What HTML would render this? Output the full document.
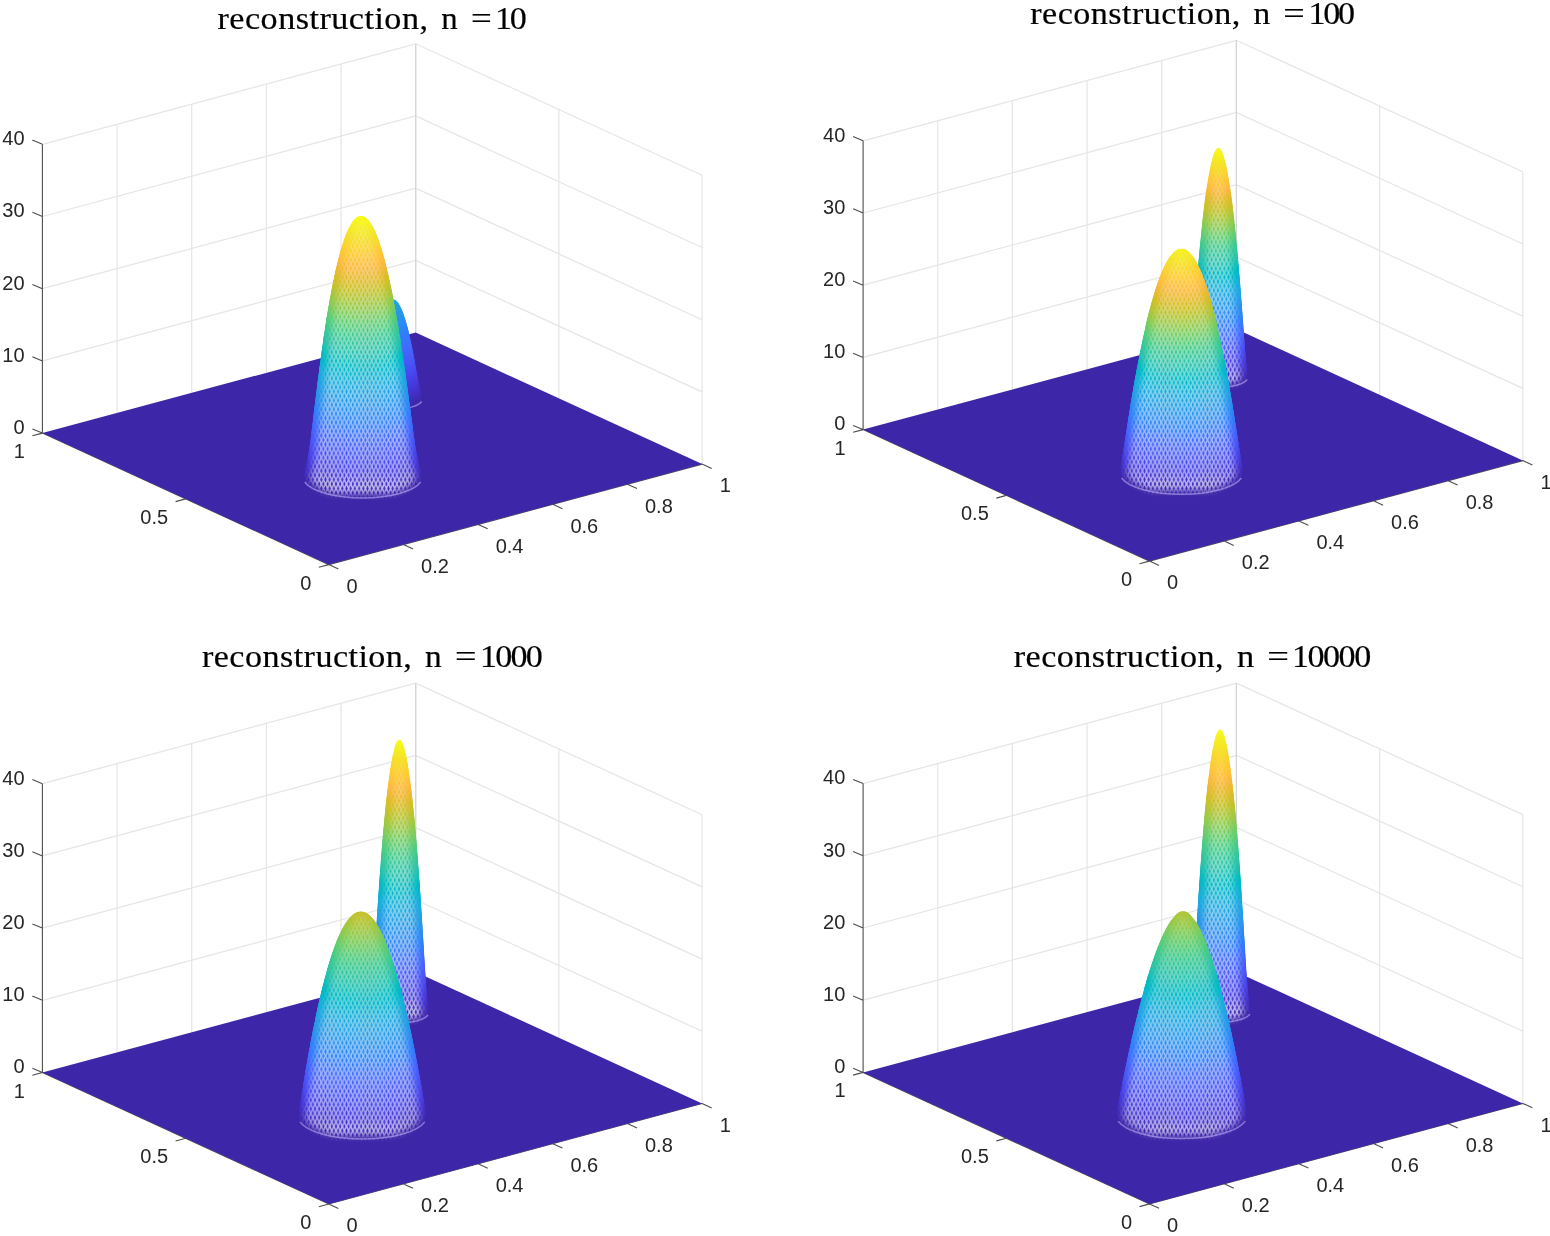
<!DOCTYPE html>
<html lang="en"><head><meta charset="utf-8"><title>reconstruction</title>
<style>html,body{margin:0;padding:0;background:#fff}svg{display:block}.t{font-family:"Liberation Serif","DejaVu Serif",serif;font-size:31px;fill:#000;stroke:#000;stroke-width:0.2px}.k{font-family:"Liberation Sans","DejaVu Sans",sans-serif;font-size:20px;fill:#262626}.g{stroke:#e5e5e5;stroke-width:1.2;fill:none}.a{stroke:#4d4d4d;stroke-width:1.1;fill:none}</style></head><body>
<svg width="1550" height="1236" viewBox="0 0 1550 1236">
<defs>
<pattern id="mesh" patternUnits="userSpaceOnUse" width="4.2" height="8.8"><path d="M0 0H4.2V8.8H0ZM0.95 4.4L2.1 1.5L3.25 4.4L2.1 7.3ZM-1.15 0L0 -2.9L1.15 0L0 2.9ZM3.05 0L4.2 -2.9L5.35 0L4.2 2.9ZM-1.15 8.8L0 5.9L1.15 8.8L0 11.7ZM3.05 8.8L4.2 5.9L5.35 8.8L4.2 11.7Z" fill="#fff" fill-rule="evenodd" fill-opacity="0.74"/><rect width="4.2" height="8.8" fill="#fff" fill-opacity="0.0"/></pattern>
<filter id="bl" x="-30%" y="-10%" width="160%" height="120%"><feGaussianBlur stdDeviation="3.0"/></filter>
<linearGradient id="g2" gradientUnits="userSpaceOnUse" x1="0" y1="496.6" x2="0" y2="216.2"><stop offset="0" stop-color="#fff" stop-opacity="1"/><stop offset="0.035" stop-color="#fff" stop-opacity="0.95"/><stop offset="0.09" stop-color="#fff" stop-opacity="0.72"/><stop offset="0.5" stop-color="#fff" stop-opacity="0.63"/><stop offset="0.8" stop-color="#fff" stop-opacity="0.42"/><stop offset="1" stop-color="#fff" stop-opacity="0.25"/></linearGradient>
<mask id="m2" maskUnits="userSpaceOnUse" x="294.9" y="207.8" width="135.5" height="298.2"><path d="M359.4 221.8L358.1 223.8L356.9 225.8L355.9 227.8L354.9 229.8L354 231.8L353.2 233.8L352.4 235.8L351.7 237.8L351 239.8L350.3 241.8L349.6 243.8L349 245.8L348.4 247.8L347.8 249.8L347.3 251.8L346.7 253.8L346.2 255.8L345.6 257.8L345.1 259.8L344.6 261.8L344.1 263.8L343.7 265.8L343.2 267.8L342.7 269.8L342.3 271.8L341.8 273.8L341.4 275.8L341 277.8L340.6 279.8L340.2 281.8L339.7 283.8L339.3 285.8L339 287.8L338.6 289.8L338.2 291.8L337.8 293.8L337.4 295.8L337.1 297.8L336.7 299.8L336.3 301.8L336 303.8L335.6 305.8L335.3 307.8L335 309.8L334.6 311.8L334.3 313.8L334 315.8L333.6 317.8L333.3 319.8L333 321.8L332.7 323.8L332.4 325.8L332 327.8L331.7 329.8L331.4 331.8L331.1 333.8L330.8 335.8L330.5 337.8L330.2 339.8L329.9 341.8L329.7 343.8L329.4 345.8L329.1 347.8L328.8 349.8L328.5 351.8L328.2 353.8L328 355.8L327.7 357.8L327.4 359.8L327.2 361.8L326.9 363.8L326.6 365.8L326.4 367.8L326.1 369.8L325.8 371.8L325.6 373.8L325.3 375.8L325.1 377.8L324.8 379.8L324.6 381.8L324.3 383.8L324.1 385.8L323.8 387.8L323.6 389.8L323.3 391.8L323.1 393.8L322.8 395.8L322.6 397.8L322.3 399.8L322.1 401.8L321.9 403.8L321.6 405.8L321.4 407.8L321.1 409.8L320.9 411.8L320.7 413.8L320.4 415.8L320.2 417.8L320 419.8L319.7 421.8L319.5 423.8L319.2 425.8L319 427.8L318.8 429.8L318.5 431.8L318.3 433.8L318 435.8L317.8 437.8L317.5 439.8L317.2 441.8L317 443.8L316.7 445.8L316.4 447.8L316.1 449.8L315.8 451.8L315.4 453.8L315.1 455.8L314.7 457.8L314.4 459.8L313.9 461.8L313.5 463.8L313 465.8L312.5 467.8L311.9 469.8L311.3 471.8L310.6 473.8L310 475.8L309.9 477.8L310.4 479.8L311.5 481.8L313.1 483.8L315.4 485.8L318.4 487.8L322.3 489.8L327.3 491.8L333.9 493.8L391.5 493.8L398.1 491.8L403.1 489.8L407 487.8L410 485.8L412.3 483.8L413.9 481.8L415 479.8L415.5 477.8L415.4 475.8L414.8 473.8L414.1 471.8L413.4 469.8L412.8 467.8L412.3 465.8L411.8 463.8L411.3 461.8L410.9 459.8L410.4 457.8L410.1 455.8L409.7 453.8L409.3 451.8L409 449.8L408.7 447.8L408.3 445.8L408 443.8L407.7 441.8L407.5 439.8L407.2 437.8L406.9 435.8L406.6 433.8L406.3 431.8L406.1 429.8L405.8 427.8L405.5 425.8L405.3 423.8L405 421.8L404.7 419.8L404.5 417.8L404.2 415.8L404 413.8L403.7 411.8L403.4 409.8L403.2 407.8L402.9 405.8L402.6 403.8L402.4 401.8L402.1 399.8L401.9 397.8L401.6 395.8L401.3 393.8L401.1 391.8L400.8 389.8L400.5 387.8L400.2 385.8L400 383.8L399.7 381.8L399.4 379.8L399.1 377.8L398.9 375.8L398.6 373.8L398.3 371.8L398 369.8L397.7 367.8L397.4 365.8L397.1 363.8L396.8 361.8L396.5 359.8L396.3 357.8L396 355.8L395.7 353.8L395.4 351.8L395 349.8L394.7 347.8L394.4 345.8L394.1 343.8L393.8 341.8L393.5 339.8L393.2 337.8L392.8 335.8L392.5 333.8L392.2 331.8L391.9 329.8L391.5 327.8L391.2 325.8L390.9 323.8L390.5 321.8L390.2 319.8L389.8 317.8L389.5 315.8L389.1 313.8L388.8 311.8L388.4 309.8L388 307.8L387.7 305.8L387.3 303.8L386.9 301.8L386.5 299.8L386.1 297.8L385.8 295.8L385.4 293.8L385 291.8L384.5 289.8L384.1 287.8L383.7 285.8L383.3 283.8L382.9 281.8L382.4 279.8L382 277.8L381.5 275.8L381.1 273.8L380.6 271.8L380.1 269.8L379.6 267.8L379.2 265.8L378.7 263.8L378.1 261.8L377.6 259.8L377.1 257.8L376.5 255.8L376 253.8L375.4 251.8L374.8 249.8L374.2 247.8L373.6 245.8L372.9 243.8L372.2 241.8L371.5 239.8L370.8 237.8L370 235.8L369.2 233.8L368.4 231.8L367.5 229.8L366.5 227.8L365.4 225.8L364.2 223.8L362.9 221.8Z" fill="url(#g2)" filter="url(#bl)"/></mask>
<linearGradient id="g3" gradientUnits="userSpaceOnUse" x1="0" y1="386.9" x2="0" y2="147.8"><stop offset="0" stop-color="#fff" stop-opacity="1"/><stop offset="0.035" stop-color="#fff" stop-opacity="0.95"/><stop offset="0.09" stop-color="#fff" stop-opacity="0.72"/><stop offset="0.5" stop-color="#fff" stop-opacity="0.63"/><stop offset="0.8" stop-color="#fff" stop-opacity="0.42"/><stop offset="1" stop-color="#fff" stop-opacity="0.25"/></linearGradient>
<mask id="m3" maskUnits="userSpaceOnUse" x="1180.8" y="139.7" width="75.2" height="255.7"><path d="M1217.5 165.8L1217.1 167.8L1216.7 169.8L1216.3 171.8L1215.9 173.8L1215.5 175.8L1215.2 177.8L1214.8 179.8L1214.5 181.8L1214.2 183.8L1213.9 185.8L1213.6 187.8L1213.3 189.8L1213 191.8L1212.8 193.8L1212.5 195.8L1212.2 197.8L1212 199.8L1211.7 201.8L1211.4 203.8L1211.2 205.8L1211 207.8L1210.7 209.8L1210.5 211.8L1210.3 213.8L1210 215.8L1209.8 217.8L1209.6 219.8L1209.4 221.8L1209.2 223.8L1208.9 225.8L1208.7 227.8L1208.5 229.8L1208.3 231.8L1208.1 233.8L1207.9 235.8L1207.7 237.8L1207.5 239.8L1207.3 241.8L1207.1 243.8L1207 245.8L1206.8 247.8L1206.6 249.8L1206.4 251.8L1206.2 253.8L1206 255.8L1205.9 257.8L1205.7 259.8L1205.5 261.8L1205.3 263.8L1205.2 265.8L1205 267.8L1204.8 269.8L1204.6 271.8L1204.5 273.8L1204.3 275.8L1204.2 277.8L1204 279.8L1203.8 281.8L1203.7 283.8L1203.5 285.8L1203.3 287.8L1203.2 289.8L1203 291.8L1202.9 293.8L1202.7 295.8L1202.6 297.8L1202.4 299.8L1202.3 301.8L1202.1 303.8L1202 305.8L1201.8 307.8L1201.7 309.8L1201.5 311.8L1201.4 313.8L1201.2 315.8L1201.1 317.8L1200.9 319.8L1200.8 321.8L1200.6 323.8L1200.5 325.8L1200.3 327.8L1200.2 329.8L1200.1 331.8L1199.9 333.8L1199.8 335.8L1199.6 337.8L1199.5 339.8L1199.3 341.8L1199.1 343.8L1199 345.8L1198.8 347.8L1198.7 349.8L1198.5 351.8L1198.3 353.8L1198.2 355.8L1198 357.8L1197.8 359.8L1197.6 361.8L1197.4 363.8L1197.2 365.8L1196.9 367.8L1196.7 369.8L1196.4 371.8L1196.2 373.8L1195.8 375.8L1195.8 377.8L1196.8 379.8L1199 381.8L1202.8 383.8L1234 383.8L1237.8 381.8L1240 379.8L1241 377.8L1241 375.8L1240.6 373.8L1240.4 371.8L1240.1 369.8L1239.9 367.8L1239.6 365.8L1239.4 363.8L1239.2 361.8L1239 359.8L1238.8 357.8L1238.6 355.8L1238.5 353.8L1238.3 351.8L1238.1 349.8L1238 347.8L1237.8 345.8L1237.7 343.8L1237.5 341.8L1237.3 339.8L1237.2 337.8L1237 335.8L1236.9 333.8L1236.7 331.8L1236.6 329.8L1236.5 327.8L1236.3 325.8L1236.2 323.8L1236 321.8L1235.9 319.8L1235.7 317.8L1235.6 315.8L1235.4 313.8L1235.3 311.8L1235.1 309.8L1235 307.8L1234.8 305.8L1234.7 303.8L1234.5 301.8L1234.4 299.8L1234.2 297.8L1234.1 295.8L1233.9 293.8L1233.8 291.8L1233.6 289.8L1233.5 287.8L1233.3 285.8L1233.1 283.8L1233 281.8L1232.8 279.8L1232.6 277.8L1232.5 275.8L1232.3 273.8L1232.2 271.8L1232 269.8L1231.8 267.8L1231.6 265.8L1231.5 263.8L1231.3 261.8L1231.1 259.8L1230.9 257.8L1230.8 255.8L1230.6 253.8L1230.4 251.8L1230.2 249.8L1230 247.8L1229.8 245.8L1229.7 243.8L1229.5 241.8L1229.3 239.8L1229.1 237.8L1228.9 235.8L1228.7 233.8L1228.5 231.8L1228.3 229.8L1228.1 227.8L1227.9 225.8L1227.6 223.8L1227.4 221.8L1227.2 219.8L1227 217.8L1226.8 215.8L1226.5 213.8L1226.3 211.8L1226.1 209.8L1225.8 207.8L1225.6 205.8L1225.4 203.8L1225.1 201.8L1224.8 199.8L1224.6 197.8L1224.3 195.8L1224 193.8L1223.8 191.8L1223.5 189.8L1223.2 187.8L1222.9 185.8L1222.6 183.8L1222.3 181.8L1222 179.8L1221.6 177.8L1221.3 175.8L1220.9 173.8L1220.5 171.8L1220.1 169.8L1219.7 167.8L1219.3 165.8Z" fill="url(#g3)" filter="url(#bl)"/></mask>
<linearGradient id="g4" gradientUnits="userSpaceOnUse" x1="0" y1="494.3" x2="0" y2="249.1"><stop offset="0" stop-color="#fff" stop-opacity="1"/><stop offset="0.035" stop-color="#fff" stop-opacity="0.95"/><stop offset="0.09" stop-color="#fff" stop-opacity="0.72"/><stop offset="0.5" stop-color="#fff" stop-opacity="0.63"/><stop offset="0.8" stop-color="#fff" stop-opacity="0.42"/><stop offset="1" stop-color="#fff" stop-opacity="0.25"/></linearGradient>
<mask id="m4" maskUnits="userSpaceOnUse" x="1111.7" y="240.6" width="139.6" height="262"><path d="M1180.3 252.6L1178.5 254.6L1176.9 256.6L1175.6 258.6L1174.3 260.6L1173.2 262.6L1172.2 264.6L1171.2 266.6L1170.2 268.6L1169.4 270.6L1168.5 272.6L1167.7 274.6L1166.9 276.6L1166.1 278.6L1165.4 280.6L1164.7 282.6L1164 284.6L1163.3 286.6L1162.7 288.6L1162.1 290.6L1161.4 292.6L1160.8 294.6L1160.2 296.6L1159.6 298.6L1159.1 300.6L1158.5 302.6L1158 304.6L1157.4 306.6L1156.9 308.6L1156.4 310.6L1155.9 312.6L1155.4 314.6L1154.9 316.6L1154.4 318.6L1153.9 320.6L1153.4 322.6L1152.9 324.6L1152.5 326.6L1152 328.6L1151.6 330.6L1151.1 332.6L1150.7 334.6L1150.2 336.6L1149.8 338.6L1149.4 340.6L1148.9 342.6L1148.5 344.6L1148.1 346.6L1147.7 348.6L1147.3 350.6L1146.9 352.6L1146.5 354.6L1146.1 356.6L1145.7 358.6L1145.3 360.6L1144.9 362.6L1144.6 364.6L1144.2 366.6L1143.8 368.6L1143.4 370.6L1143.1 372.6L1142.7 374.6L1142.3 376.6L1142 378.6L1141.6 380.6L1141.3 382.6L1140.9 384.6L1140.6 386.6L1140.2 388.6L1139.9 390.6L1139.5 392.6L1139.2 394.6L1138.9 396.6L1138.5 398.6L1138.2 400.6L1137.9 402.6L1137.5 404.6L1137.2 406.6L1136.9 408.6L1136.6 410.6L1136.2 412.6L1135.9 414.6L1135.6 416.6L1135.3 418.6L1135 420.6L1134.7 422.6L1134.4 424.6L1134 426.6L1133.7 428.6L1133.4 430.6L1133.1 432.6L1132.8 434.6L1132.5 436.6L1132.2 438.6L1131.9 440.6L1131.6 442.6L1131.3 444.6L1131 446.6L1130.6 448.6L1130.3 450.6L1130 452.6L1129.7 454.6L1129.4 456.6L1129.1 458.6L1128.7 460.6L1128.4 462.6L1128.1 464.6L1127.7 466.6L1127.3 468.6L1127 470.6L1126.7 472.6L1126.9 474.6L1127.7 476.6L1129 478.6L1130.9 480.6L1133.4 482.6L1136.7 484.6L1140.8 486.6L1146.2 488.6L1153.2 490.6L1209.8 490.6L1216.8 488.6L1222.2 486.6L1226.3 484.6L1229.6 482.6L1232.1 480.6L1234 478.6L1235.3 476.6L1236.1 474.6L1236.3 472.6L1236 470.6L1235.7 468.6L1235.3 466.6L1234.9 464.6L1234.6 462.6L1234.3 460.6L1233.9 458.6L1233.6 456.6L1233.3 454.6L1233 452.6L1232.7 450.6L1232.4 448.6L1232 446.6L1231.7 444.6L1231.4 442.6L1231.1 440.6L1230.8 438.6L1230.5 436.6L1230.2 434.6L1229.9 432.6L1229.6 430.6L1229.3 428.6L1229 426.6L1228.6 424.6L1228.3 422.6L1228 420.6L1227.7 418.6L1227.4 416.6L1227.1 414.6L1226.8 412.6L1226.4 410.6L1226.1 408.6L1225.8 406.6L1225.5 404.6L1225.1 402.6L1224.8 400.6L1224.5 398.6L1224.1 396.6L1223.8 394.6L1223.5 392.6L1223.1 390.6L1222.8 388.6L1222.4 386.6L1222.1 384.6L1221.7 382.6L1221.4 380.6L1221 378.6L1220.7 376.6L1220.3 374.6L1219.9 372.6L1219.6 370.6L1219.2 368.6L1218.8 366.6L1218.4 364.6L1218.1 362.6L1217.7 360.6L1217.3 358.6L1216.9 356.6L1216.5 354.6L1216.1 352.6L1215.7 350.6L1215.3 348.6L1214.9 346.6L1214.5 344.6L1214.1 342.6L1213.6 340.6L1213.2 338.6L1212.8 336.6L1212.3 334.6L1211.9 332.6L1211.4 330.6L1211 328.6L1210.5 326.6L1210.1 324.6L1209.6 322.6L1209.1 320.6L1208.6 318.6L1208.1 316.6L1207.6 314.6L1207.1 312.6L1206.6 310.6L1206.1 308.6L1205.6 306.6L1205 304.6L1204.5 302.6L1203.9 300.6L1203.4 298.6L1202.8 296.6L1202.2 294.6L1201.6 292.6L1200.9 290.6L1200.3 288.6L1199.7 286.6L1199 284.6L1198.3 282.6L1197.6 280.6L1196.9 278.6L1196.1 276.6L1195.3 274.6L1194.5 272.6L1193.6 270.6L1192.8 268.6L1191.8 266.6L1190.8 264.6L1189.8 262.6L1188.7 260.6L1187.4 258.6L1186.1 256.6L1184.5 254.6L1182.7 252.6Z" fill="url(#g4)" filter="url(#bl)"/></mask>
<linearGradient id="g5" gradientUnits="userSpaceOnUse" x1="0" y1="1022.3" x2="0" y2="739.3"><stop offset="0" stop-color="#fff" stop-opacity="1"/><stop offset="0.035" stop-color="#fff" stop-opacity="0.95"/><stop offset="0.09" stop-color="#fff" stop-opacity="0.72"/><stop offset="0.5" stop-color="#fff" stop-opacity="0.63"/><stop offset="0.8" stop-color="#fff" stop-opacity="0.42"/><stop offset="1" stop-color="#fff" stop-opacity="0.25"/></linearGradient>
<mask id="m5" maskUnits="userSpaceOnUse" x="362" y="731.3" width="74.8" height="299.6"><path d="M398.8 759.3L398.5 761.3L398.1 763.3L397.8 765.3L397.5 767.3L397.1 769.3L396.8 771.3L396.5 773.3L396.3 775.3L396 777.3L395.7 779.3L395.5 781.3L395.2 783.3L394.9 785.3L394.7 787.3L394.4 789.3L394.2 791.3L394 793.3L393.8 795.3L393.5 797.3L393.3 799.3L393.1 801.3L392.9 803.3L392.7 805.3L392.5 807.3L392.3 809.3L392.1 811.3L391.9 813.3L391.7 815.3L391.5 817.3L391.3 819.3L391.1 821.3L390.9 823.3L390.7 825.3L390.6 827.3L390.4 829.3L390.2 831.3L390 833.3L389.9 835.3L389.7 837.3L389.5 839.3L389.3 841.3L389.2 843.3L389 845.3L388.9 847.3L388.7 849.3L388.5 851.3L388.4 853.3L388.2 855.3L388.1 857.3L387.9 859.3L387.8 861.3L387.6 863.3L387.4 865.3L387.3 867.3L387.1 869.3L387 871.3L386.9 873.3L386.7 875.3L386.6 877.3L386.4 879.3L386.3 881.3L386.1 883.3L386 885.3L385.9 887.3L385.7 889.3L385.6 891.3L385.4 893.3L385.3 895.3L385.2 897.3L385 899.3L384.9 901.3L384.8 903.3L384.6 905.3L384.5 907.3L384.4 909.3L384.3 911.3L384.1 913.3L384 915.3L383.9 917.3L383.7 919.3L383.6 921.3L383.5 923.3L383.4 925.3L383.2 927.3L383.1 929.3L383 931.3L382.9 933.3L382.8 935.3L382.6 937.3L382.5 939.3L382.4 941.3L382.3 943.3L382.1 945.3L382 947.3L381.9 949.3L381.8 951.3L381.7 953.3L381.6 955.3L381.4 957.3L381.3 959.3L381.2 961.3L381.1 963.3L380.9 965.3L380.8 967.3L380.7 969.3L380.6 971.3L380.5 973.3L380.3 975.3L380.2 977.3L380.1 979.3L379.9 981.3L379.8 983.3L379.7 985.3L379.5 987.3L379.4 989.3L379.2 991.3L379 993.3L378.9 995.3L378.7 997.3L378.5 999.3L378.3 1001.3L378.1 1003.3L377.9 1005.3L377.6 1007.3L377.3 1009.3L377 1011.3L377 1013.3L378 1015.3L380.3 1017.3L384.2 1019.3L414.6 1019.3L418.5 1017.3L420.8 1015.3L421.8 1013.3L421.8 1011.3L421.5 1009.3L421.2 1007.3L420.9 1005.3L420.7 1003.3L420.5 1001.3L420.3 999.3L420.1 997.3L419.9 995.3L419.8 993.3L419.6 991.3L419.4 989.3L419.3 987.3L419.1 985.3L419 983.3L418.9 981.3L418.7 979.3L418.6 977.3L418.5 975.3L418.3 973.3L418.2 971.3L418.1 969.3L418 967.3L417.9 965.3L417.7 963.3L417.6 961.3L417.5 959.3L417.4 957.3L417.2 955.3L417.1 953.3L417 951.3L416.9 949.3L416.8 947.3L416.7 945.3L416.5 943.3L416.4 941.3L416.3 939.3L416.2 937.3L416 935.3L415.9 933.3L415.8 931.3L415.7 929.3L415.6 927.3L415.4 925.3L415.3 923.3L415.2 921.3L415.1 919.3L414.9 917.3L414.8 915.3L414.7 913.3L414.5 911.3L414.4 909.3L414.3 907.3L414.2 905.3L414 903.3L413.9 901.3L413.8 899.3L413.6 897.3L413.5 895.3L413.4 893.3L413.2 891.3L413.1 889.3L412.9 887.3L412.8 885.3L412.7 883.3L412.5 881.3L412.4 879.3L412.2 877.3L412.1 875.3L411.9 873.3L411.8 871.3L411.7 869.3L411.5 867.3L411.4 865.3L411.2 863.3L411 861.3L410.9 859.3L410.7 857.3L410.6 855.3L410.4 853.3L410.3 851.3L410.1 849.3L409.9 847.3L409.8 845.3L409.6 843.3L409.5 841.3L409.3 839.3L409.1 837.3L408.9 835.3L408.8 833.3L408.6 831.3L408.4 829.3L408.2 827.3L408.1 825.3L407.9 823.3L407.7 821.3L407.5 819.3L407.3 817.3L407.1 815.3L406.9 813.3L406.7 811.3L406.5 809.3L406.3 807.3L406.1 805.3L405.9 803.3L405.7 801.3L405.5 799.3L405.3 797.3L405 795.3L404.8 793.3L404.6 791.3L404.4 789.3L404.1 787.3L403.9 785.3L403.6 783.3L403.3 781.3L403.1 779.3L402.8 777.3L402.5 775.3L402.3 773.3L402 771.3L401.7 769.3L401.3 767.3L401 765.3L400.7 763.3L400.3 761.3L400 759.3Z" fill="url(#g5)" filter="url(#bl)"/></mask>
<linearGradient id="g6" gradientUnits="userSpaceOnUse" x1="0" y1="1139" x2="0" y2="912"><stop offset="0" stop-color="#fff" stop-opacity="1"/><stop offset="0.035" stop-color="#fff" stop-opacity="0.95"/><stop offset="0.09" stop-color="#fff" stop-opacity="0.72"/><stop offset="0.5" stop-color="#fff" stop-opacity="0.63"/><stop offset="0.8" stop-color="#fff" stop-opacity="0.42"/><stop offset="1" stop-color="#fff" stop-opacity="0.25"/></linearGradient>
<mask id="m6" maskUnits="userSpaceOnUse" x="290.2" y="903.4" width="144.5" height="243.7"><path d="M358.8 915.4L356.8 917.4L355.2 919.4L353.7 921.4L352.4 923.4L351.1 925.4L350 927.4L348.9 929.4L347.9 931.4L347 933.4L346 935.4L345.2 937.4L344.3 939.4L343.5 941.4L342.7 943.4L342 945.4L341.2 947.4L340.5 949.4L339.8 951.4L339.1 953.4L338.4 955.4L337.8 957.4L337.2 959.4L336.5 961.4L335.9 963.4L335.3 965.4L334.7 967.4L334.2 969.4L333.6 971.4L333 973.4L332.5 975.4L331.9 977.4L331.4 979.4L330.9 981.4L330.4 983.4L329.9 985.4L329.4 987.4L328.9 989.4L328.4 991.4L327.9 993.4L327.4 995.4L327 997.4L326.5 999.4L326 1001.4L325.6 1003.4L325.1 1005.4L324.7 1007.4L324.3 1009.4L323.8 1011.4L323.4 1013.4L323 1015.4L322.5 1017.4L322.1 1019.4L321.7 1021.4L321.3 1023.4L320.9 1025.4L320.5 1027.4L320.1 1029.4L319.7 1031.4L319.3 1033.4L318.9 1035.4L318.5 1037.4L318.2 1039.4L317.8 1041.4L317.4 1043.4L317 1045.4L316.7 1047.4L316.3 1049.4L315.9 1051.4L315.6 1053.4L315.2 1055.4L314.9 1057.4L314.5 1059.4L314.1 1061.4L313.8 1063.4L313.5 1065.4L313.1 1067.4L312.8 1069.4L312.4 1071.4L312.1 1073.4L311.7 1075.4L311.4 1077.4L311.1 1079.4L310.7 1081.4L310.4 1083.4L310.1 1085.4L309.8 1087.4L309.4 1089.4L309.1 1091.4L308.8 1093.4L308.4 1095.4L308.1 1097.4L307.8 1099.4L307.5 1101.4L307.1 1103.4L306.8 1105.4L306.5 1107.4L306.2 1109.4L305.8 1111.4L305.5 1113.4L305.2 1115.4L305.2 1117.4L305.6 1119.4L306.6 1121.4L308.2 1123.4L310.3 1125.4L313.1 1127.4L316.7 1129.4L321.1 1131.4L326.8 1133.4L334.2 1135.4L390.6 1135.4L398 1133.4L403.7 1131.4L408.1 1129.4L411.7 1127.4L414.5 1125.4L416.6 1123.4L418.2 1121.4L419.2 1119.4L419.6 1117.4L419.6 1115.4L419.3 1113.4L418.9 1111.4L418.5 1109.4L418.2 1107.4L417.8 1105.4L417.5 1103.4L417.1 1101.4L416.8 1099.4L416.4 1097.4L416 1095.4L415.7 1093.4L415.3 1091.4L415 1089.4L414.6 1087.4L414.3 1085.4L413.9 1083.4L413.5 1081.4L413.2 1079.4L412.8 1077.4L412.4 1075.4L412.1 1073.4L411.7 1071.4L411.3 1069.4L410.9 1067.4L410.6 1065.4L410.2 1063.4L409.8 1061.4L409.4 1059.4L409 1057.4L408.7 1055.4L408.3 1053.4L407.9 1051.4L407.5 1049.4L407.1 1047.4L406.7 1045.4L406.3 1043.4L405.9 1041.4L405.5 1039.4L405 1037.4L404.6 1035.4L404.2 1033.4L403.8 1031.4L403.4 1029.4L402.9 1027.4L402.5 1025.4L402.1 1023.4L401.6 1021.4L401.2 1019.4L400.7 1017.4L400.3 1015.4L399.8 1013.4L399.4 1011.4L398.9 1009.4L398.4 1007.4L397.9 1005.4L397.5 1003.4L397 1001.4L396.5 999.4L396 997.4L395.5 995.4L395 993.4L394.5 991.4L394 989.4L393.4 987.4L392.9 985.4L392.4 983.4L391.8 981.4L391.3 979.4L390.7 977.4L390.1 975.4L389.5 973.4L389 971.4L388.4 969.4L387.7 967.4L387.1 965.4L386.5 963.4L385.9 961.4L385.2 959.4L384.5 957.4L383.9 955.4L383.2 953.4L382.4 951.4L381.7 949.4L381 947.4L380.2 945.4L379.4 943.4L378.6 941.4L377.7 939.4L376.9 937.4L375.9 935.4L375 933.4L374 931.4L373 929.4L371.9 927.4L370.7 925.4L369.4 923.4L368.1 921.4L366.6 919.4L364.9 917.4L362.8 915.4Z" fill="url(#g6)" filter="url(#bl)"/></mask>
<linearGradient id="g7" gradientUnits="userSpaceOnUse" x1="0" y1="1021.4" x2="0" y2="729.1"><stop offset="0" stop-color="#fff" stop-opacity="1"/><stop offset="0.035" stop-color="#fff" stop-opacity="0.95"/><stop offset="0.09" stop-color="#fff" stop-opacity="0.72"/><stop offset="0.5" stop-color="#fff" stop-opacity="0.63"/><stop offset="0.8" stop-color="#fff" stop-opacity="0.42"/><stop offset="1" stop-color="#fff" stop-opacity="0.25"/></linearGradient>
<mask id="m7" maskUnits="userSpaceOnUse" x="1181.3" y="721.1" width="77.6" height="309.2"><path d="M1219.6 749.2L1219.2 751.2L1218.9 753.2L1218.5 755.2L1218.2 757.2L1217.9 759.2L1217.6 761.2L1217.3 763.2L1217 765.2L1216.7 767.2L1216.5 769.2L1216.2 771.2L1216 773.2L1215.7 775.2L1215.5 777.2L1215.2 779.2L1215 781.2L1214.8 783.2L1214.5 785.2L1214.3 787.2L1214.1 789.2L1213.9 791.2L1213.7 793.2L1213.5 795.2L1213.2 797.2L1213 799.2L1212.9 801.2L1212.7 803.2L1212.5 805.2L1212.3 807.2L1212.1 809.2L1211.9 811.2L1211.7 813.2L1211.5 815.2L1211.4 817.2L1211.2 819.2L1211 821.2L1210.8 823.2L1210.6 825.2L1210.5 827.2L1210.3 829.2L1210.1 831.2L1210 833.2L1209.8 835.2L1209.7 837.2L1209.5 839.2L1209.3 841.2L1209.2 843.2L1209 845.2L1208.9 847.2L1208.7 849.2L1208.6 851.2L1208.4 853.2L1208.3 855.2L1208.1 857.2L1208 859.2L1207.8 861.2L1207.7 863.2L1207.5 865.2L1207.4 867.2L1207.2 869.2L1207.1 871.2L1207 873.2L1206.8 875.2L1206.7 877.2L1206.5 879.2L1206.4 881.2L1206.3 883.2L1206.1 885.2L1206 887.2L1205.9 889.2L1205.7 891.2L1205.6 893.2L1205.5 895.2L1205.3 897.2L1205.2 899.2L1205.1 901.2L1205 903.2L1204.8 905.2L1204.7 907.2L1204.6 909.2L1204.5 911.2L1204.3 913.2L1204.2 915.2L1204.1 917.2L1204 919.2L1203.8 921.2L1203.7 923.2L1203.6 925.2L1203.5 927.2L1203.4 929.2L1203.2 931.2L1203.1 933.2L1203 935.2L1202.9 937.2L1202.8 939.2L1202.6 941.2L1202.5 943.2L1202.4 945.2L1202.3 947.2L1202.2 949.2L1202 951.2L1201.9 953.2L1201.8 955.2L1201.7 957.2L1201.6 959.2L1201.4 961.2L1201.3 963.2L1201.2 965.2L1201.1 967.2L1200.9 969.2L1200.8 971.2L1200.7 973.2L1200.5 975.2L1200.4 977.2L1200.3 979.2L1200.1 981.2L1200 983.2L1199.8 985.2L1199.6 987.2L1199.4 989.2L1199.3 991.2L1199 993.2L1198.8 995.2L1198.6 997.2L1198.4 999.2L1198.1 1001.2L1197.8 1003.2L1197.5 1005.2L1197.1 1007.2L1196.7 1009.2L1196.3 1011.2L1196.7 1013.2L1198.1 1015.2L1200.8 1017.2L1205.3 1019.2L1234.9 1019.2L1239.4 1017.2L1242.1 1015.2L1243.5 1013.2L1243.9 1011.2L1243.5 1009.2L1243.1 1007.2L1242.7 1005.2L1242.4 1003.2L1242.1 1001.2L1241.8 999.2L1241.6 997.2L1241.4 995.2L1241.2 993.2L1240.9 991.2L1240.8 989.2L1240.6 987.2L1240.4 985.2L1240.2 983.2L1240.1 981.2L1239.9 979.2L1239.8 977.2L1239.7 975.2L1239.5 973.2L1239.4 971.2L1239.3 969.2L1239.1 967.2L1239 965.2L1238.9 963.2L1238.8 961.2L1238.6 959.2L1238.5 957.2L1238.4 955.2L1238.3 953.2L1238.2 951.2L1238 949.2L1237.9 947.2L1237.8 945.2L1237.7 943.2L1237.6 941.2L1237.4 939.2L1237.3 937.2L1237.2 935.2L1237.1 933.2L1237 931.2L1236.8 929.2L1236.7 927.2L1236.6 925.2L1236.5 923.2L1236.4 921.2L1236.2 919.2L1236.1 917.2L1236 915.2L1235.9 913.2L1235.7 911.2L1235.6 909.2L1235.5 907.2L1235.4 905.2L1235.2 903.2L1235.1 901.2L1235 899.2L1234.9 897.2L1234.7 895.2L1234.6 893.2L1234.5 891.2L1234.3 889.2L1234.2 887.2L1234.1 885.2L1233.9 883.2L1233.8 881.2L1233.7 879.2L1233.5 877.2L1233.4 875.2L1233.2 873.2L1233.1 871.2L1233 869.2L1232.8 867.2L1232.7 865.2L1232.5 863.2L1232.4 861.2L1232.2 859.2L1232.1 857.2L1231.9 855.2L1231.8 853.2L1231.6 851.2L1231.5 849.2L1231.3 847.2L1231.2 845.2L1231 843.2L1230.9 841.2L1230.7 839.2L1230.5 837.2L1230.4 835.2L1230.2 833.2L1230.1 831.2L1229.9 829.2L1229.7 827.2L1229.6 825.2L1229.4 823.2L1229.2 821.2L1229 819.2L1228.8 817.2L1228.7 815.2L1228.5 813.2L1228.3 811.2L1228.1 809.2L1227.9 807.2L1227.7 805.2L1227.5 803.2L1227.3 801.2L1227.2 799.2L1227 797.2L1226.7 795.2L1226.5 793.2L1226.3 791.2L1226.1 789.2L1225.9 787.2L1225.7 785.2L1225.4 783.2L1225.2 781.2L1225 779.2L1224.7 777.2L1224.5 775.2L1224.2 773.2L1224 771.2L1223.7 769.2L1223.5 767.2L1223.2 765.2L1222.9 763.2L1222.6 761.2L1222.3 759.2L1222 757.2L1221.7 755.2L1221.3 753.2L1221 751.2L1220.6 749.2Z" fill="url(#g7)" filter="url(#bl)"/></mask>
<linearGradient id="g8" gradientUnits="userSpaceOnUse" x1="0" y1="1138.6" x2="0" y2="911.4"><stop offset="0" stop-color="#fff" stop-opacity="1"/><stop offset="0.035" stop-color="#fff" stop-opacity="0.95"/><stop offset="0.09" stop-color="#fff" stop-opacity="0.72"/><stop offset="0.5" stop-color="#fff" stop-opacity="0.63"/><stop offset="0.8" stop-color="#fff" stop-opacity="0.42"/><stop offset="1" stop-color="#fff" stop-opacity="0.25"/></linearGradient>
<mask id="m8" maskUnits="userSpaceOnUse" x="1108.1" y="903.1" width="147.2" height="243.6"><path d="M1182.5 915.1L1180.6 917.1L1179 919.1L1177.6 921.1L1176.3 923.1L1175.1 925.1L1173.9 927.1L1172.8 929.1L1171.8 931.1L1170.8 933.1L1169.9 935.1L1168.9 937.1L1168.1 939.1L1167.2 941.1L1166.4 943.1L1165.6 945.1L1164.8 947.1L1164 949.1L1163.2 951.1L1162.5 953.1L1161.8 955.1L1161.1 957.1L1160.4 959.1L1159.7 961.1L1159 963.1L1158.4 965.1L1157.7 967.1L1157.1 969.1L1156.4 971.1L1155.8 973.1L1155.2 975.1L1154.6 977.1L1154 979.1L1153.4 981.1L1152.8 983.1L1152.2 985.1L1151.7 987.1L1151.1 989.1L1150.6 991.1L1150 993.1L1149.5 995.1L1148.9 997.1L1148.4 999.1L1147.9 1001.1L1147.3 1003.1L1146.8 1005.1L1146.3 1007.1L1145.8 1009.1L1145.3 1011.1L1144.8 1013.1L1144.3 1015.1L1143.8 1017.1L1143.3 1019.1L1142.8 1021.1L1142.4 1023.1L1141.9 1025.1L1141.4 1027.1L1141 1029.1L1140.5 1031.1L1140 1033.1L1139.6 1035.1L1139.1 1037.1L1138.7 1039.1L1138.2 1041.1L1137.8 1043.1L1137.3 1045.1L1136.9 1047.1L1136.4 1049.1L1136 1051.1L1135.6 1053.1L1135.1 1055.1L1134.7 1057.1L1134.3 1059.1L1133.9 1061.1L1133.4 1063.1L1133 1065.1L1132.6 1067.1L1132.2 1069.1L1131.8 1071.1L1131.4 1073.1L1131 1075.1L1130.6 1077.1L1130.1 1079.1L1129.7 1081.1L1129.3 1083.1L1128.9 1085.1L1128.5 1087.1L1128.1 1089.1L1127.8 1091.1L1127.4 1093.1L1127 1095.1L1126.6 1097.1L1126.2 1099.1L1125.8 1101.1L1125.4 1103.1L1125 1105.1L1124.6 1107.1L1124.2 1109.1L1123.8 1111.1L1123.4 1113.1L1123.1 1115.1L1123.2 1117.1L1123.9 1119.1L1125 1121.1L1126.7 1123.1L1129 1125.1L1131.9 1127.1L1135.6 1129.1L1140.2 1131.1L1146.1 1133.1L1153.8 1135.1L1209.6 1135.1L1217.3 1133.1L1223.2 1131.1L1227.8 1129.1L1231.5 1127.1L1234.4 1125.1L1236.7 1123.1L1238.4 1121.1L1239.5 1119.1L1240.2 1117.1L1240.3 1115.1L1240 1113.1L1239.6 1111.1L1239.2 1109.1L1238.9 1107.1L1238.5 1105.1L1238.2 1103.1L1237.8 1101.1L1237.4 1099.1L1237.1 1097.1L1236.7 1095.1L1236.3 1093.1L1236 1091.1L1235.6 1089.1L1235.2 1087.1L1234.9 1085.1L1234.5 1083.1L1234.1 1081.1L1233.7 1079.1L1233.4 1077.1L1233 1075.1L1232.6 1073.1L1232.2 1071.1L1231.8 1069.1L1231.4 1067.1L1231.1 1065.1L1230.7 1063.1L1230.3 1061.1L1229.9 1059.1L1229.5 1057.1L1229.1 1055.1L1228.7 1053.1L1228.3 1051.1L1227.9 1049.1L1227.4 1047.1L1227 1045.1L1226.6 1043.1L1226.2 1041.1L1225.8 1039.1L1225.3 1037.1L1224.9 1035.1L1224.5 1033.1L1224.1 1031.1L1223.6 1029.1L1223.2 1027.1L1222.7 1025.1L1222.3 1023.1L1221.8 1021.1L1221.4 1019.1L1220.9 1017.1L1220.4 1015.1L1220 1013.1L1219.5 1011.1L1219 1009.1L1218.6 1007.1L1218.1 1005.1L1217.6 1003.1L1217.1 1001.1L1216.6 999.1L1216.1 997.1L1215.6 995.1L1215 993.1L1214.5 991.1L1214 989.1L1213.5 987.1L1212.9 985.1L1212.4 983.1L1211.8 981.1L1211.3 979.1L1210.7 977.1L1210.1 975.1L1209.5 973.1L1208.9 971.1L1208.3 969.1L1207.7 967.1L1207.1 965.1L1206.5 963.1L1205.8 961.1L1205.2 959.1L1204.5 957.1L1203.8 955.1L1203.1 953.1L1202.4 951.1L1201.7 949.1L1200.9 947.1L1200.2 945.1L1199.4 943.1L1198.6 941.1L1197.7 939.1L1196.9 937.1L1196 935.1L1195.1 933.1L1194.1 931.1L1193.1 929.1L1192.1 927.1L1190.9 925.1L1189.7 923.1L1188.5 921.1L1187.1 919.1L1185.5 917.1L1183.6 915.1Z" fill="url(#g8)" filter="url(#bl)"/></mask>
</defs>
<rect width="1550" height="1236" fill="#fff"/>
<g>
<path class="g" d="M117.1 413L117.1 124.2M191.7 392.9L191.7 104.1M266.4 372.8L266.4 84M341 352.7L341 63.9M415.7 332.6L415.7 43.8M702.1 464.1L702.1 175.3M558.9 398.4L558.9 109.6M42.4 360.9L415.7 260.4L702.1 391.9M42.4 288.7L415.7 188.2L702.1 319.7M42.4 216.5L415.7 116L702.1 247.5M42.4 144.3L415.7 43.8L702.1 175.3"/>
<path class="g" style="stroke:#d4d4d4" d="M415.7 332.6L415.7 43.8"/>
<path class="a" d="M42.4 144.3L42.4 433.1M42.4 433.1L328.8 564.6L702.1 464.1M42.4 433.1L32.4 428.9M42.4 360.9L32.4 356.7M42.4 288.7L32.4 284.5M42.4 216.5L32.4 212.3M42.4 144.3L32.4 140.1M328.8 564.6L318.8 567.3M185.6 498.9L175.6 501.6M42.4 433.1L32.4 435.8M328.8 564.6L338.4 569M403.5 544.5L413.1 548.9M478.1 524.4L487.7 528.8M552.8 504.3L562.4 508.7M627.4 484.2L637 488.6M702.1 464.1L711.7 468.5"/>
<path d="M42.4 433.1L328.8 564.6L702.1 464.1L415.7 332.6Z" fill="#3e26a8"/>
<g><ellipse cx="393.2" cy="399" rx="29.4" ry="10.3" fill="#3e26a8"/><ellipse cx="393.2" cy="398" rx="29.1" ry="10.2" fill="#3e27ab"/><ellipse cx="393.2" cy="397" rx="28.8" ry="10.1" fill="#3f28ae"/><ellipse cx="393.2" cy="396" rx="28.6" ry="10" fill="#3f29b1"/><ellipse cx="393.2" cy="395" rx="28.3" ry="10" fill="#402ab4"/><ellipse cx="393.2" cy="394" rx="28" ry="9.9" fill="#402bb7"/><ellipse cx="393.2" cy="393" rx="27.8" ry="9.8" fill="#412cb9"/><ellipse cx="393.2" cy="392" rx="27.5" ry="9.7" fill="#412dbc"/><ellipse cx="393.2" cy="391" rx="27.3" ry="9.6" fill="#422ebf"/><ellipse cx="393.2" cy="390" rx="27.1" ry="9.5" fill="#422fc1"/><ellipse cx="393.2" cy="389.1" rx="26.9" ry="9.4" fill="#4230c4"/><ellipse cx="393.2" cy="388.1" rx="26.6" ry="9.4" fill="#4331c7"/><ellipse cx="393.2" cy="387.1" rx="26.4" ry="9.3" fill="#4332c9"/><ellipse cx="393.2" cy="386.1" rx="26.2" ry="9.2" fill="#4433cc"/><ellipse cx="393.2" cy="385.1" rx="26" ry="9.1" fill="#4434cf"/><ellipse cx="393.2" cy="384.1" rx="25.8" ry="9.1" fill="#4435d1"/><ellipse cx="393.2" cy="383.1" rx="25.6" ry="9" fill="#4536d4"/><ellipse cx="393.2" cy="382.1" rx="25.4" ry="8.9" fill="#4537d6"/><ellipse cx="393.2" cy="381.1" rx="25.2" ry="8.9" fill="#4538d8"/><ellipse cx="393.2" cy="380.1" rx="25" ry="8.8" fill="#463ada"/><ellipse cx="393.2" cy="379.1" rx="24.8" ry="8.7" fill="#463bdc"/><ellipse cx="393.2" cy="378.1" rx="24.6" ry="8.7" fill="#463cde"/><ellipse cx="393.2" cy="377.1" rx="24.4" ry="8.6" fill="#463de0"/><ellipse cx="393.2" cy="376.1" rx="24.2" ry="8.5" fill="#473fe2"/><ellipse cx="393.2" cy="375.1" rx="24" ry="8.5" fill="#4740e4"/><ellipse cx="393.2" cy="374.1" rx="23.8" ry="8.4" fill="#4741e5"/><ellipse cx="393.2" cy="373.1" rx="23.7" ry="8.3" fill="#4743e7"/><ellipse cx="393.2" cy="372.1" rx="23.5" ry="8.3" fill="#4744e8"/><ellipse cx="393.2" cy="371.1" rx="23.3" ry="8.2" fill="#4745ea"/><ellipse cx="393.2" cy="370.1" rx="23.1" ry="8.1" fill="#4747eb"/><ellipse cx="393.2" cy="369.1" rx="22.9" ry="8.1" fill="#4848ec"/><ellipse cx="393.2" cy="368.2" rx="22.7" ry="8" fill="#484aed"/><ellipse cx="393.2" cy="367.2" rx="22.6" ry="7.9" fill="#484bef"/><ellipse cx="393.2" cy="366.2" rx="22.4" ry="7.9" fill="#484cf0"/><ellipse cx="393.2" cy="365.2" rx="22.2" ry="7.8" fill="#484ef1"/><ellipse cx="393.2" cy="364.2" rx="22" ry="7.7" fill="#484ff2"/><ellipse cx="393.2" cy="363.2" rx="21.8" ry="7.7" fill="#4850f3"/><ellipse cx="393.2" cy="362.2" rx="21.6" ry="7.6" fill="#4852f4"/><ellipse cx="393.2" cy="361.2" rx="21.5" ry="7.5" fill="#4853f5"/><ellipse cx="393.2" cy="360.2" rx="21.3" ry="7.5" fill="#4854f6"/><ellipse cx="393.2" cy="359.2" rx="21.1" ry="7.4" fill="#4756f6"/><ellipse cx="393.2" cy="358.2" rx="20.9" ry="7.4" fill="#4757f7"/><ellipse cx="393.2" cy="357.2" rx="20.7" ry="7.3" fill="#4758f8"/><ellipse cx="393.2" cy="356.2" rx="20.5" ry="7.2" fill="#475af9"/><ellipse cx="393.2" cy="355.2" rx="20.3" ry="7.2" fill="#475bf9"/><ellipse cx="393.2" cy="354.2" rx="20.1" ry="7.1" fill="#475cfa"/><ellipse cx="393.2" cy="353.2" rx="20" ry="7" fill="#465efb"/><ellipse cx="393.2" cy="352.2" rx="19.8" ry="7" fill="#465ffb"/><ellipse cx="393.2" cy="351.2" rx="19.6" ry="6.9" fill="#4661fc"/><ellipse cx="393.2" cy="350.2" rx="19.4" ry="6.8" fill="#4562fc"/><ellipse cx="393.2" cy="349.2" rx="19.2" ry="6.7" fill="#4563fd"/><ellipse cx="393.2" cy="348.3" rx="19" ry="6.7" fill="#4465fd"/><ellipse cx="393.2" cy="347.3" rx="18.8" ry="6.6" fill="#4466fd"/><ellipse cx="393.2" cy="346.3" rx="18.6" ry="6.5" fill="#4368fd"/><ellipse cx="393.2" cy="345.3" rx="18.4" ry="6.5" fill="#4269fe"/><ellipse cx="393.2" cy="344.3" rx="18.2" ry="6.4" fill="#416afe"/><ellipse cx="393.2" cy="343.3" rx="18" ry="6.3" fill="#406cfe"/><ellipse cx="393.2" cy="342.3" rx="17.8" ry="6.2" fill="#3f6dfe"/><ellipse cx="393.2" cy="341.3" rx="17.5" ry="6.2" fill="#3e6fff"/><ellipse cx="393.2" cy="340.3" rx="17.3" ry="6.1" fill="#3d70ff"/><ellipse cx="393.2" cy="339.3" rx="17.1" ry="6" fill="#3c72ff"/><ellipse cx="393.2" cy="338.3" rx="16.9" ry="5.9" fill="#3a73fe"/><ellipse cx="393.2" cy="337.3" rx="16.7" ry="5.9" fill="#3975fe"/><ellipse cx="393.2" cy="336.3" rx="16.5" ry="5.8" fill="#3776fe"/><ellipse cx="393.2" cy="335.3" rx="16.2" ry="5.7" fill="#3678fe"/><ellipse cx="393.2" cy="334.3" rx="16" ry="5.6" fill="#3479fd"/><ellipse cx="393.2" cy="333.3" rx="15.8" ry="5.5" fill="#337bfd"/><ellipse cx="393.2" cy="332.3" rx="15.5" ry="5.5" fill="#327cfc"/><ellipse cx="393.2" cy="331.3" rx="15.3" ry="5.4" fill="#317efb"/><ellipse cx="393.2" cy="330.3" rx="15.1" ry="5.3" fill="#307ffb"/><ellipse cx="393.2" cy="329.4" rx="14.8" ry="5.2" fill="#2f80fa"/><ellipse cx="393.2" cy="328.4" rx="14.6" ry="5.1" fill="#2f82fa"/><ellipse cx="393.2" cy="327.4" rx="14.3" ry="5" fill="#2e83f9"/><ellipse cx="393.2" cy="326.4" rx="14" ry="4.9" fill="#2e84f8"/><ellipse cx="393.2" cy="325.4" rx="13.8" ry="4.8" fill="#2e86f8"/><ellipse cx="393.2" cy="324.4" rx="13.5" ry="4.8" fill="#2e87f7"/><ellipse cx="393.2" cy="323.4" rx="13.2" ry="4.7" fill="#2d88f6"/><ellipse cx="393.2" cy="322.4" rx="13" ry="4.6" fill="#2d8af5"/><ellipse cx="393.2" cy="321.4" rx="12.7" ry="4.5" fill="#2d8bf4"/><ellipse cx="393.2" cy="320.4" rx="12.4" ry="4.4" fill="#2d8cf3"/><ellipse cx="393.2" cy="319.4" rx="12.1" ry="4.3" fill="#2d8df2"/><ellipse cx="393.2" cy="318.4" rx="11.8" ry="4.1" fill="#2c8ff1"/><ellipse cx="393.2" cy="317.4" rx="11.5" ry="4" fill="#2c90f0"/><ellipse cx="393.2" cy="316.4" rx="11.1" ry="3.9" fill="#2b91ef"/><ellipse cx="393.2" cy="315.4" rx="10.8" ry="3.8" fill="#2a92ee"/><ellipse cx="393.2" cy="314.4" rx="10.5" ry="3.7" fill="#2994ed"/><ellipse cx="393.2" cy="313.4" rx="10.1" ry="3.6" fill="#2995ec"/><ellipse cx="393.2" cy="312.4" rx="9.7" ry="3.4" fill="#2896eb"/><ellipse cx="393.2" cy="311.4" rx="9.4" ry="3.3" fill="#2797eb"/><ellipse cx="393.2" cy="310.4" rx="9" ry="3.2" fill="#2698ea"/><ellipse cx="393.2" cy="309.4" rx="8.5" ry="3" fill="#269ae9"/><ellipse cx="393.2" cy="308.5" rx="8.1" ry="2.9" fill="#259be8"/><ellipse cx="393.2" cy="307.5" rx="7.6" ry="2.7" fill="#259ce7"/><ellipse cx="393.2" cy="306.5" rx="7.1" ry="2.5" fill="#259de7"/><ellipse cx="393.2" cy="305.5" rx="6.6" ry="2.3" fill="#249ee6"/><ellipse cx="393.2" cy="304.5" rx="6" ry="2.1" fill="#249fe5"/><ellipse cx="393.2" cy="303.5" rx="5.4" ry="1.9" fill="#23a0e5"/><ellipse cx="393.2" cy="302.5" rx="4.7" ry="1.6" fill="#22a2e4"/><ellipse cx="393.2" cy="301.5" rx="3.8" ry="1.3" fill="#21a3e4"/><ellipse cx="393.2" cy="300.5" rx="2.7" ry="1" fill="#21a4e3"/></g>
<path d="M364.7 401.5A29.4 10.3 0 0 0 421.7 401.5" fill="none" stroke="#c4b8ff" stroke-opacity="0.55" stroke-width="1.5"/>
<g><ellipse cx="362.7" cy="477" rx="59.8" ry="21" fill="#3e26a8"/><ellipse cx="362.7" cy="476" rx="59.4" ry="20.9" fill="#3e27ab"/><ellipse cx="362.7" cy="475" rx="59.1" ry="20.8" fill="#3f28ae"/><ellipse cx="362.7" cy="474" rx="58.7" ry="20.7" fill="#3f29b1"/><ellipse cx="362.7" cy="473" rx="58.4" ry="20.5" fill="#402ab4"/><ellipse cx="362.7" cy="472" rx="58.1" ry="20.4" fill="#402bb7"/><ellipse cx="362.7" cy="471" rx="57.8" ry="20.3" fill="#412cb9"/><ellipse cx="362.7" cy="470" rx="57.5" ry="20.2" fill="#412dbc"/><ellipse cx="362.7" cy="469" rx="57.2" ry="20.1" fill="#422ebf"/><ellipse cx="362.6" cy="468" rx="57" ry="20" fill="#422fc1"/><ellipse cx="362.6" cy="467" rx="56.7" ry="19.9" fill="#4230c4"/><ellipse cx="362.6" cy="466" rx="56.5" ry="19.9" fill="#4331c7"/><ellipse cx="362.6" cy="465" rx="56.2" ry="19.8" fill="#4332ca"/><ellipse cx="362.6" cy="464" rx="56" ry="19.7" fill="#4433cc"/><ellipse cx="362.6" cy="463" rx="55.8" ry="19.6" fill="#4434cf"/><ellipse cx="362.6" cy="462" rx="55.6" ry="19.5" fill="#4435d1"/><ellipse cx="362.6" cy="461" rx="55.3" ry="19.5" fill="#4536d4"/><ellipse cx="362.6" cy="460" rx="55.1" ry="19.4" fill="#4537d6"/><ellipse cx="362.6" cy="459" rx="55" ry="19.3" fill="#4538d8"/><ellipse cx="362.6" cy="458" rx="54.8" ry="19.3" fill="#463ada"/><ellipse cx="362.6" cy="457" rx="54.6" ry="19.2" fill="#463bdd"/><ellipse cx="362.6" cy="456" rx="54.4" ry="19.1" fill="#463cdf"/><ellipse cx="362.6" cy="455" rx="54.2" ry="19.1" fill="#463de0"/><ellipse cx="362.6" cy="454" rx="54.1" ry="19" fill="#473fe2"/><ellipse cx="362.6" cy="453" rx="53.9" ry="19" fill="#4740e4"/><ellipse cx="362.5" cy="452" rx="53.7" ry="18.9" fill="#4741e5"/><ellipse cx="362.5" cy="451" rx="53.6" ry="18.8" fill="#4743e7"/><ellipse cx="362.5" cy="450" rx="53.4" ry="18.8" fill="#4744e8"/><ellipse cx="362.5" cy="449" rx="53.2" ry="18.7" fill="#4746ea"/><ellipse cx="362.5" cy="448" rx="53.1" ry="18.7" fill="#4747eb"/><ellipse cx="362.5" cy="447" rx="52.9" ry="18.6" fill="#4848ec"/><ellipse cx="362.5" cy="446" rx="52.8" ry="18.6" fill="#484aee"/><ellipse cx="362.5" cy="445" rx="52.6" ry="18.5" fill="#484bef"/><ellipse cx="362.5" cy="444" rx="52.5" ry="18.5" fill="#484cf0"/><ellipse cx="362.5" cy="443" rx="52.4" ry="18.4" fill="#484ef1"/><ellipse cx="362.5" cy="442" rx="52.2" ry="18.4" fill="#484ff2"/><ellipse cx="362.5" cy="441" rx="52.1" ry="18.3" fill="#4851f3"/><ellipse cx="362.5" cy="440" rx="51.9" ry="18.3" fill="#4852f4"/><ellipse cx="362.5" cy="439" rx="51.8" ry="18.2" fill="#4853f5"/><ellipse cx="362.5" cy="438" rx="51.7" ry="18.2" fill="#4755f6"/><ellipse cx="362.5" cy="437" rx="51.5" ry="18.1" fill="#4756f7"/><ellipse cx="362.4" cy="436" rx="51.4" ry="18.1" fill="#4757f7"/><ellipse cx="362.4" cy="435" rx="51.3" ry="18" fill="#4759f8"/><ellipse cx="362.4" cy="434" rx="51.1" ry="18" fill="#475af9"/><ellipse cx="362.4" cy="433" rx="51" ry="17.9" fill="#475bfa"/><ellipse cx="362.4" cy="432" rx="50.9" ry="17.9" fill="#475dfa"/><ellipse cx="362.4" cy="431" rx="50.8" ry="17.9" fill="#465efb"/><ellipse cx="362.4" cy="430" rx="50.6" ry="17.8" fill="#465ffb"/><ellipse cx="362.4" cy="429" rx="50.5" ry="17.8" fill="#4561fc"/><ellipse cx="362.4" cy="428" rx="50.4" ry="17.7" fill="#4562fc"/><ellipse cx="362.4" cy="427" rx="50.2" ry="17.7" fill="#4564fd"/><ellipse cx="362.4" cy="426" rx="50.1" ry="17.6" fill="#4465fd"/><ellipse cx="362.4" cy="425" rx="50" ry="17.6" fill="#4366fd"/><ellipse cx="362.4" cy="424" rx="49.9" ry="17.5" fill="#4368fe"/><ellipse cx="362.4" cy="423" rx="49.7" ry="17.5" fill="#4269fe"/><ellipse cx="362.4" cy="422" rx="49.6" ry="17.5" fill="#416bfe"/><ellipse cx="362.4" cy="421" rx="49.5" ry="17.4" fill="#406cfe"/><ellipse cx="362.4" cy="420" rx="49.4" ry="17.4" fill="#3f6efe"/><ellipse cx="362.3" cy="419" rx="49.2" ry="17.3" fill="#3e6fff"/><ellipse cx="362.3" cy="418" rx="49.1" ry="17.3" fill="#3d71ff"/><ellipse cx="362.3" cy="417" rx="49" ry="17.2" fill="#3b72ff"/><ellipse cx="362.3" cy="416" rx="48.9" ry="17.2" fill="#3a74fe"/><ellipse cx="362.3" cy="415" rx="48.7" ry="17.1" fill="#3875fe"/><ellipse cx="362.3" cy="414" rx="48.6" ry="17.1" fill="#3777fe"/><ellipse cx="362.3" cy="413" rx="48.5" ry="17.1" fill="#3578fd"/><ellipse cx="362.3" cy="412" rx="48.4" ry="17" fill="#347afd"/><ellipse cx="362.3" cy="411.1" rx="48.3" ry="17" fill="#327bfc"/><ellipse cx="362.3" cy="410.1" rx="48.1" ry="16.9" fill="#317dfc"/><ellipse cx="362.3" cy="409.1" rx="48" ry="16.9" fill="#317efb"/><ellipse cx="362.3" cy="408.1" rx="47.9" ry="16.8" fill="#307ffb"/><ellipse cx="362.3" cy="407.1" rx="47.8" ry="16.8" fill="#2f81fa"/><ellipse cx="362.3" cy="406.1" rx="47.6" ry="16.8" fill="#2f82f9"/><ellipse cx="362.3" cy="405.1" rx="47.5" ry="16.7" fill="#2e83f9"/><ellipse cx="362.3" cy="404.1" rx="47.4" ry="16.7" fill="#2e85f8"/><ellipse cx="362.2" cy="403.1" rx="47.3" ry="16.6" fill="#2e86f7"/><ellipse cx="362.2" cy="402.1" rx="47.1" ry="16.6" fill="#2d87f6"/><ellipse cx="362.2" cy="401.1" rx="47" ry="16.5" fill="#2d89f5"/><ellipse cx="362.2" cy="400.1" rx="46.9" ry="16.5" fill="#2d8af4"/><ellipse cx="362.2" cy="399.1" rx="46.7" ry="16.4" fill="#2d8bf3"/><ellipse cx="362.2" cy="398.1" rx="46.6" ry="16.4" fill="#2d8df2"/><ellipse cx="362.2" cy="397.1" rx="46.5" ry="16.4" fill="#2c8ef1"/><ellipse cx="362.2" cy="396.1" rx="46.4" ry="16.3" fill="#2c8ff0"/><ellipse cx="362.2" cy="395.1" rx="46.2" ry="16.3" fill="#2b90f0"/><ellipse cx="362.2" cy="394.1" rx="46.1" ry="16.2" fill="#2b92ef"/><ellipse cx="362.2" cy="393.1" rx="46" ry="16.2" fill="#2a93ee"/><ellipse cx="362.2" cy="392.1" rx="45.9" ry="16.1" fill="#2994ed"/><ellipse cx="362.2" cy="391.1" rx="45.7" ry="16.1" fill="#2895ec"/><ellipse cx="362.2" cy="390.1" rx="45.6" ry="16" fill="#2797eb"/><ellipse cx="362.2" cy="389.1" rx="45.5" ry="16" fill="#2798ea"/><ellipse cx="362.2" cy="388.1" rx="45.3" ry="15.9" fill="#2699e9"/><ellipse cx="362.1" cy="387.1" rx="45.2" ry="15.9" fill="#269ae8"/><ellipse cx="362.1" cy="386.1" rx="45.1" ry="15.9" fill="#259be8"/><ellipse cx="362.1" cy="385.1" rx="44.9" ry="15.8" fill="#259ce7"/><ellipse cx="362.1" cy="384.1" rx="44.8" ry="15.8" fill="#249de6"/><ellipse cx="362.1" cy="383.1" rx="44.7" ry="15.7" fill="#249fe6"/><ellipse cx="362.1" cy="382.1" rx="44.5" ry="15.7" fill="#23a0e5"/><ellipse cx="362.1" cy="381.1" rx="44.4" ry="15.6" fill="#23a1e4"/><ellipse cx="362.1" cy="380.1" rx="44.3" ry="15.6" fill="#22a2e4"/><ellipse cx="362.1" cy="379.1" rx="44.2" ry="15.5" fill="#21a3e3"/><ellipse cx="362.1" cy="378.1" rx="44" ry="15.5" fill="#20a4e3"/><ellipse cx="362.1" cy="377.1" rx="43.9" ry="15.4" fill="#1fa5e2"/><ellipse cx="362.1" cy="376.1" rx="43.8" ry="15.4" fill="#1fa6e1"/><ellipse cx="362.1" cy="375.1" rx="43.6" ry="15.3" fill="#1ea7e1"/><ellipse cx="362.1" cy="374.1" rx="43.5" ry="15.3" fill="#1da9e0"/><ellipse cx="362.1" cy="373.1" rx="43.3" ry="15.2" fill="#1caadf"/><ellipse cx="362.1" cy="372.1" rx="43.2" ry="15.2" fill="#1babde"/><ellipse cx="362.1" cy="371.1" rx="43.1" ry="15.2" fill="#1aacdd"/><ellipse cx="362" cy="370.1" rx="42.9" ry="15.1" fill="#19addc"/><ellipse cx="362" cy="369.1" rx="42.8" ry="15.1" fill="#18aedb"/><ellipse cx="362" cy="368.1" rx="42.7" ry="15" fill="#16afda"/><ellipse cx="362" cy="367.1" rx="42.5" ry="15" fill="#15afd8"/><ellipse cx="362" cy="366.1" rx="42.4" ry="14.9" fill="#13b0d7"/><ellipse cx="362" cy="365.1" rx="42.2" ry="14.9" fill="#11b1d6"/><ellipse cx="362" cy="364.1" rx="42.1" ry="14.8" fill="#0fb2d4"/><ellipse cx="362" cy="363.1" rx="42" ry="14.8" fill="#0cb3d3"/><ellipse cx="362" cy="362.1" rx="41.8" ry="14.7" fill="#0ab4d2"/><ellipse cx="362" cy="361.1" rx="41.7" ry="14.7" fill="#08b5d0"/><ellipse cx="362" cy="360.1" rx="41.5" ry="14.6" fill="#06b5cf"/><ellipse cx="362" cy="359.1" rx="41.4" ry="14.6" fill="#04b6cd"/><ellipse cx="362" cy="358.1" rx="41.3" ry="14.5" fill="#03b7cc"/><ellipse cx="362" cy="357.1" rx="41.1" ry="14.5" fill="#01b8ca"/><ellipse cx="362" cy="356.1" rx="41" ry="14.4" fill="#01b8c9"/><ellipse cx="362" cy="355.1" rx="40.8" ry="14.4" fill="#01b9c7"/><ellipse cx="361.9" cy="354.1" rx="40.7" ry="14.3" fill="#01bac5"/><ellipse cx="361.9" cy="353.1" rx="40.5" ry="14.3" fill="#02bac4"/><ellipse cx="361.9" cy="352.1" rx="40.4" ry="14.2" fill="#03bbc2"/><ellipse cx="361.9" cy="351.1" rx="40.3" ry="14.2" fill="#06bcc1"/><ellipse cx="361.9" cy="350.1" rx="40.1" ry="14.1" fill="#08bcbf"/><ellipse cx="361.9" cy="349.1" rx="40" ry="14.1" fill="#0abdbd"/><ellipse cx="361.9" cy="348.1" rx="39.8" ry="14" fill="#0dbdbc"/><ellipse cx="361.9" cy="347.1" rx="39.7" ry="14" fill="#10beba"/><ellipse cx="361.9" cy="346.1" rx="39.5" ry="13.9" fill="#13beb8"/><ellipse cx="361.9" cy="345.1" rx="39.4" ry="13.8" fill="#17bfb7"/><ellipse cx="361.9" cy="344.1" rx="39.2" ry="13.8" fill="#1abfb5"/><ellipse cx="361.9" cy="343.1" rx="39.1" ry="13.7" fill="#1cc0b3"/><ellipse cx="361.9" cy="342.1" rx="38.9" ry="13.7" fill="#1fc1b1"/><ellipse cx="361.9" cy="341.1" rx="38.8" ry="13.6" fill="#22c1b0"/><ellipse cx="361.9" cy="340.1" rx="38.6" ry="13.6" fill="#24c2ae"/><ellipse cx="361.9" cy="339.1" rx="38.5" ry="13.5" fill="#26c2ac"/><ellipse cx="361.8" cy="338.1" rx="38.3" ry="13.5" fill="#28c3aa"/><ellipse cx="361.8" cy="337.1" rx="38.1" ry="13.4" fill="#2ac3a9"/><ellipse cx="361.8" cy="336.1" rx="38" ry="13.4" fill="#2cc4a7"/><ellipse cx="361.8" cy="335.1" rx="37.8" ry="13.3" fill="#2dc4a5"/><ellipse cx="361.8" cy="334.1" rx="37.7" ry="13.3" fill="#2fc5a3"/><ellipse cx="361.8" cy="333.1" rx="37.5" ry="13.2" fill="#30c5a1"/><ellipse cx="361.8" cy="332.1" rx="37.4" ry="13.1" fill="#31c69f"/><ellipse cx="361.8" cy="331.1" rx="37.2" ry="13.1" fill="#33c69d"/><ellipse cx="361.8" cy="330.1" rx="37.1" ry="13" fill="#34c79b"/><ellipse cx="361.8" cy="329.1" rx="36.9" ry="13" fill="#36c799"/><ellipse cx="361.8" cy="328.1" rx="36.7" ry="12.9" fill="#37c897"/><ellipse cx="361.8" cy="327.1" rx="36.6" ry="12.9" fill="#39c895"/><ellipse cx="361.8" cy="326.1" rx="36.4" ry="12.8" fill="#3bc993"/><ellipse cx="361.8" cy="325.1" rx="36.2" ry="12.7" fill="#3dc991"/><ellipse cx="361.8" cy="324.1" rx="36.1" ry="12.7" fill="#3eca8f"/><ellipse cx="361.8" cy="323.1" rx="35.9" ry="12.6" fill="#41ca8c"/><ellipse cx="361.7" cy="322.1" rx="35.8" ry="12.6" fill="#44ca8a"/><ellipse cx="361.7" cy="321.1" rx="35.6" ry="12.5" fill="#46cb88"/><ellipse cx="361.7" cy="320.1" rx="35.4" ry="12.5" fill="#49cb85"/><ellipse cx="361.7" cy="319.1" rx="35.3" ry="12.4" fill="#4ccb83"/><ellipse cx="361.7" cy="318.1" rx="35.1" ry="12.3" fill="#4fcc80"/><ellipse cx="361.7" cy="317.1" rx="34.9" ry="12.3" fill="#52cc7e"/><ellipse cx="361.7" cy="316.1" rx="34.7" ry="12.2" fill="#55cc7c"/><ellipse cx="361.7" cy="315.1" rx="34.6" ry="12.2" fill="#58cc79"/><ellipse cx="361.7" cy="314.1" rx="34.4" ry="12.1" fill="#5bcc76"/><ellipse cx="361.7" cy="313.1" rx="34.2" ry="12" fill="#5ecd74"/><ellipse cx="361.7" cy="312.1" rx="34.1" ry="12" fill="#61cd71"/><ellipse cx="361.7" cy="311.1" rx="33.9" ry="11.9" fill="#65cd6e"/><ellipse cx="361.7" cy="310.1" rx="33.7" ry="11.9" fill="#68cd6c"/><ellipse cx="361.7" cy="309.1" rx="33.5" ry="11.8" fill="#6bcd69"/><ellipse cx="361.7" cy="308.1" rx="33.4" ry="11.7" fill="#6fcd66"/><ellipse cx="361.7" cy="307.1" rx="33.2" ry="11.7" fill="#72cd63"/><ellipse cx="361.7" cy="306.1" rx="33" ry="11.6" fill="#76cc61"/><ellipse cx="361.6" cy="305.1" rx="32.8" ry="11.5" fill="#79cc5e"/><ellipse cx="361.6" cy="304.1" rx="32.6" ry="11.5" fill="#7dcc5b"/><ellipse cx="361.6" cy="303.1" rx="32.5" ry="11.4" fill="#81cc59"/><ellipse cx="361.6" cy="302.1" rx="32.3" ry="11.4" fill="#84cc56"/><ellipse cx="361.6" cy="301.1" rx="32.1" ry="11.3" fill="#88cb53"/><ellipse cx="361.6" cy="300.1" rx="31.9" ry="11.2" fill="#8bcb51"/><ellipse cx="361.6" cy="299.1" rx="31.7" ry="11.2" fill="#8fcb4e"/><ellipse cx="361.6" cy="298.1" rx="31.5" ry="11.1" fill="#92ca4b"/><ellipse cx="361.6" cy="297.1" rx="31.3" ry="11" fill="#96ca49"/><ellipse cx="361.6" cy="296.1" rx="31.1" ry="11" fill="#99c946"/><ellipse cx="361.6" cy="295.1" rx="31" ry="10.9" fill="#9cc943"/><ellipse cx="361.6" cy="294.1" rx="30.8" ry="10.8" fill="#a0c841"/><ellipse cx="361.6" cy="293.1" rx="30.6" ry="10.8" fill="#a3c83f"/><ellipse cx="361.6" cy="292.1" rx="30.4" ry="10.7" fill="#a7c73c"/><ellipse cx="361.6" cy="291.1" rx="30.2" ry="10.6" fill="#aac73a"/><ellipse cx="361.6" cy="290.1" rx="30" ry="10.5" fill="#adc638"/><ellipse cx="361.5" cy="289.1" rx="29.8" ry="10.5" fill="#b0c636"/><ellipse cx="361.5" cy="288.1" rx="29.6" ry="10.4" fill="#b4c534"/><ellipse cx="361.5" cy="287.1" rx="29.4" ry="10.3" fill="#b7c532"/><ellipse cx="361.5" cy="286.1" rx="29.2" ry="10.3" fill="#bac430"/><ellipse cx="361.5" cy="285.1" rx="29" ry="10.2" fill="#bdc32e"/><ellipse cx="361.5" cy="284.1" rx="28.8" ry="10.1" fill="#c0c32d"/><ellipse cx="361.5" cy="283.1" rx="28.6" ry="10" fill="#c3c22b"/><ellipse cx="361.5" cy="282.1" rx="28.3" ry="10" fill="#c6c22a"/><ellipse cx="361.5" cy="281.2" rx="28.1" ry="9.9" fill="#c9c129"/><ellipse cx="361.5" cy="280.2" rx="27.9" ry="9.8" fill="#ccc028"/><ellipse cx="361.5" cy="279.2" rx="27.7" ry="9.7" fill="#cfc028"/><ellipse cx="361.5" cy="278.2" rx="27.5" ry="9.7" fill="#d2bf27"/><ellipse cx="361.5" cy="277.2" rx="27.3" ry="9.6" fill="#d4bf28"/><ellipse cx="361.5" cy="276.2" rx="27.1" ry="9.5" fill="#d7be28"/><ellipse cx="361.5" cy="275.2" rx="26.8" ry="9.4" fill="#dabd28"/><ellipse cx="361.5" cy="274.2" rx="26.6" ry="9.4" fill="#dcbd29"/><ellipse cx="361.4" cy="273.2" rx="26.4" ry="9.3" fill="#dfbc2a"/><ellipse cx="361.4" cy="272.2" rx="26.2" ry="9.2" fill="#e1bc2b"/><ellipse cx="361.4" cy="271.2" rx="25.9" ry="9.1" fill="#e4bb2c"/><ellipse cx="361.4" cy="270.2" rx="25.7" ry="9" fill="#e6bb2d"/><ellipse cx="361.4" cy="269.2" rx="25.5" ry="9" fill="#e8bb2f"/><ellipse cx="361.4" cy="268.2" rx="25.2" ry="8.9" fill="#eaba31"/><ellipse cx="361.4" cy="267.2" rx="25" ry="8.8" fill="#edba33"/><ellipse cx="361.4" cy="266.2" rx="24.7" ry="8.7" fill="#efba35"/><ellipse cx="361.4" cy="265.2" rx="24.5" ry="8.6" fill="#f1ba37"/><ellipse cx="361.4" cy="264.2" rx="24.3" ry="8.5" fill="#f3ba39"/><ellipse cx="361.4" cy="263.2" rx="24" ry="8.4" fill="#f5ba3a"/><ellipse cx="361.4" cy="262.2" rx="23.8" ry="8.4" fill="#f7ba3c"/><ellipse cx="361.4" cy="261.2" rx="23.5" ry="8.3" fill="#f9bb3d"/><ellipse cx="361.4" cy="260.2" rx="23.2" ry="8.2" fill="#fabb3d"/><ellipse cx="361.4" cy="259.2" rx="23" ry="8.1" fill="#fcbc3d"/><ellipse cx="361.4" cy="258.2" rx="22.7" ry="8" fill="#fdbd3d"/><ellipse cx="361.4" cy="257.2" rx="22.4" ry="7.9" fill="#febe3c"/><ellipse cx="361.3" cy="256.2" rx="22.2" ry="7.8" fill="#fec03b"/><ellipse cx="361.3" cy="255.2" rx="21.9" ry="7.7" fill="#fec13a"/><ellipse cx="361.3" cy="254.2" rx="21.6" ry="7.6" fill="#fec239"/><ellipse cx="361.3" cy="253.2" rx="21.3" ry="7.5" fill="#fec438"/><ellipse cx="361.3" cy="252.2" rx="21.1" ry="7.4" fill="#fec537"/><ellipse cx="361.3" cy="251.2" rx="20.8" ry="7.3" fill="#fec736"/><ellipse cx="361.3" cy="250.2" rx="20.5" ry="7.2" fill="#fec835"/><ellipse cx="361.3" cy="249.2" rx="20.2" ry="7.1" fill="#fec934"/><ellipse cx="361.3" cy="248.2" rx="19.9" ry="7" fill="#fdcb33"/><ellipse cx="361.3" cy="247.2" rx="19.6" ry="6.9" fill="#fdcc32"/><ellipse cx="361.3" cy="246.2" rx="19.3" ry="6.8" fill="#fdce31"/><ellipse cx="361.3" cy="245.2" rx="18.9" ry="6.7" fill="#fccf30"/><ellipse cx="361.3" cy="244.2" rx="18.6" ry="6.6" fill="#fcd12f"/><ellipse cx="361.3" cy="243.2" rx="18.3" ry="6.4" fill="#fbd32f"/><ellipse cx="361.3" cy="242.2" rx="18" ry="6.3" fill="#fad42e"/><ellipse cx="361.3" cy="241.2" rx="17.6" ry="6.2" fill="#fad62d"/><ellipse cx="361.2" cy="240.2" rx="17.3" ry="6.1" fill="#f9d72c"/><ellipse cx="361.2" cy="239.2" rx="16.9" ry="5.9" fill="#f8d92c"/><ellipse cx="361.2" cy="238.2" rx="16.5" ry="5.8" fill="#f8da2b"/><ellipse cx="361.2" cy="237.2" rx="16.2" ry="5.7" fill="#f7dc2a"/><ellipse cx="361.2" cy="236.2" rx="15.8" ry="5.6" fill="#f6dd29"/><ellipse cx="361.2" cy="235.2" rx="15.4" ry="5.4" fill="#f6df29"/><ellipse cx="361.2" cy="234.2" rx="15" ry="5.3" fill="#f6e028"/><ellipse cx="361.2" cy="233.2" rx="14.6" ry="5.1" fill="#f5e227"/><ellipse cx="361.2" cy="232.2" rx="14.2" ry="5" fill="#f5e427"/><ellipse cx="361.2" cy="231.2" rx="13.7" ry="4.8" fill="#f5e526"/><ellipse cx="361.2" cy="230.2" rx="13.3" ry="4.7" fill="#f5e725"/><ellipse cx="361.2" cy="229.2" rx="12.8" ry="4.5" fill="#f5e825"/><ellipse cx="361.2" cy="228.2" rx="12.3" ry="4.3" fill="#f5ea24"/><ellipse cx="361.2" cy="227.2" rx="11.8" ry="4.1" fill="#f5eb23"/><ellipse cx="361.2" cy="226.2" rx="11.2" ry="4" fill="#f5ed22"/><ellipse cx="361.2" cy="225.2" rx="10.7" ry="3.8" fill="#f5ee21"/><ellipse cx="361.1" cy="224.2" rx="10.1" ry="3.5" fill="#f6ef20"/><ellipse cx="361.1" cy="223.2" rx="9.4" ry="3.3" fill="#f6f11f"/><ellipse cx="361.1" cy="222.2" rx="8.8" ry="3.1" fill="#f6f21d"/><ellipse cx="361.1" cy="221.2" rx="8" ry="2.8" fill="#f7f41c"/><ellipse cx="361.1" cy="220.2" rx="7.2" ry="2.5" fill="#f7f51b"/><ellipse cx="361.1" cy="219.2" rx="6.2" ry="2.2" fill="#f8f719"/><ellipse cx="361.1" cy="218.2" rx="5.1" ry="1.8" fill="#f8f818"/><ellipse cx="361.1" cy="217.2" rx="3.6" ry="1.3" fill="#f9f916"/></g>
<rect x="294.9" y="207.8" width="135.5" height="298.2" fill="url(#mesh)" mask="url(#m2)"/>
<path d="M304.7 482A59.8 21 0 0 0 420.7 482" fill="none" stroke="#c4b8ff" stroke-opacity="0.55" stroke-width="1.5"/>
<text class="k" x="24.6" y="433.9" text-anchor="end">0</text>
<text class="k" x="24.6" y="361.7" text-anchor="end">10</text>
<text class="k" x="24.6" y="289.5" text-anchor="end">20</text>
<text class="k" x="24.6" y="217.3" text-anchor="end">30</text>
<text class="k" x="24.6" y="145.1" text-anchor="end">40</text>
<text class="k" x="311.3" y="589.6" text-anchor="end">0</text>
<text class="k" x="168.1" y="523.9" text-anchor="end">0.5</text>
<text class="k" x="24.9" y="458.1" text-anchor="end">1</text>
<text class="k" x="346.4" y="592.9" text-anchor="start">0</text>
<text class="k" x="421.1" y="572.8" text-anchor="start">0.2</text>
<text class="k" x="495.7" y="552.7" text-anchor="start">0.4</text>
<text class="k" x="570.4" y="532.6" text-anchor="start">0.6</text>
<text class="k" x="645" y="512.5" text-anchor="start">0.8</text>
<text class="k" x="719.7" y="492.4" text-anchor="start">1</text>
<text class="t" transform="translate(0 28.5) scale(1.1 1)"><tspan x="197.73" letter-spacing="0.45">reconstruction, </tspan><tspan x="401.18" textLength="14.91" lengthAdjust="spacingAndGlyphs">n</tspan> <tspan x="428.09" textLength="18.89" lengthAdjust="spacingAndGlyphs">=</tspan><tspan x="450" letter-spacing="-2.09">10</tspan></text>
</g>
<g>
<path class="g" d="M937.8 409.5L937.8 120.7M1012.4 389.4L1012.4 100.6M1087.1 369.3L1087.1 80.5M1161.7 349.2L1161.7 60.4M1236.4 329.1L1236.4 40.3M1522.8 460.6L1522.8 171.8M1379.6 394.9L1379.6 106.1M863.1 357.4L1236.4 256.9L1522.8 388.4M863.1 285.2L1236.4 184.7L1522.8 316.2M863.1 213L1236.4 112.5L1522.8 244M863.1 140.8L1236.4 40.3L1522.8 171.8"/>
<path class="g" style="stroke:#d4d4d4" d="M1236.4 329.1L1236.4 40.3"/>
<path class="a" d="M863.1 140.8L863.1 429.6M863.1 429.6L1149.5 561.1L1522.8 460.6M863.1 429.6L853.1 425.4M863.1 357.4L853.1 353.2M863.1 285.2L853.1 281M863.1 213L853.1 208.8M863.1 140.8L853.1 136.6M1149.5 561.1L1139.5 563.8M1006.3 495.4L996.3 498.1M863.1 429.6L853.1 432.3M1149.5 561.1L1159.1 565.5M1224.2 541L1233.8 545.4M1298.8 520.9L1308.4 525.3M1373.5 500.8L1383.1 505.2M1448.1 480.7L1457.7 485.1M1522.8 460.6L1532.4 465"/>
<path d="M863.1 429.6L1149.5 561.1L1522.8 460.6L1236.4 329.1Z" fill="#3e26a8"/>
<g><ellipse cx="1218.4" cy="377" rx="29.7" ry="10.4" fill="#3e26a8"/><ellipse cx="1218.4" cy="376" rx="29.5" ry="10.4" fill="#3e27ac"/><ellipse cx="1218.4" cy="375" rx="29.4" ry="10.3" fill="#3f28af"/><ellipse cx="1218.4" cy="374" rx="29.2" ry="10.3" fill="#3f29b2"/><ellipse cx="1218.4" cy="373" rx="29.1" ry="10.2" fill="#402ab5"/><ellipse cx="1218.4" cy="372" rx="29" ry="10.2" fill="#412cb9"/><ellipse cx="1218.4" cy="371" rx="28.8" ry="10.1" fill="#412dbc"/><ellipse cx="1218.4" cy="370" rx="28.7" ry="10.1" fill="#422ebf"/><ellipse cx="1218.4" cy="369" rx="28.6" ry="10.1" fill="#422fc2"/><ellipse cx="1218.4" cy="368" rx="28.5" ry="10" fill="#4330c5"/><ellipse cx="1218.4" cy="367" rx="28.4" ry="10" fill="#4331c8"/><ellipse cx="1218.4" cy="366" rx="28.2" ry="9.9" fill="#4432cb"/><ellipse cx="1218.4" cy="365" rx="28.1" ry="9.9" fill="#4434ce"/><ellipse cx="1218.4" cy="364" rx="28" ry="9.9" fill="#4435d1"/><ellipse cx="1218.4" cy="363" rx="27.9" ry="9.8" fill="#4536d4"/><ellipse cx="1218.4" cy="362.1" rx="27.8" ry="9.8" fill="#4537d6"/><ellipse cx="1218.4" cy="361.1" rx="27.7" ry="9.8" fill="#4539d9"/><ellipse cx="1218.4" cy="360.1" rx="27.6" ry="9.7" fill="#463adb"/><ellipse cx="1218.4" cy="359.1" rx="27.5" ry="9.7" fill="#463bdd"/><ellipse cx="1218.4" cy="358.1" rx="27.4" ry="9.7" fill="#463de0"/><ellipse cx="1218.4" cy="357.1" rx="27.3" ry="9.6" fill="#473ee2"/><ellipse cx="1218.4" cy="356.1" rx="27.3" ry="9.6" fill="#4740e3"/><ellipse cx="1218.4" cy="355.1" rx="27.2" ry="9.6" fill="#4741e5"/><ellipse cx="1218.4" cy="354.1" rx="27.1" ry="9.5" fill="#4743e7"/><ellipse cx="1218.4" cy="353.1" rx="27" ry="9.5" fill="#4745e9"/><ellipse cx="1218.4" cy="352.1" rx="26.9" ry="9.5" fill="#4746ea"/><ellipse cx="1218.4" cy="351.1" rx="26.8" ry="9.4" fill="#4848ec"/><ellipse cx="1218.4" cy="350.1" rx="26.7" ry="9.4" fill="#4849ed"/><ellipse cx="1218.4" cy="349.1" rx="26.7" ry="9.4" fill="#484bee"/><ellipse cx="1218.4" cy="348.1" rx="26.6" ry="9.3" fill="#484cf0"/><ellipse cx="1218.4" cy="347.1" rx="26.5" ry="9.3" fill="#484ef1"/><ellipse cx="1218.4" cy="346.1" rx="26.4" ry="9.3" fill="#484ff2"/><ellipse cx="1218.4" cy="345.1" rx="26.3" ry="9.3" fill="#4851f3"/><ellipse cx="1218.4" cy="344.1" rx="26.3" ry="9.2" fill="#4853f4"/><ellipse cx="1218.4" cy="343.1" rx="26.2" ry="9.2" fill="#4854f5"/><ellipse cx="1218.4" cy="342.1" rx="26.1" ry="9.2" fill="#4756f6"/><ellipse cx="1218.4" cy="341.1" rx="26" ry="9.2" fill="#4757f7"/><ellipse cx="1218.4" cy="340.1" rx="26" ry="9.1" fill="#4759f8"/><ellipse cx="1218.4" cy="339.1" rx="25.9" ry="9.1" fill="#475af9"/><ellipse cx="1218.4" cy="338.1" rx="25.8" ry="9.1" fill="#475cfa"/><ellipse cx="1218.4" cy="337.1" rx="25.7" ry="9.1" fill="#465dfb"/><ellipse cx="1218.4" cy="336.1" rx="25.7" ry="9" fill="#465ffb"/><ellipse cx="1218.4" cy="335.1" rx="25.6" ry="9" fill="#4660fc"/><ellipse cx="1218.4" cy="334.1" rx="25.5" ry="9" fill="#4562fc"/><ellipse cx="1218.4" cy="333.2" rx="25.4" ry="8.9" fill="#4564fd"/><ellipse cx="1218.4" cy="332.2" rx="25.4" ry="8.9" fill="#4465fd"/><ellipse cx="1218.4" cy="331.2" rx="25.3" ry="8.9" fill="#4367fd"/><ellipse cx="1218.4" cy="330.2" rx="25.2" ry="8.9" fill="#4368fe"/><ellipse cx="1218.4" cy="329.2" rx="25.1" ry="8.8" fill="#426afe"/><ellipse cx="1218.4" cy="328.2" rx="25.1" ry="8.8" fill="#416cfe"/><ellipse cx="1218.4" cy="327.2" rx="25" ry="8.8" fill="#3f6dfe"/><ellipse cx="1218.4" cy="326.2" rx="24.9" ry="8.8" fill="#3e6fff"/><ellipse cx="1218.4" cy="325.2" rx="24.9" ry="8.7" fill="#3d71ff"/><ellipse cx="1218.4" cy="324.2" rx="24.8" ry="8.7" fill="#3b72fe"/><ellipse cx="1218.4" cy="323.2" rx="24.7" ry="8.7" fill="#3974fe"/><ellipse cx="1218.4" cy="322.2" rx="24.6" ry="8.7" fill="#3876fe"/><ellipse cx="1218.4" cy="321.2" rx="24.6" ry="8.6" fill="#3677fe"/><ellipse cx="1218.4" cy="320.2" rx="24.5" ry="8.6" fill="#3479fd"/><ellipse cx="1218.4" cy="319.2" rx="24.4" ry="8.6" fill="#337bfc"/><ellipse cx="1218.4" cy="318.2" rx="24.3" ry="8.6" fill="#327dfc"/><ellipse cx="1218.4" cy="317.2" rx="24.3" ry="8.5" fill="#317efb"/><ellipse cx="1218.4" cy="316.2" rx="24.2" ry="8.5" fill="#3080fb"/><ellipse cx="1218.4" cy="315.2" rx="24.1" ry="8.5" fill="#2f81fa"/><ellipse cx="1218.4" cy="314.2" rx="24.1" ry="8.5" fill="#2e83f9"/><ellipse cx="1218.4" cy="313.2" rx="24" ry="8.4" fill="#2e84f8"/><ellipse cx="1218.4" cy="312.2" rx="23.9" ry="8.4" fill="#2e86f7"/><ellipse cx="1218.4" cy="311.2" rx="23.8" ry="8.4" fill="#2d87f7"/><ellipse cx="1218.4" cy="310.2" rx="23.8" ry="8.4" fill="#2d89f5"/><ellipse cx="1218.4" cy="309.2" rx="23.7" ry="8.3" fill="#2d8af4"/><ellipse cx="1218.4" cy="308.2" rx="23.6" ry="8.3" fill="#2d8cf3"/><ellipse cx="1218.4" cy="307.2" rx="23.5" ry="8.3" fill="#2d8df2"/><ellipse cx="1218.4" cy="306.2" rx="23.5" ry="8.3" fill="#2c8ff1"/><ellipse cx="1218.4" cy="305.3" rx="23.4" ry="8.2" fill="#2c90f0"/><ellipse cx="1218.4" cy="304.3" rx="23.3" ry="8.2" fill="#2b91ef"/><ellipse cx="1218.4" cy="303.3" rx="23.2" ry="8.2" fill="#2a93ee"/><ellipse cx="1218.4" cy="302.3" rx="23.2" ry="8.1" fill="#2994ed"/><ellipse cx="1218.4" cy="301.3" rx="23.1" ry="8.1" fill="#2896ec"/><ellipse cx="1218.4" cy="300.3" rx="23" ry="8.1" fill="#2797eb"/><ellipse cx="1218.4" cy="299.3" rx="22.9" ry="8.1" fill="#2798ea"/><ellipse cx="1218.4" cy="298.3" rx="22.9" ry="8" fill="#269ae9"/><ellipse cx="1218.4" cy="297.3" rx="22.8" ry="8" fill="#259be8"/><ellipse cx="1218.4" cy="296.3" rx="22.7" ry="8" fill="#259ce7"/><ellipse cx="1218.4" cy="295.3" rx="22.6" ry="8" fill="#249de6"/><ellipse cx="1218.4" cy="294.3" rx="22.6" ry="7.9" fill="#249fe6"/><ellipse cx="1218.4" cy="293.3" rx="22.5" ry="7.9" fill="#23a0e5"/><ellipse cx="1218.4" cy="292.3" rx="22.4" ry="7.9" fill="#22a1e4"/><ellipse cx="1218.4" cy="291.3" rx="22.3" ry="7.9" fill="#21a3e4"/><ellipse cx="1218.4" cy="290.3" rx="22.2" ry="7.8" fill="#20a4e3"/><ellipse cx="1218.4" cy="289.3" rx="22.2" ry="7.8" fill="#1fa5e2"/><ellipse cx="1218.4" cy="288.3" rx="22.1" ry="7.8" fill="#1fa6e1"/><ellipse cx="1218.4" cy="287.3" rx="22" ry="7.7" fill="#1ea8e1"/><ellipse cx="1218.4" cy="286.3" rx="21.9" ry="7.7" fill="#1da9e0"/><ellipse cx="1218.4" cy="285.3" rx="21.8" ry="7.7" fill="#1caadf"/><ellipse cx="1218.4" cy="284.3" rx="21.8" ry="7.7" fill="#1aabdd"/><ellipse cx="1218.4" cy="283.3" rx="21.7" ry="7.6" fill="#19acdc"/><ellipse cx="1218.4" cy="282.3" rx="21.6" ry="7.6" fill="#18addb"/><ellipse cx="1218.4" cy="281.3" rx="21.5" ry="7.6" fill="#16aeda"/><ellipse cx="1218.4" cy="280.3" rx="21.4" ry="7.5" fill="#14b0d8"/><ellipse cx="1218.4" cy="279.3" rx="21.4" ry="7.5" fill="#13b1d7"/><ellipse cx="1218.4" cy="278.3" rx="21.3" ry="7.5" fill="#10b2d5"/><ellipse cx="1218.4" cy="277.3" rx="21.2" ry="7.5" fill="#0eb3d4"/><ellipse cx="1218.4" cy="276.4" rx="21.1" ry="7.4" fill="#0bb3d2"/><ellipse cx="1218.4" cy="275.4" rx="21" ry="7.4" fill="#08b4d1"/><ellipse cx="1218.4" cy="274.4" rx="21" ry="7.4" fill="#06b5cf"/><ellipse cx="1218.4" cy="273.4" rx="20.9" ry="7.3" fill="#04b6cd"/><ellipse cx="1218.4" cy="272.4" rx="20.8" ry="7.3" fill="#03b7cb"/><ellipse cx="1218.4" cy="271.4" rx="20.7" ry="7.3" fill="#01b8ca"/><ellipse cx="1218.4" cy="270.4" rx="20.6" ry="7.3" fill="#01b9c8"/><ellipse cx="1218.4" cy="269.4" rx="20.5" ry="7.2" fill="#01b9c6"/><ellipse cx="1218.4" cy="268.4" rx="20.5" ry="7.2" fill="#02bac4"/><ellipse cx="1218.4" cy="267.4" rx="20.4" ry="7.2" fill="#03bbc2"/><ellipse cx="1218.4" cy="266.4" rx="20.3" ry="7.1" fill="#05bbc1"/><ellipse cx="1218.4" cy="265.4" rx="20.2" ry="7.1" fill="#08bcbf"/><ellipse cx="1218.4" cy="264.4" rx="20.1" ry="7.1" fill="#0bbdbd"/><ellipse cx="1218.4" cy="263.4" rx="20" ry="7" fill="#0ebdbb"/><ellipse cx="1218.4" cy="262.4" rx="19.9" ry="7" fill="#12beb9"/><ellipse cx="1218.4" cy="261.4" rx="19.9" ry="7" fill="#16bfb7"/><ellipse cx="1218.4" cy="260.4" rx="19.8" ry="7" fill="#19bfb5"/><ellipse cx="1218.4" cy="259.4" rx="19.7" ry="6.9" fill="#1cc0b3"/><ellipse cx="1218.4" cy="258.4" rx="19.6" ry="6.9" fill="#1fc1b1"/><ellipse cx="1218.4" cy="257.4" rx="19.5" ry="6.9" fill="#22c1af"/><ellipse cx="1218.4" cy="256.4" rx="19.4" ry="6.8" fill="#25c2ad"/><ellipse cx="1218.4" cy="255.4" rx="19.3" ry="6.8" fill="#27c2ab"/><ellipse cx="1218.4" cy="254.4" rx="19.2" ry="6.8" fill="#29c3a9"/><ellipse cx="1218.4" cy="253.4" rx="19.1" ry="6.7" fill="#2cc4a7"/><ellipse cx="1218.4" cy="252.4" rx="19.1" ry="6.7" fill="#2dc4a5"/><ellipse cx="1218.4" cy="251.4" rx="19" ry="6.7" fill="#2fc5a3"/><ellipse cx="1218.4" cy="250.4" rx="18.9" ry="6.6" fill="#30c5a1"/><ellipse cx="1218.4" cy="249.4" rx="18.8" ry="6.6" fill="#32c69f"/><ellipse cx="1218.4" cy="248.4" rx="18.7" ry="6.6" fill="#33c79d"/><ellipse cx="1218.4" cy="247.5" rx="18.6" ry="6.5" fill="#35c79a"/><ellipse cx="1218.4" cy="246.5" rx="18.5" ry="6.5" fill="#36c898"/><ellipse cx="1218.4" cy="245.5" rx="18.4" ry="6.5" fill="#38c896"/><ellipse cx="1218.4" cy="244.5" rx="18.3" ry="6.4" fill="#3ac993"/><ellipse cx="1218.4" cy="243.5" rx="18.2" ry="6.4" fill="#3dc991"/><ellipse cx="1218.4" cy="242.5" rx="18.1" ry="6.4" fill="#3fca8e"/><ellipse cx="1218.4" cy="241.5" rx="18" ry="6.3" fill="#42ca8c"/><ellipse cx="1218.4" cy="240.5" rx="17.9" ry="6.3" fill="#45cb89"/><ellipse cx="1218.4" cy="239.5" rx="17.8" ry="6.3" fill="#48cb86"/><ellipse cx="1218.4" cy="238.5" rx="17.7" ry="6.2" fill="#4bcb84"/><ellipse cx="1218.4" cy="237.5" rx="17.6" ry="6.2" fill="#4fcc81"/><ellipse cx="1218.4" cy="236.5" rx="17.5" ry="6.2" fill="#52cc7e"/><ellipse cx="1218.4" cy="235.5" rx="17.4" ry="6.1" fill="#56cc7b"/><ellipse cx="1218.4" cy="234.5" rx="17.3" ry="6.1" fill="#59cc78"/><ellipse cx="1218.4" cy="233.5" rx="17.2" ry="6.1" fill="#5dcc75"/><ellipse cx="1218.4" cy="232.5" rx="17.1" ry="6" fill="#60cd72"/><ellipse cx="1218.4" cy="231.5" rx="17" ry="6" fill="#64cd6f"/><ellipse cx="1218.4" cy="230.5" rx="16.9" ry="6" fill="#67cd6c"/><ellipse cx="1218.4" cy="229.5" rx="16.8" ry="5.9" fill="#6bcd69"/><ellipse cx="1218.4" cy="228.5" rx="16.7" ry="5.9" fill="#6fcd66"/><ellipse cx="1218.4" cy="227.5" rx="16.6" ry="5.9" fill="#73cd63"/><ellipse cx="1218.4" cy="226.5" rx="16.5" ry="5.8" fill="#77cc60"/><ellipse cx="1218.4" cy="225.5" rx="16.4" ry="5.8" fill="#7bcc5d"/><ellipse cx="1218.4" cy="224.5" rx="16.3" ry="5.7" fill="#7fcc5a"/><ellipse cx="1218.4" cy="223.5" rx="16.2" ry="5.7" fill="#83cc57"/><ellipse cx="1218.4" cy="222.5" rx="16.1" ry="5.7" fill="#87cb54"/><ellipse cx="1218.4" cy="221.5" rx="16" ry="5.6" fill="#8bcb51"/><ellipse cx="1218.4" cy="220.5" rx="15.9" ry="5.6" fill="#8fcb4e"/><ellipse cx="1218.4" cy="219.5" rx="15.8" ry="5.5" fill="#93ca4b"/><ellipse cx="1218.4" cy="218.6" rx="15.7" ry="5.5" fill="#97ca48"/><ellipse cx="1218.4" cy="217.6" rx="15.6" ry="5.5" fill="#9bc945"/><ellipse cx="1218.4" cy="216.6" rx="15.4" ry="5.4" fill="#9fc942"/><ellipse cx="1218.4" cy="215.6" rx="15.3" ry="5.4" fill="#a3c83f"/><ellipse cx="1218.4" cy="214.6" rx="15.2" ry="5.4" fill="#a6c73c"/><ellipse cx="1218.4" cy="213.6" rx="15.1" ry="5.3" fill="#aac73a"/><ellipse cx="1218.4" cy="212.6" rx="15" ry="5.3" fill="#aec637"/><ellipse cx="1218.4" cy="211.6" rx="14.9" ry="5.2" fill="#b2c635"/><ellipse cx="1218.4" cy="210.6" rx="14.8" ry="5.2" fill="#b5c533"/><ellipse cx="1218.4" cy="209.6" rx="14.6" ry="5.2" fill="#b9c431"/><ellipse cx="1218.4" cy="208.6" rx="14.5" ry="5.1" fill="#bcc42f"/><ellipse cx="1218.4" cy="207.6" rx="14.4" ry="5.1" fill="#c0c32d"/><ellipse cx="1218.4" cy="206.6" rx="14.3" ry="5" fill="#c3c22b"/><ellipse cx="1218.4" cy="205.6" rx="14.2" ry="5" fill="#c7c12a"/><ellipse cx="1218.4" cy="204.6" rx="14" ry="4.9" fill="#cac129"/><ellipse cx="1218.4" cy="203.6" rx="13.9" ry="4.9" fill="#cdc028"/><ellipse cx="1218.4" cy="202.6" rx="13.8" ry="4.9" fill="#d0bf27"/><ellipse cx="1218.4" cy="201.6" rx="13.7" ry="4.8" fill="#d3bf27"/><ellipse cx="1218.4" cy="200.6" rx="13.5" ry="4.8" fill="#d6be28"/><ellipse cx="1218.4" cy="199.6" rx="13.4" ry="4.7" fill="#d9bd28"/><ellipse cx="1218.4" cy="198.6" rx="13.3" ry="4.7" fill="#dcbd29"/><ellipse cx="1218.4" cy="197.6" rx="13.1" ry="4.6" fill="#dfbc2a"/><ellipse cx="1218.4" cy="196.6" rx="13" ry="4.6" fill="#e2bc2b"/><ellipse cx="1218.4" cy="195.6" rx="12.9" ry="4.5" fill="#e5bb2d"/><ellipse cx="1218.4" cy="194.6" rx="12.7" ry="4.5" fill="#e8bb2e"/><ellipse cx="1218.4" cy="193.6" rx="12.6" ry="4.4" fill="#eaba31"/><ellipse cx="1218.4" cy="192.6" rx="12.5" ry="4.4" fill="#edba33"/><ellipse cx="1218.4" cy="191.6" rx="12.3" ry="4.3" fill="#efba35"/><ellipse cx="1218.4" cy="190.7" rx="12.2" ry="4.3" fill="#f1ba37"/><ellipse cx="1218.4" cy="189.7" rx="12.1" ry="4.2" fill="#f4ba39"/><ellipse cx="1218.4" cy="188.7" rx="11.9" ry="4.2" fill="#f6ba3b"/><ellipse cx="1218.4" cy="187.7" rx="11.8" ry="4.1" fill="#f8ba3d"/><ellipse cx="1218.4" cy="186.7" rx="11.6" ry="4.1" fill="#fabb3d"/><ellipse cx="1218.4" cy="185.7" rx="11.5" ry="4" fill="#fcbc3d"/><ellipse cx="1218.4" cy="184.7" rx="11.3" ry="4" fill="#fdbd3d"/><ellipse cx="1218.4" cy="183.7" rx="11.2" ry="3.9" fill="#febe3c"/><ellipse cx="1218.4" cy="182.7" rx="11" ry="3.9" fill="#fec03b"/><ellipse cx="1218.4" cy="181.7" rx="10.8" ry="3.8" fill="#fec239"/><ellipse cx="1218.4" cy="180.7" rx="10.7" ry="3.8" fill="#fec338"/><ellipse cx="1218.4" cy="179.7" rx="10.5" ry="3.7" fill="#fec537"/><ellipse cx="1218.4" cy="178.7" rx="10.4" ry="3.6" fill="#fec636"/><ellipse cx="1218.4" cy="177.7" rx="10.2" ry="3.6" fill="#fec835"/><ellipse cx="1218.4" cy="176.7" rx="10" ry="3.5" fill="#feca34"/><ellipse cx="1218.4" cy="175.7" rx="9.8" ry="3.5" fill="#fdcb33"/><ellipse cx="1218.4" cy="174.7" rx="9.7" ry="3.4" fill="#fdcd32"/><ellipse cx="1218.4" cy="173.7" rx="9.5" ry="3.3" fill="#fccf31"/><ellipse cx="1218.4" cy="172.7" rx="9.3" ry="3.3" fill="#fcd030"/><ellipse cx="1218.4" cy="171.7" rx="9.1" ry="3.2" fill="#fbd22f"/><ellipse cx="1218.4" cy="170.7" rx="8.9" ry="3.1" fill="#fad42e"/><ellipse cx="1218.4" cy="169.7" rx="8.7" ry="3.1" fill="#fad62d"/><ellipse cx="1218.4" cy="168.7" rx="8.5" ry="3" fill="#f9d72c"/><ellipse cx="1218.4" cy="167.7" rx="8.3" ry="2.9" fill="#f8d92b"/><ellipse cx="1218.4" cy="166.7" rx="8.1" ry="2.9" fill="#f7db2b"/><ellipse cx="1218.4" cy="165.7" rx="7.9" ry="2.8" fill="#f7dd2a"/><ellipse cx="1218.4" cy="164.7" rx="7.7" ry="2.7" fill="#f6de29"/><ellipse cx="1218.4" cy="163.7" rx="7.4" ry="2.6" fill="#f6e028"/><ellipse cx="1218.4" cy="162.7" rx="7.2" ry="2.5" fill="#f5e227"/><ellipse cx="1218.4" cy="161.8" rx="7" ry="2.4" fill="#f5e427"/><ellipse cx="1218.4" cy="160.8" rx="6.7" ry="2.4" fill="#f5e526"/><ellipse cx="1218.4" cy="159.8" rx="6.4" ry="2.3" fill="#f5e725"/><ellipse cx="1218.4" cy="158.8" rx="6.2" ry="2.2" fill="#f5e924"/><ellipse cx="1218.4" cy="157.8" rx="5.9" ry="2.1" fill="#f5eb23"/><ellipse cx="1218.4" cy="156.8" rx="5.6" ry="2" fill="#f5ec22"/><ellipse cx="1218.4" cy="155.8" rx="5.3" ry="1.8" fill="#f5ee21"/><ellipse cx="1218.4" cy="154.8" rx="4.9" ry="1.7" fill="#f6f020"/><ellipse cx="1218.4" cy="153.8" rx="4.6" ry="1.6" fill="#f6f11e"/><ellipse cx="1218.4" cy="152.8" rx="4.2" ry="1.5" fill="#f7f31d"/><ellipse cx="1218.4" cy="151.8" rx="3.7" ry="1.3" fill="#f7f41c"/><ellipse cx="1218.4" cy="150.8" rx="3.2" ry="1.1" fill="#f7f61a"/><ellipse cx="1218.4" cy="149.8" rx="2.6" ry="0.9" fill="#f8f818"/><ellipse cx="1218.4" cy="148.8" rx="1.9" ry="0.7" fill="#f9f916"/></g>
<rect x="1180.8" y="139.7" width="75.2" height="255.7" fill="url(#mesh)" mask="url(#m3)"/>
<path d="M1189.6 379.5A29.7 10.4 0 0 0 1247.2 379.5" fill="none" stroke="#c4b8ff" stroke-opacity="0.55" stroke-width="1.5"/>
<g><ellipse cx="1181.5" cy="472.8" rx="61.8" ry="21.7" fill="#3e26a8"/><ellipse cx="1181.5" cy="471.8" rx="61.6" ry="21.7" fill="#3e27ac"/><ellipse cx="1181.5" cy="470.8" rx="61.4" ry="21.6" fill="#3f28af"/><ellipse cx="1181.5" cy="469.8" rx="61.2" ry="21.5" fill="#3f29b2"/><ellipse cx="1181.5" cy="468.8" rx="61.1" ry="21.5" fill="#402ab6"/><ellipse cx="1181.5" cy="467.8" rx="60.9" ry="21.4" fill="#412cb9"/><ellipse cx="1181.5" cy="466.8" rx="60.7" ry="21.4" fill="#412dbc"/><ellipse cx="1181.5" cy="465.8" rx="60.5" ry="21.3" fill="#422ebf"/><ellipse cx="1181.5" cy="464.8" rx="60.4" ry="21.2" fill="#422fc2"/><ellipse cx="1181.5" cy="463.8" rx="60.2" ry="21.2" fill="#4330c5"/><ellipse cx="1181.5" cy="462.8" rx="60" ry="21.1" fill="#4331c8"/><ellipse cx="1181.5" cy="461.8" rx="59.9" ry="21.1" fill="#4433cb"/><ellipse cx="1181.5" cy="460.8" rx="59.7" ry="21" fill="#4434ce"/><ellipse cx="1181.5" cy="459.8" rx="59.5" ry="20.9" fill="#4435d1"/><ellipse cx="1181.5" cy="458.8" rx="59.4" ry="20.9" fill="#4536d4"/><ellipse cx="1181.5" cy="457.8" rx="59.2" ry="20.8" fill="#4537d6"/><ellipse cx="1181.5" cy="456.8" rx="59.1" ry="20.8" fill="#4539d9"/><ellipse cx="1181.5" cy="455.8" rx="58.9" ry="20.7" fill="#463adb"/><ellipse cx="1181.5" cy="454.8" rx="58.7" ry="20.7" fill="#463bde"/><ellipse cx="1181.5" cy="453.8" rx="58.6" ry="20.6" fill="#463de0"/><ellipse cx="1181.5" cy="452.8" rx="58.4" ry="20.6" fill="#473ee2"/><ellipse cx="1181.5" cy="451.8" rx="58.3" ry="20.5" fill="#4740e4"/><ellipse cx="1181.5" cy="450.8" rx="58.1" ry="20.4" fill="#4741e5"/><ellipse cx="1181.5" cy="449.8" rx="58" ry="20.4" fill="#4743e7"/><ellipse cx="1181.5" cy="448.8" rx="57.8" ry="20.3" fill="#4745e9"/><ellipse cx="1181.5" cy="447.8" rx="57.6" ry="20.3" fill="#4746ea"/><ellipse cx="1181.5" cy="446.8" rx="57.5" ry="20.2" fill="#4848ec"/><ellipse cx="1181.5" cy="445.8" rx="57.3" ry="20.2" fill="#4849ed"/><ellipse cx="1181.5" cy="444.8" rx="57.2" ry="20.1" fill="#484bef"/><ellipse cx="1181.5" cy="443.8" rx="57" ry="20.1" fill="#484cf0"/><ellipse cx="1181.5" cy="442.8" rx="56.9" ry="20" fill="#484ef1"/><ellipse cx="1181.5" cy="441.8" rx="56.7" ry="20" fill="#4850f2"/><ellipse cx="1181.5" cy="440.8" rx="56.6" ry="19.9" fill="#4851f3"/><ellipse cx="1181.5" cy="439.8" rx="56.4" ry="19.8" fill="#4853f4"/><ellipse cx="1181.5" cy="438.8" rx="56.3" ry="19.8" fill="#4854f5"/><ellipse cx="1181.5" cy="437.8" rx="56.1" ry="19.7" fill="#4756f6"/><ellipse cx="1181.5" cy="436.8" rx="56" ry="19.7" fill="#4757f7"/><ellipse cx="1181.5" cy="435.8" rx="55.8" ry="19.6" fill="#4759f8"/><ellipse cx="1181.5" cy="434.9" rx="55.6" ry="19.6" fill="#475af9"/><ellipse cx="1181.5" cy="433.9" rx="55.5" ry="19.5" fill="#475cfa"/><ellipse cx="1181.5" cy="432.9" rx="55.3" ry="19.5" fill="#465dfb"/><ellipse cx="1181.5" cy="431.9" rx="55.2" ry="19.4" fill="#465ffb"/><ellipse cx="1181.5" cy="430.9" rx="55" ry="19.4" fill="#4661fc"/><ellipse cx="1181.5" cy="429.9" rx="54.9" ry="19.3" fill="#4562fc"/><ellipse cx="1181.5" cy="428.9" rx="54.7" ry="19.2" fill="#4564fd"/><ellipse cx="1181.5" cy="427.9" rx="54.6" ry="19.2" fill="#4465fd"/><ellipse cx="1181.5" cy="426.9" rx="54.4" ry="19.1" fill="#4367fd"/><ellipse cx="1181.5" cy="425.9" rx="54.3" ry="19.1" fill="#4369fe"/><ellipse cx="1181.5" cy="424.9" rx="54.1" ry="19" fill="#426afe"/><ellipse cx="1181.5" cy="423.9" rx="53.9" ry="19" fill="#406cfe"/><ellipse cx="1181.5" cy="422.9" rx="53.8" ry="18.9" fill="#3f6dfe"/><ellipse cx="1181.5" cy="421.9" rx="53.6" ry="18.9" fill="#3e6fff"/><ellipse cx="1181.5" cy="420.9" rx="53.5" ry="18.8" fill="#3d71ff"/><ellipse cx="1181.5" cy="419.9" rx="53.3" ry="18.8" fill="#3b73fe"/><ellipse cx="1181.5" cy="418.9" rx="53.2" ry="18.7" fill="#3974fe"/><ellipse cx="1181.5" cy="417.9" rx="53" ry="18.6" fill="#3876fe"/><ellipse cx="1181.5" cy="416.9" rx="52.8" ry="18.6" fill="#3678fe"/><ellipse cx="1181.5" cy="415.9" rx="52.7" ry="18.5" fill="#3479fd"/><ellipse cx="1181.5" cy="414.9" rx="52.5" ry="18.5" fill="#337bfc"/><ellipse cx="1181.5" cy="413.9" rx="52.4" ry="18.4" fill="#317dfc"/><ellipse cx="1181.5" cy="412.9" rx="52.2" ry="18.4" fill="#317efb"/><ellipse cx="1181.5" cy="411.9" rx="52" ry="18.3" fill="#3080fa"/><ellipse cx="1181.5" cy="410.9" rx="51.9" ry="18.3" fill="#2f81fa"/><ellipse cx="1181.5" cy="409.9" rx="51.7" ry="18.2" fill="#2e83f9"/><ellipse cx="1181.5" cy="408.9" rx="51.6" ry="18.1" fill="#2e85f8"/><ellipse cx="1181.5" cy="407.9" rx="51.4" ry="18.1" fill="#2e86f7"/><ellipse cx="1181.5" cy="406.9" rx="51.2" ry="18" fill="#2d87f6"/><ellipse cx="1181.5" cy="405.9" rx="51.1" ry="18" fill="#2d89f5"/><ellipse cx="1181.5" cy="404.9" rx="50.9" ry="17.9" fill="#2d8af4"/><ellipse cx="1181.5" cy="403.9" rx="50.8" ry="17.9" fill="#2d8cf3"/><ellipse cx="1181.5" cy="402.9" rx="50.6" ry="17.8" fill="#2d8df2"/><ellipse cx="1181.5" cy="401.9" rx="50.4" ry="17.7" fill="#2c8ff1"/><ellipse cx="1181.5" cy="400.9" rx="50.3" ry="17.7" fill="#2b90f0"/><ellipse cx="1181.5" cy="399.9" rx="50.1" ry="17.6" fill="#2b92ef"/><ellipse cx="1181.5" cy="398.9" rx="49.9" ry="17.6" fill="#2a93ee"/><ellipse cx="1181.5" cy="397.9" rx="49.8" ry="17.5" fill="#2994ed"/><ellipse cx="1181.5" cy="396.9" rx="49.6" ry="17.4" fill="#2896ec"/><ellipse cx="1181.5" cy="395.9" rx="49.4" ry="17.4" fill="#2797eb"/><ellipse cx="1181.5" cy="394.9" rx="49.3" ry="17.3" fill="#2698ea"/><ellipse cx="1181.5" cy="393.9" rx="49.1" ry="17.3" fill="#269ae9"/><ellipse cx="1181.5" cy="392.9" rx="48.9" ry="17.2" fill="#259be8"/><ellipse cx="1181.5" cy="391.9" rx="48.7" ry="17.1" fill="#259ce7"/><ellipse cx="1181.5" cy="390.9" rx="48.6" ry="17.1" fill="#249ee6"/><ellipse cx="1181.5" cy="389.9" rx="48.4" ry="17" fill="#249fe5"/><ellipse cx="1181.5" cy="388.9" rx="48.2" ry="17" fill="#23a0e5"/><ellipse cx="1181.5" cy="387.9" rx="48.1" ry="16.9" fill="#22a2e4"/><ellipse cx="1181.5" cy="386.9" rx="47.9" ry="16.8" fill="#21a3e3"/><ellipse cx="1181.5" cy="385.9" rx="47.7" ry="16.8" fill="#20a4e3"/><ellipse cx="1181.5" cy="384.9" rx="47.5" ry="16.7" fill="#1fa5e2"/><ellipse cx="1181.5" cy="383.9" rx="47.4" ry="16.7" fill="#1ea7e1"/><ellipse cx="1181.5" cy="382.9" rx="47.2" ry="16.6" fill="#1da8e0"/><ellipse cx="1181.5" cy="381.9" rx="47" ry="16.5" fill="#1ca9e0"/><ellipse cx="1181.5" cy="380.9" rx="46.8" ry="16.5" fill="#1baade"/><ellipse cx="1181.5" cy="379.9" rx="46.7" ry="16.4" fill="#1aabdd"/><ellipse cx="1181.5" cy="378.9" rx="46.5" ry="16.3" fill="#19addc"/><ellipse cx="1181.5" cy="377.9" rx="46.3" ry="16.3" fill="#18aedb"/><ellipse cx="1181.5" cy="376.9" rx="46.1" ry="16.2" fill="#16afd9"/><ellipse cx="1181.5" cy="375.9" rx="45.9" ry="16.2" fill="#14b0d8"/><ellipse cx="1181.5" cy="374.9" rx="45.8" ry="16.1" fill="#12b1d7"/><ellipse cx="1181.5" cy="373.9" rx="45.6" ry="16" fill="#10b2d5"/><ellipse cx="1181.5" cy="372.9" rx="45.4" ry="16" fill="#0db3d3"/><ellipse cx="1181.5" cy="371.9" rx="45.2" ry="15.9" fill="#0ab4d2"/><ellipse cx="1181.5" cy="370.9" rx="45" ry="15.8" fill="#08b5d0"/><ellipse cx="1181.5" cy="369.9" rx="44.8" ry="15.8" fill="#06b5ce"/><ellipse cx="1181.5" cy="368.9" rx="44.6" ry="15.7" fill="#04b6cd"/><ellipse cx="1181.5" cy="367.9" rx="44.5" ry="15.6" fill="#02b7cb"/><ellipse cx="1181.5" cy="366.9" rx="44.3" ry="15.6" fill="#01b8c9"/><ellipse cx="1181.5" cy="365.9" rx="44.1" ry="15.5" fill="#01b9c7"/><ellipse cx="1181.5" cy="364.9" rx="43.9" ry="15.4" fill="#01b9c6"/><ellipse cx="1181.5" cy="363.9" rx="43.7" ry="15.4" fill="#02bac4"/><ellipse cx="1181.5" cy="362.9" rx="43.5" ry="15.3" fill="#04bbc2"/><ellipse cx="1181.5" cy="361.9" rx="43.3" ry="15.2" fill="#06bcc0"/><ellipse cx="1181.5" cy="361" rx="43.1" ry="15.2" fill="#09bcbe"/><ellipse cx="1181.5" cy="360" rx="42.9" ry="15.1" fill="#0bbdbc"/><ellipse cx="1181.5" cy="359" rx="42.7" ry="15" fill="#0fbeba"/><ellipse cx="1181.5" cy="358" rx="42.6" ry="15" fill="#13beb9"/><ellipse cx="1181.5" cy="357" rx="42.4" ry="14.9" fill="#16bfb7"/><ellipse cx="1181.5" cy="356" rx="42.2" ry="14.8" fill="#1abfb5"/><ellipse cx="1181.5" cy="355" rx="42" ry="14.8" fill="#1dc0b3"/><ellipse cx="1181.5" cy="354" rx="41.8" ry="14.7" fill="#20c1b1"/><ellipse cx="1181.5" cy="353" rx="41.6" ry="14.6" fill="#23c1af"/><ellipse cx="1181.5" cy="352" rx="41.4" ry="14.6" fill="#26c2ad"/><ellipse cx="1181.5" cy="351" rx="41.2" ry="14.5" fill="#28c2ab"/><ellipse cx="1181.5" cy="350" rx="41" ry="14.4" fill="#2ac3a9"/><ellipse cx="1181.5" cy="349" rx="40.8" ry="14.3" fill="#2cc4a7"/><ellipse cx="1181.5" cy="348" rx="40.6" ry="14.3" fill="#2ec4a5"/><ellipse cx="1181.5" cy="347" rx="40.3" ry="14.2" fill="#2fc5a3"/><ellipse cx="1181.5" cy="346" rx="40.1" ry="14.1" fill="#31c6a0"/><ellipse cx="1181.5" cy="345" rx="39.9" ry="14" fill="#32c69e"/><ellipse cx="1181.5" cy="344" rx="39.7" ry="14" fill="#34c79c"/><ellipse cx="1181.5" cy="343" rx="39.5" ry="13.9" fill="#35c79a"/><ellipse cx="1181.5" cy="342" rx="39.3" ry="13.8" fill="#37c897"/><ellipse cx="1181.5" cy="341" rx="39.1" ry="13.8" fill="#39c895"/><ellipse cx="1181.5" cy="340" rx="38.9" ry="13.7" fill="#3bc992"/><ellipse cx="1181.5" cy="339" rx="38.7" ry="13.6" fill="#3dc990"/><ellipse cx="1181.5" cy="338" rx="38.5" ry="13.5" fill="#40ca8d"/><ellipse cx="1181.5" cy="337" rx="38.2" ry="13.4" fill="#43ca8b"/><ellipse cx="1181.5" cy="336" rx="38" ry="13.4" fill="#46cb88"/><ellipse cx="1181.5" cy="335" rx="37.8" ry="13.3" fill="#49cb85"/><ellipse cx="1181.5" cy="334" rx="37.6" ry="13.2" fill="#4ccb83"/><ellipse cx="1181.5" cy="333" rx="37.4" ry="13.1" fill="#50cc80"/><ellipse cx="1181.5" cy="332" rx="37.1" ry="13.1" fill="#53cc7d"/><ellipse cx="1181.5" cy="331" rx="36.9" ry="13" fill="#57cc7a"/><ellipse cx="1181.5" cy="330" rx="36.7" ry="12.9" fill="#5acc77"/><ellipse cx="1181.5" cy="329" rx="36.5" ry="12.8" fill="#5ecc74"/><ellipse cx="1181.5" cy="328" rx="36.2" ry="12.7" fill="#61cd71"/><ellipse cx="1181.5" cy="327" rx="36" ry="12.7" fill="#65cd6e"/><ellipse cx="1181.5" cy="326" rx="35.8" ry="12.6" fill="#69cd6b"/><ellipse cx="1181.5" cy="325" rx="35.5" ry="12.5" fill="#6ccd68"/><ellipse cx="1181.5" cy="324" rx="35.3" ry="12.4" fill="#70cd65"/><ellipse cx="1181.5" cy="323" rx="35.1" ry="12.3" fill="#74cc62"/><ellipse cx="1181.5" cy="322" rx="34.8" ry="12.2" fill="#78cc5f"/><ellipse cx="1181.5" cy="321" rx="34.6" ry="12.2" fill="#7ccc5c"/><ellipse cx="1181.5" cy="320" rx="34.3" ry="12.1" fill="#81cc59"/><ellipse cx="1181.5" cy="319" rx="34.1" ry="12" fill="#85cb56"/><ellipse cx="1181.5" cy="318" rx="33.9" ry="11.9" fill="#89cb53"/><ellipse cx="1181.5" cy="317" rx="33.6" ry="11.8" fill="#8dcb50"/><ellipse cx="1181.5" cy="316" rx="33.4" ry="11.7" fill="#91ca4d"/><ellipse cx="1181.5" cy="315" rx="33.1" ry="11.6" fill="#94ca4a"/><ellipse cx="1181.5" cy="314" rx="32.9" ry="11.6" fill="#98c947"/><ellipse cx="1181.5" cy="313" rx="32.6" ry="11.5" fill="#9cc943"/><ellipse cx="1181.5" cy="312" rx="32.4" ry="11.4" fill="#a0c841"/><ellipse cx="1181.5" cy="311" rx="32.1" ry="11.3" fill="#a4c83e"/><ellipse cx="1181.5" cy="310" rx="31.8" ry="11.2" fill="#a8c73b"/><ellipse cx="1181.5" cy="309" rx="31.6" ry="11.1" fill="#acc739"/><ellipse cx="1181.5" cy="308" rx="31.3" ry="11" fill="#afc636"/><ellipse cx="1181.5" cy="307" rx="31" ry="10.9" fill="#b3c534"/><ellipse cx="1181.5" cy="306" rx="30.8" ry="10.8" fill="#b7c532"/><ellipse cx="1181.5" cy="305" rx="30.5" ry="10.7" fill="#bac430"/><ellipse cx="1181.5" cy="304" rx="30.2" ry="10.6" fill="#bec32e"/><ellipse cx="1181.5" cy="303" rx="30" ry="10.5" fill="#c1c32c"/><ellipse cx="1181.5" cy="302" rx="29.7" ry="10.4" fill="#c5c22a"/><ellipse cx="1181.5" cy="301" rx="29.4" ry="10.3" fill="#c8c129"/><ellipse cx="1181.5" cy="300" rx="29.1" ry="10.2" fill="#cbc129"/><ellipse cx="1181.5" cy="299" rx="28.8" ry="10.1" fill="#cec028"/><ellipse cx="1181.5" cy="298" rx="28.5" ry="10" fill="#d2bf27"/><ellipse cx="1181.5" cy="297" rx="28.2" ry="9.9" fill="#d5be28"/><ellipse cx="1181.5" cy="296" rx="27.9" ry="9.8" fill="#d8be28"/><ellipse cx="1181.5" cy="295" rx="27.6" ry="9.7" fill="#dbbd28"/><ellipse cx="1181.5" cy="294" rx="27.3" ry="9.6" fill="#debd29"/><ellipse cx="1181.5" cy="293" rx="27" ry="9.5" fill="#e0bc2b"/><ellipse cx="1181.5" cy="292" rx="26.7" ry="9.4" fill="#e3bc2c"/><ellipse cx="1181.5" cy="291" rx="26.4" ry="9.3" fill="#e6bb2d"/><ellipse cx="1181.5" cy="290" rx="26.1" ry="9.2" fill="#e9bb2f"/><ellipse cx="1181.5" cy="289" rx="25.8" ry="9.1" fill="#ebba31"/><ellipse cx="1181.5" cy="288" rx="25.5" ry="9" fill="#eeba34"/><ellipse cx="1181.5" cy="287" rx="25.1" ry="8.8" fill="#f0ba36"/><ellipse cx="1181.5" cy="286.1" rx="24.8" ry="8.7" fill="#f2ba38"/><ellipse cx="1181.5" cy="285.1" rx="24.5" ry="8.6" fill="#f5ba3a"/><ellipse cx="1181.5" cy="284.1" rx="24.1" ry="8.5" fill="#f7ba3c"/><ellipse cx="1181.5" cy="283.1" rx="23.8" ry="8.4" fill="#f9bb3d"/><ellipse cx="1181.5" cy="282.1" rx="23.4" ry="8.2" fill="#fbbc3d"/><ellipse cx="1181.5" cy="281.1" rx="23.1" ry="8.1" fill="#fcbd3d"/><ellipse cx="1181.5" cy="280.1" rx="22.7" ry="8" fill="#febd3c"/><ellipse cx="1181.5" cy="279.1" rx="22.3" ry="7.9" fill="#febf3b"/><ellipse cx="1181.5" cy="278.1" rx="21.9" ry="7.7" fill="#fec13a"/><ellipse cx="1181.5" cy="277.1" rx="21.6" ry="7.6" fill="#fec239"/><ellipse cx="1181.5" cy="276.1" rx="21.2" ry="7.4" fill="#fec438"/><ellipse cx="1181.5" cy="275.1" rx="20.8" ry="7.3" fill="#fec537"/><ellipse cx="1181.5" cy="274.1" rx="20.4" ry="7.2" fill="#fec735"/><ellipse cx="1181.5" cy="273.1" rx="20" ry="7" fill="#fec934"/><ellipse cx="1181.5" cy="272.1" rx="19.5" ry="6.9" fill="#feca33"/><ellipse cx="1181.5" cy="271.1" rx="19.1" ry="6.7" fill="#fdcc32"/><ellipse cx="1181.5" cy="270.1" rx="18.7" ry="6.6" fill="#fdce31"/><ellipse cx="1181.5" cy="269.1" rx="18.2" ry="6.4" fill="#fccf30"/><ellipse cx="1181.5" cy="268.1" rx="17.8" ry="6.2" fill="#fcd12f"/><ellipse cx="1181.5" cy="267.1" rx="17.3" ry="6.1" fill="#fbd32e"/><ellipse cx="1181.5" cy="266.1" rx="16.8" ry="5.9" fill="#fad52e"/><ellipse cx="1181.5" cy="265.1" rx="16.3" ry="5.7" fill="#f9d62d"/><ellipse cx="1181.5" cy="264.1" rx="15.8" ry="5.6" fill="#f9d82c"/><ellipse cx="1181.5" cy="263.1" rx="15.3" ry="5.4" fill="#f8da2b"/><ellipse cx="1181.5" cy="262.1" rx="14.7" ry="5.2" fill="#f7dc2a"/><ellipse cx="1181.5" cy="261.1" rx="14.1" ry="5" fill="#f6de29"/><ellipse cx="1181.5" cy="260.1" rx="13.5" ry="4.8" fill="#f6df29"/><ellipse cx="1181.5" cy="259.1" rx="12.9" ry="4.5" fill="#f5e128"/><ellipse cx="1181.5" cy="258.1" rx="12.2" ry="4.3" fill="#f5e327"/><ellipse cx="1181.5" cy="257.1" rx="11.5" ry="4.1" fill="#f5e526"/><ellipse cx="1181.5" cy="256.1" rx="10.8" ry="3.8" fill="#f5e626"/><ellipse cx="1181.5" cy="255.1" rx="10" ry="3.5" fill="#f5e825"/><ellipse cx="1181.5" cy="254.1" rx="9.1" ry="3.2" fill="#f5ea24"/><ellipse cx="1181.5" cy="253.1" rx="8.2" ry="2.9" fill="#f5eb23"/><ellipse cx="1181.5" cy="252.1" rx="7.1" ry="2.5" fill="#f5ed22"/><ellipse cx="1181.5" cy="251.1" rx="5.8" ry="2" fill="#f5ef21"/><ellipse cx="1181.5" cy="250.1" rx="4.1" ry="1.4" fill="#f6f01f"/></g>
<rect x="1111.7" y="240.6" width="139.6" height="262" fill="url(#mesh)" mask="url(#m4)"/>
<path d="M1121.6 478A61.8 21.7 0 0 0 1241.4 478" fill="none" stroke="#c4b8ff" stroke-opacity="0.55" stroke-width="1.5"/>
<text class="k" x="845.3" y="430.4" text-anchor="end">0</text>
<text class="k" x="845.3" y="358.2" text-anchor="end">10</text>
<text class="k" x="845.3" y="286" text-anchor="end">20</text>
<text class="k" x="845.3" y="213.8" text-anchor="end">30</text>
<text class="k" x="845.3" y="141.6" text-anchor="end">40</text>
<text class="k" x="1132" y="586.1" text-anchor="end">0</text>
<text class="k" x="988.8" y="520.4" text-anchor="end">0.5</text>
<text class="k" x="845.6" y="454.6" text-anchor="end">1</text>
<text class="k" x="1167.1" y="589.4" text-anchor="start">0</text>
<text class="k" x="1241.8" y="569.3" text-anchor="start">0.2</text>
<text class="k" x="1316.4" y="549.2" text-anchor="start">0.4</text>
<text class="k" x="1391.1" y="529.1" text-anchor="start">0.6</text>
<text class="k" x="1465.7" y="509" text-anchor="start">0.8</text>
<text class="k" x="1540.4" y="488.9" text-anchor="start">1</text>
<text class="t" transform="translate(0 24.3) scale(1.1 1)"><tspan x="936.64" letter-spacing="0.42">reconstruction, </tspan><tspan x="1139.55" textLength="15.18" lengthAdjust="spacingAndGlyphs">n</tspan> <tspan x="1166.64" textLength="19.53" lengthAdjust="spacingAndGlyphs">=</tspan><tspan x="1189.45" letter-spacing="-2.07">100</tspan></text>
</g>
<g>
<path class="g" d="M117.1 1052.4L117.1 763.6M191.7 1032.3L191.7 743.5M266.4 1012.2L266.4 723.4M341 992.1L341 703.3M415.7 972L415.7 683.2M702.1 1103.5L702.1 814.7M558.9 1037.8L558.9 749M42.4 1000.3L415.7 899.8L702.1 1031.3M42.4 928.1L415.7 827.6L702.1 959.1M42.4 855.9L415.7 755.4L702.1 886.9M42.4 783.7L415.7 683.2L702.1 814.7"/>
<path class="g" style="stroke:#d4d4d4" d="M415.7 972L415.7 683.2"/>
<path class="a" d="M42.4 783.7L42.4 1072.5M42.4 1072.5L328.8 1204L702.1 1103.5M42.4 1072.5L32.4 1068.3M42.4 1000.3L32.4 996.1M42.4 928.1L32.4 923.9M42.4 855.9L32.4 851.7M42.4 783.7L32.4 779.5M328.8 1204L318.8 1206.7M185.6 1138.2L175.6 1141M42.4 1072.5L32.4 1075.2M328.8 1204L338.4 1208.4M403.5 1183.9L413.1 1188.3M478.1 1163.8L487.7 1168.2M552.8 1143.7L562.4 1148.1M627.4 1123.6L637 1128M702.1 1103.5L711.7 1107.9"/>
<path d="M42.4 1072.5L328.8 1204L702.1 1103.5L415.7 972Z" fill="#3e26a8"/>
<g><ellipse cx="399.4" cy="1012.5" rx="29.5" ry="10.4" fill="#3e26a8"/><ellipse cx="399.4" cy="1011.5" rx="29.3" ry="10.3" fill="#3e27ab"/><ellipse cx="399.4" cy="1010.5" rx="29.2" ry="10.3" fill="#3f28ae"/><ellipse cx="399.4" cy="1009.5" rx="29.1" ry="10.2" fill="#3f29b1"/><ellipse cx="399.4" cy="1008.5" rx="28.9" ry="10.2" fill="#402ab3"/><ellipse cx="399.4" cy="1007.5" rx="28.8" ry="10.1" fill="#402bb6"/><ellipse cx="399.4" cy="1006.5" rx="28.7" ry="10.1" fill="#412cb9"/><ellipse cx="399.4" cy="1005.5" rx="28.5" ry="10" fill="#412dbb"/><ellipse cx="399.4" cy="1004.5" rx="28.4" ry="10" fill="#412ebe"/><ellipse cx="399.4" cy="1003.5" rx="28.3" ry="10" fill="#422fc0"/><ellipse cx="399.4" cy="1002.5" rx="28.2" ry="9.9" fill="#4230c3"/><ellipse cx="399.4" cy="1001.5" rx="28.1" ry="9.9" fill="#4331c5"/><ellipse cx="399.4" cy="1000.5" rx="28" ry="9.9" fill="#4331c8"/><ellipse cx="399.4" cy="999.5" rx="27.9" ry="9.8" fill="#4332cb"/><ellipse cx="399.4" cy="998.5" rx="27.8" ry="9.8" fill="#4433cd"/><ellipse cx="399.4" cy="997.5" rx="27.7" ry="9.7" fill="#4434cf"/><ellipse cx="399.4" cy="996.5" rx="27.6" ry="9.7" fill="#4535d2"/><ellipse cx="399.4" cy="995.5" rx="27.5" ry="9.7" fill="#4536d4"/><ellipse cx="399.4" cy="994.6" rx="27.5" ry="9.7" fill="#4537d7"/><ellipse cx="399.4" cy="993.6" rx="27.4" ry="9.6" fill="#4539d9"/><ellipse cx="399.4" cy="992.6" rx="27.3" ry="9.6" fill="#463adb"/><ellipse cx="399.4" cy="991.6" rx="27.2" ry="9.6" fill="#463bdd"/><ellipse cx="399.4" cy="990.6" rx="27.1" ry="9.5" fill="#463cdf"/><ellipse cx="399.4" cy="989.6" rx="27.1" ry="9.5" fill="#463de0"/><ellipse cx="399.4" cy="988.6" rx="27" ry="9.5" fill="#473fe2"/><ellipse cx="399.4" cy="987.6" rx="26.9" ry="9.5" fill="#4740e3"/><ellipse cx="399.4" cy="986.6" rx="26.8" ry="9.4" fill="#4741e5"/><ellipse cx="399.4" cy="985.6" rx="26.8" ry="9.4" fill="#4742e6"/><ellipse cx="399.4" cy="984.6" rx="26.7" ry="9.4" fill="#4744e8"/><ellipse cx="399.4" cy="983.6" rx="26.6" ry="9.4" fill="#4745e9"/><ellipse cx="399.4" cy="982.6" rx="26.5" ry="9.3" fill="#4746eb"/><ellipse cx="399.4" cy="981.6" rx="26.5" ry="9.3" fill="#4848ec"/><ellipse cx="399.4" cy="980.6" rx="26.4" ry="9.3" fill="#4849ed"/><ellipse cx="399.4" cy="979.6" rx="26.3" ry="9.3" fill="#484aee"/><ellipse cx="399.4" cy="978.6" rx="26.3" ry="9.2" fill="#484cef"/><ellipse cx="399.4" cy="977.6" rx="26.2" ry="9.2" fill="#484df0"/><ellipse cx="399.4" cy="976.6" rx="26.1" ry="9.2" fill="#484ef1"/><ellipse cx="399.4" cy="975.6" rx="26.1" ry="9.2" fill="#4850f2"/><ellipse cx="399.4" cy="974.6" rx="26" ry="9.2" fill="#4851f3"/><ellipse cx="399.4" cy="973.6" rx="26" ry="9.1" fill="#4852f4"/><ellipse cx="399.4" cy="972.6" rx="25.9" ry="9.1" fill="#4853f5"/><ellipse cx="399.4" cy="971.6" rx="25.8" ry="9.1" fill="#4755f6"/><ellipse cx="399.4" cy="970.6" rx="25.8" ry="9.1" fill="#4756f7"/><ellipse cx="399.4" cy="969.6" rx="25.7" ry="9" fill="#4757f7"/><ellipse cx="399.4" cy="968.6" rx="25.6" ry="9" fill="#4759f8"/><ellipse cx="399.4" cy="967.6" rx="25.6" ry="9" fill="#475af9"/><ellipse cx="399.4" cy="966.6" rx="25.5" ry="9" fill="#475bf9"/><ellipse cx="399.4" cy="965.6" rx="25.5" ry="9" fill="#475cfa"/><ellipse cx="399.4" cy="964.6" rx="25.4" ry="8.9" fill="#465efb"/><ellipse cx="399.4" cy="963.6" rx="25.3" ry="8.9" fill="#465ffb"/><ellipse cx="399.4" cy="962.6" rx="25.3" ry="8.9" fill="#4660fc"/><ellipse cx="399.4" cy="961.6" rx="25.2" ry="8.9" fill="#4562fc"/><ellipse cx="399.4" cy="960.7" rx="25.2" ry="8.9" fill="#4563fd"/><ellipse cx="399.4" cy="959.7" rx="25.1" ry="8.8" fill="#4464fd"/><ellipse cx="399.4" cy="958.7" rx="25" ry="8.8" fill="#4466fd"/><ellipse cx="399.4" cy="957.7" rx="25" ry="8.8" fill="#4367fd"/><ellipse cx="399.4" cy="956.7" rx="24.9" ry="8.8" fill="#4368fe"/><ellipse cx="399.4" cy="955.7" rx="24.9" ry="8.7" fill="#426afe"/><ellipse cx="399.4" cy="954.7" rx="24.8" ry="8.7" fill="#416bfe"/><ellipse cx="399.4" cy="953.7" rx="24.7" ry="8.7" fill="#406dfe"/><ellipse cx="399.4" cy="952.7" rx="24.7" ry="8.7" fill="#3f6eff"/><ellipse cx="399.4" cy="951.7" rx="24.6" ry="8.7" fill="#3e6fff"/><ellipse cx="399.4" cy="950.7" rx="24.6" ry="8.6" fill="#3d71ff"/><ellipse cx="399.4" cy="949.7" rx="24.5" ry="8.6" fill="#3b72ff"/><ellipse cx="399.4" cy="948.7" rx="24.4" ry="8.6" fill="#3a74fe"/><ellipse cx="399.4" cy="947.7" rx="24.4" ry="8.6" fill="#3975fe"/><ellipse cx="399.4" cy="946.7" rx="24.3" ry="8.6" fill="#3776fe"/><ellipse cx="399.4" cy="945.7" rx="24.3" ry="8.5" fill="#3678fd"/><ellipse cx="399.4" cy="944.7" rx="24.2" ry="8.5" fill="#3479fd"/><ellipse cx="399.4" cy="943.7" rx="24.1" ry="8.5" fill="#337bfd"/><ellipse cx="399.4" cy="942.7" rx="24.1" ry="8.5" fill="#327cfc"/><ellipse cx="399.4" cy="941.7" rx="24" ry="8.5" fill="#317dfb"/><ellipse cx="399.4" cy="940.7" rx="24" ry="8.4" fill="#307ffb"/><ellipse cx="399.4" cy="939.7" rx="23.9" ry="8.4" fill="#2f80fa"/><ellipse cx="399.4" cy="938.7" rx="23.8" ry="8.4" fill="#2f81fa"/><ellipse cx="399.4" cy="937.7" rx="23.8" ry="8.4" fill="#2e83f9"/><ellipse cx="399.4" cy="936.7" rx="23.7" ry="8.3" fill="#2e84f8"/><ellipse cx="399.4" cy="935.7" rx="23.7" ry="8.3" fill="#2e85f8"/><ellipse cx="399.4" cy="934.7" rx="23.6" ry="8.3" fill="#2e87f7"/><ellipse cx="399.4" cy="933.7" rx="23.5" ry="8.3" fill="#2d88f6"/><ellipse cx="399.4" cy="932.7" rx="23.5" ry="8.3" fill="#2d89f5"/><ellipse cx="399.4" cy="931.7" rx="23.4" ry="8.2" fill="#2d8af4"/><ellipse cx="399.4" cy="930.7" rx="23.4" ry="8.2" fill="#2d8bf3"/><ellipse cx="399.4" cy="929.7" rx="23.3" ry="8.2" fill="#2d8df2"/><ellipse cx="399.4" cy="928.7" rx="23.2" ry="8.2" fill="#2c8ef1"/><ellipse cx="399.4" cy="927.7" rx="23.2" ry="8.2" fill="#2c8ff1"/><ellipse cx="399.4" cy="926.8" rx="23.1" ry="8.1" fill="#2b90f0"/><ellipse cx="399.4" cy="925.8" rx="23.1" ry="8.1" fill="#2b91ef"/><ellipse cx="399.4" cy="924.8" rx="23" ry="8.1" fill="#2a93ee"/><ellipse cx="399.4" cy="923.8" rx="22.9" ry="8.1" fill="#2994ed"/><ellipse cx="399.4" cy="922.8" rx="22.9" ry="8" fill="#2895ec"/><ellipse cx="399.4" cy="921.8" rx="22.8" ry="8" fill="#2896eb"/><ellipse cx="399.4" cy="920.8" rx="22.7" ry="8" fill="#2797eb"/><ellipse cx="399.4" cy="919.8" rx="22.7" ry="8" fill="#2698ea"/><ellipse cx="399.4" cy="918.8" rx="22.6" ry="8" fill="#2699e9"/><ellipse cx="399.4" cy="917.8" rx="22.6" ry="7.9" fill="#269be8"/><ellipse cx="399.4" cy="916.8" rx="22.5" ry="7.9" fill="#259ce7"/><ellipse cx="399.4" cy="915.8" rx="22.4" ry="7.9" fill="#259de7"/><ellipse cx="399.4" cy="914.8" rx="22.4" ry="7.9" fill="#249ee6"/><ellipse cx="399.4" cy="913.8" rx="22.3" ry="7.8" fill="#249fe5"/><ellipse cx="399.4" cy="912.8" rx="22.2" ry="7.8" fill="#23a0e5"/><ellipse cx="399.4" cy="911.8" rx="22.2" ry="7.8" fill="#22a1e4"/><ellipse cx="399.4" cy="910.8" rx="22.1" ry="7.8" fill="#22a2e4"/><ellipse cx="399.4" cy="909.8" rx="22" ry="7.8" fill="#21a3e3"/><ellipse cx="399.4" cy="908.8" rx="22" ry="7.7" fill="#20a4e3"/><ellipse cx="399.4" cy="907.8" rx="21.9" ry="7.7" fill="#1fa5e2"/><ellipse cx="399.4" cy="906.8" rx="21.8" ry="7.7" fill="#1fa6e1"/><ellipse cx="399.4" cy="905.8" rx="21.8" ry="7.7" fill="#1ea7e1"/><ellipse cx="399.4" cy="904.8" rx="21.7" ry="7.6" fill="#1da8e0"/><ellipse cx="399.4" cy="903.8" rx="21.7" ry="7.6" fill="#1ca9df"/><ellipse cx="399.4" cy="902.8" rx="21.6" ry="7.6" fill="#1baade"/><ellipse cx="399.4" cy="901.8" rx="21.5" ry="7.6" fill="#1aabdd"/><ellipse cx="399.4" cy="900.8" rx="21.5" ry="7.5" fill="#19acdc"/><ellipse cx="399.4" cy="899.8" rx="21.4" ry="7.5" fill="#18addb"/><ellipse cx="399.4" cy="898.8" rx="21.3" ry="7.5" fill="#17aeda"/><ellipse cx="399.4" cy="897.8" rx="21.3" ry="7.5" fill="#15afd9"/><ellipse cx="399.4" cy="896.8" rx="21.2" ry="7.5" fill="#14b0d8"/><ellipse cx="399.4" cy="895.8" rx="21.1" ry="7.4" fill="#12b1d7"/><ellipse cx="399.4" cy="894.8" rx="21.1" ry="7.4" fill="#10b2d5"/><ellipse cx="399.4" cy="893.8" rx="21" ry="7.4" fill="#0eb2d4"/><ellipse cx="399.4" cy="892.9" rx="20.9" ry="7.4" fill="#0cb3d3"/><ellipse cx="399.4" cy="891.9" rx="20.8" ry="7.3" fill="#09b4d1"/><ellipse cx="399.4" cy="890.9" rx="20.8" ry="7.3" fill="#07b5d0"/><ellipse cx="399.4" cy="889.9" rx="20.7" ry="7.3" fill="#06b5ce"/><ellipse cx="399.4" cy="888.9" rx="20.6" ry="7.3" fill="#04b6cd"/><ellipse cx="399.4" cy="887.9" rx="20.6" ry="7.2" fill="#03b7cc"/><ellipse cx="399.4" cy="886.9" rx="20.5" ry="7.2" fill="#01b8ca"/><ellipse cx="399.4" cy="885.9" rx="20.4" ry="7.2" fill="#01b8c9"/><ellipse cx="399.4" cy="884.9" rx="20.4" ry="7.2" fill="#01b9c7"/><ellipse cx="399.4" cy="883.9" rx="20.3" ry="7.1" fill="#01bac6"/><ellipse cx="399.4" cy="882.9" rx="20.2" ry="7.1" fill="#02bac4"/><ellipse cx="399.4" cy="881.9" rx="20.2" ry="7.1" fill="#03bbc3"/><ellipse cx="399.4" cy="880.9" rx="20.1" ry="7.1" fill="#05bbc1"/><ellipse cx="399.4" cy="879.9" rx="20" ry="7" fill="#07bcbf"/><ellipse cx="399.4" cy="878.9" rx="19.9" ry="7" fill="#09bdbe"/><ellipse cx="399.4" cy="877.9" rx="19.9" ry="7" fill="#0cbdbc"/><ellipse cx="399.4" cy="876.9" rx="19.8" ry="7" fill="#0fbebb"/><ellipse cx="399.4" cy="875.9" rx="19.7" ry="6.9" fill="#12beb9"/><ellipse cx="399.4" cy="874.9" rx="19.7" ry="6.9" fill="#15bfb7"/><ellipse cx="399.4" cy="873.9" rx="19.6" ry="6.9" fill="#18bfb6"/><ellipse cx="399.4" cy="872.9" rx="19.5" ry="6.9" fill="#1bc0b4"/><ellipse cx="399.4" cy="871.9" rx="19.4" ry="6.8" fill="#1dc0b3"/><ellipse cx="399.4" cy="870.9" rx="19.4" ry="6.8" fill="#20c1b1"/><ellipse cx="399.4" cy="869.9" rx="19.3" ry="6.8" fill="#23c1af"/><ellipse cx="399.4" cy="868.9" rx="19.2" ry="6.8" fill="#25c2ae"/><ellipse cx="399.4" cy="867.9" rx="19.1" ry="6.7" fill="#27c2ac"/><ellipse cx="399.4" cy="866.9" rx="19.1" ry="6.7" fill="#28c3aa"/><ellipse cx="399.4" cy="865.9" rx="19" ry="6.7" fill="#2ac3a9"/><ellipse cx="399.4" cy="864.9" rx="18.9" ry="6.7" fill="#2cc4a7"/><ellipse cx="399.4" cy="863.9" rx="18.8" ry="6.6" fill="#2dc4a5"/><ellipse cx="399.4" cy="862.9" rx="18.8" ry="6.6" fill="#2fc5a3"/><ellipse cx="399.4" cy="861.9" rx="18.7" ry="6.6" fill="#30c5a2"/><ellipse cx="399.4" cy="860.9" rx="18.6" ry="6.5" fill="#31c6a0"/><ellipse cx="399.4" cy="859.9" rx="18.5" ry="6.5" fill="#32c69e"/><ellipse cx="399.4" cy="858.9" rx="18.5" ry="6.5" fill="#34c79c"/><ellipse cx="399.4" cy="858" rx="18.4" ry="6.5" fill="#35c79a"/><ellipse cx="399.4" cy="857" rx="18.3" ry="6.4" fill="#36c898"/><ellipse cx="399.4" cy="856" rx="18.2" ry="6.4" fill="#38c896"/><ellipse cx="399.4" cy="855" rx="18.2" ry="6.4" fill="#3ac994"/><ellipse cx="399.4" cy="854" rx="18.1" ry="6.4" fill="#3cc992"/><ellipse cx="399.4" cy="853" rx="18" ry="6.3" fill="#3dca90"/><ellipse cx="399.4" cy="852" rx="17.9" ry="6.3" fill="#3fca8e"/><ellipse cx="399.4" cy="851" rx="17.8" ry="6.3" fill="#42ca8c"/><ellipse cx="399.4" cy="850" rx="17.8" ry="6.2" fill="#44cb89"/><ellipse cx="399.4" cy="849" rx="17.7" ry="6.2" fill="#47cb87"/><ellipse cx="399.4" cy="848" rx="17.6" ry="6.2" fill="#49cb85"/><ellipse cx="399.4" cy="847" rx="17.5" ry="6.2" fill="#4ccb83"/><ellipse cx="399.4" cy="846" rx="17.4" ry="6.1" fill="#4fcc80"/><ellipse cx="399.4" cy="845" rx="17.4" ry="6.1" fill="#52cc7e"/><ellipse cx="399.4" cy="844" rx="17.3" ry="6.1" fill="#55cc7c"/><ellipse cx="399.4" cy="843" rx="17.2" ry="6" fill="#58cc79"/><ellipse cx="399.4" cy="842" rx="17.1" ry="6" fill="#5bcc77"/><ellipse cx="399.4" cy="841" rx="17" ry="6" fill="#5ecc74"/><ellipse cx="399.4" cy="840" rx="16.9" ry="6" fill="#61cd71"/><ellipse cx="399.4" cy="839" rx="16.9" ry="5.9" fill="#64cd6f"/><ellipse cx="399.4" cy="838" rx="16.8" ry="5.9" fill="#67cd6c"/><ellipse cx="399.4" cy="837" rx="16.7" ry="5.9" fill="#6acd6a"/><ellipse cx="399.4" cy="836" rx="16.6" ry="5.8" fill="#6dcd67"/><ellipse cx="399.4" cy="835" rx="16.5" ry="5.8" fill="#71cd65"/><ellipse cx="399.4" cy="834" rx="16.4" ry="5.8" fill="#74cc62"/><ellipse cx="399.4" cy="833" rx="16.3" ry="5.7" fill="#77cc5f"/><ellipse cx="399.4" cy="832" rx="16.3" ry="5.7" fill="#7bcc5d"/><ellipse cx="399.4" cy="831" rx="16.2" ry="5.7" fill="#7ecc5a"/><ellipse cx="399.4" cy="830" rx="16.1" ry="5.7" fill="#82cc58"/><ellipse cx="399.4" cy="829" rx="16" ry="5.6" fill="#85cb55"/><ellipse cx="399.4" cy="828" rx="15.9" ry="5.6" fill="#88cb53"/><ellipse cx="399.4" cy="827" rx="15.8" ry="5.6" fill="#8ccb50"/><ellipse cx="399.4" cy="826" rx="15.7" ry="5.5" fill="#8fcb4e"/><ellipse cx="399.4" cy="825" rx="15.6" ry="5.5" fill="#92ca4b"/><ellipse cx="399.4" cy="824.1" rx="15.5" ry="5.5" fill="#96ca49"/><ellipse cx="399.4" cy="823.1" rx="15.4" ry="5.4" fill="#99c946"/><ellipse cx="399.4" cy="822.1" rx="15.4" ry="5.4" fill="#9cc944"/><ellipse cx="399.4" cy="821.1" rx="15.3" ry="5.4" fill="#9fc941"/><ellipse cx="399.4" cy="820.1" rx="15.2" ry="5.3" fill="#a3c83f"/><ellipse cx="399.4" cy="819.1" rx="15.1" ry="5.3" fill="#a6c83d"/><ellipse cx="399.4" cy="818.1" rx="15" ry="5.3" fill="#a9c73a"/><ellipse cx="399.4" cy="817.1" rx="14.9" ry="5.2" fill="#acc738"/><ellipse cx="399.4" cy="816.1" rx="14.8" ry="5.2" fill="#afc636"/><ellipse cx="399.4" cy="815.1" rx="14.7" ry="5.2" fill="#b2c535"/><ellipse cx="399.4" cy="814.1" rx="14.6" ry="5.1" fill="#b5c533"/><ellipse cx="399.4" cy="813.1" rx="14.5" ry="5.1" fill="#b8c431"/><ellipse cx="399.4" cy="812.1" rx="14.4" ry="5.1" fill="#bbc42f"/><ellipse cx="399.4" cy="811.1" rx="14.3" ry="5" fill="#bec32e"/><ellipse cx="399.4" cy="810.1" rx="14.2" ry="5" fill="#c1c32c"/><ellipse cx="399.4" cy="809.1" rx="14.1" ry="5" fill="#c4c22b"/><ellipse cx="399.4" cy="808.1" rx="14" ry="4.9" fill="#c7c12a"/><ellipse cx="399.4" cy="807.1" rx="13.9" ry="4.9" fill="#cac129"/><ellipse cx="399.4" cy="806.1" rx="13.8" ry="4.9" fill="#ccc028"/><ellipse cx="399.4" cy="805.1" rx="13.7" ry="4.8" fill="#cfc028"/><ellipse cx="399.4" cy="804.1" rx="13.6" ry="4.8" fill="#d2bf27"/><ellipse cx="399.4" cy="803.1" rx="13.5" ry="4.7" fill="#d4bf28"/><ellipse cx="399.4" cy="802.1" rx="13.4" ry="4.7" fill="#d7be28"/><ellipse cx="399.4" cy="801.1" rx="13.3" ry="4.7" fill="#d9bd28"/><ellipse cx="399.4" cy="800.1" rx="13.2" ry="4.6" fill="#dcbd29"/><ellipse cx="399.4" cy="799.1" rx="13.1" ry="4.6" fill="#debc2a"/><ellipse cx="399.4" cy="798.1" rx="12.9" ry="4.6" fill="#e1bc2b"/><ellipse cx="399.4" cy="797.1" rx="12.8" ry="4.5" fill="#e3bc2c"/><ellipse cx="399.4" cy="796.1" rx="12.7" ry="4.5" fill="#e5bb2d"/><ellipse cx="399.4" cy="795.1" rx="12.6" ry="4.4" fill="#e8bb2e"/><ellipse cx="399.4" cy="794.1" rx="12.5" ry="4.4" fill="#eabb30"/><ellipse cx="399.4" cy="793.1" rx="12.4" ry="4.4" fill="#ecba32"/><ellipse cx="399.4" cy="792.1" rx="12.3" ry="4.3" fill="#eeba34"/><ellipse cx="399.4" cy="791.1" rx="12.2" ry="4.3" fill="#f0ba36"/><ellipse cx="399.4" cy="790.2" rx="12" ry="4.2" fill="#f2ba38"/><ellipse cx="399.4" cy="789.2" rx="11.9" ry="4.2" fill="#f4ba39"/><ellipse cx="399.4" cy="788.2" rx="11.8" ry="4.2" fill="#f6ba3b"/><ellipse cx="399.4" cy="787.2" rx="11.7" ry="4.1" fill="#f8ba3d"/><ellipse cx="399.4" cy="786.2" rx="11.6" ry="4.1" fill="#f9bb3d"/><ellipse cx="399.4" cy="785.2" rx="11.4" ry="4" fill="#fbbc3d"/><ellipse cx="399.4" cy="784.2" rx="11.3" ry="4" fill="#fcbc3d"/><ellipse cx="399.4" cy="783.2" rx="11.2" ry="3.9" fill="#fdbd3d"/><ellipse cx="399.4" cy="782.2" rx="11.1" ry="3.9" fill="#febe3c"/><ellipse cx="399.4" cy="781.2" rx="10.9" ry="3.8" fill="#fec03b"/><ellipse cx="399.4" cy="780.2" rx="10.8" ry="3.8" fill="#fec13a"/><ellipse cx="399.4" cy="779.2" rx="10.7" ry="3.7" fill="#fec239"/><ellipse cx="399.4" cy="778.2" rx="10.5" ry="3.7" fill="#fec438"/><ellipse cx="399.4" cy="777.2" rx="10.4" ry="3.7" fill="#fec537"/><ellipse cx="399.4" cy="776.2" rx="10.3" ry="3.6" fill="#fec636"/><ellipse cx="399.4" cy="775.2" rx="10.1" ry="3.6" fill="#fec835"/><ellipse cx="399.4" cy="774.2" rx="10" ry="3.5" fill="#fec934"/><ellipse cx="399.4" cy="773.2" rx="9.8" ry="3.5" fill="#fdca33"/><ellipse cx="399.4" cy="772.2" rx="9.7" ry="3.4" fill="#fdcc32"/><ellipse cx="399.4" cy="771.2" rx="9.5" ry="3.4" fill="#fdcd31"/><ellipse cx="399.4" cy="770.2" rx="9.4" ry="3.3" fill="#fccf31"/><ellipse cx="399.4" cy="769.2" rx="9.2" ry="3.2" fill="#fcd030"/><ellipse cx="399.4" cy="768.2" rx="9.1" ry="3.2" fill="#fbd22f"/><ellipse cx="399.4" cy="767.2" rx="8.9" ry="3.1" fill="#fbd32e"/><ellipse cx="399.4" cy="766.2" rx="8.8" ry="3.1" fill="#fad52e"/><ellipse cx="399.4" cy="765.2" rx="8.6" ry="3" fill="#f9d62d"/><ellipse cx="399.4" cy="764.2" rx="8.4" ry="3" fill="#f9d72c"/><ellipse cx="399.4" cy="763.2" rx="8.3" ry="2.9" fill="#f8d92c"/><ellipse cx="399.4" cy="762.2" rx="8.1" ry="2.8" fill="#f8da2b"/><ellipse cx="399.4" cy="761.2" rx="7.9" ry="2.8" fill="#f7dc2a"/><ellipse cx="399.4" cy="760.2" rx="7.7" ry="2.7" fill="#f6dd29"/><ellipse cx="399.4" cy="759.2" rx="7.5" ry="2.7" fill="#f6df29"/><ellipse cx="399.4" cy="758.2" rx="7.3" ry="2.6" fill="#f6e028"/><ellipse cx="399.4" cy="757.2" rx="7.2" ry="2.5" fill="#f5e228"/><ellipse cx="399.4" cy="756.3" rx="6.9" ry="2.4" fill="#f5e327"/><ellipse cx="399.4" cy="755.3" rx="6.7" ry="2.4" fill="#f5e526"/><ellipse cx="399.4" cy="754.3" rx="6.5" ry="2.3" fill="#f5e626"/><ellipse cx="399.4" cy="753.3" rx="6.3" ry="2.2" fill="#f5e825"/><ellipse cx="399.4" cy="752.3" rx="6.1" ry="2.1" fill="#f5e924"/><ellipse cx="399.4" cy="751.3" rx="5.8" ry="2.1" fill="#f5ea23"/><ellipse cx="399.4" cy="750.3" rx="5.6" ry="2" fill="#f5ec22"/><ellipse cx="399.4" cy="749.3" rx="5.3" ry="1.9" fill="#f5ed21"/><ellipse cx="399.4" cy="748.3" rx="5.1" ry="1.8" fill="#f5ef21"/><ellipse cx="399.4" cy="747.3" rx="4.8" ry="1.7" fill="#f6f01f"/><ellipse cx="399.4" cy="746.3" rx="4.5" ry="1.6" fill="#f6f11e"/><ellipse cx="399.4" cy="745.3" rx="4.1" ry="1.5" fill="#f7f31d"/><ellipse cx="399.4" cy="744.3" rx="3.8" ry="1.3" fill="#f7f41c"/><ellipse cx="399.4" cy="743.3" rx="3.4" ry="1.2" fill="#f7f51b"/><ellipse cx="399.4" cy="742.3" rx="2.9" ry="1" fill="#f8f719"/><ellipse cx="399.4" cy="741.3" rx="2.4" ry="0.8" fill="#f8f818"/><ellipse cx="399.4" cy="740.3" rx="1.7" ry="0.6" fill="#f9fa16"/></g>
<rect x="362" y="731.3" width="74.8" height="299.6" fill="url(#mesh)" mask="url(#m5)"/>
<path d="M370.8 1015A29.5 10.4 0 0 0 428 1015" fill="none" stroke="#c4b8ff" stroke-opacity="0.55" stroke-width="1.5"/>
<g><ellipse cx="362.4" cy="1116.5" rx="64.3" ry="22.6" fill="#3e26a8"/><ellipse cx="362.4" cy="1115.5" rx="64.1" ry="22.6" fill="#3e27ab"/><ellipse cx="362.4" cy="1114.5" rx="63.9" ry="22.5" fill="#3f28ae"/><ellipse cx="362.4" cy="1113.5" rx="63.8" ry="22.4" fill="#3f29b1"/><ellipse cx="362.4" cy="1112.5" rx="63.6" ry="22.4" fill="#402ab3"/><ellipse cx="362.4" cy="1111.5" rx="63.4" ry="22.3" fill="#402bb6"/><ellipse cx="362.4" cy="1110.5" rx="63.3" ry="22.3" fill="#412cb9"/><ellipse cx="362.3" cy="1109.5" rx="63.1" ry="22.2" fill="#412dbb"/><ellipse cx="362.3" cy="1108.5" rx="62.9" ry="22.1" fill="#412ebe"/><ellipse cx="362.3" cy="1107.5" rx="62.7" ry="22.1" fill="#422fc0"/><ellipse cx="362.3" cy="1106.5" rx="62.6" ry="22" fill="#4230c3"/><ellipse cx="362.3" cy="1105.5" rx="62.4" ry="22" fill="#4331c5"/><ellipse cx="362.3" cy="1104.5" rx="62.2" ry="21.9" fill="#4331c8"/><ellipse cx="362.3" cy="1103.5" rx="62.1" ry="21.8" fill="#4332cb"/><ellipse cx="362.3" cy="1102.5" rx="61.9" ry="21.8" fill="#4433cd"/><ellipse cx="362.3" cy="1101.5" rx="61.7" ry="21.7" fill="#4434d0"/><ellipse cx="362.3" cy="1100.5" rx="61.6" ry="21.7" fill="#4535d2"/><ellipse cx="362.3" cy="1099.5" rx="61.4" ry="21.6" fill="#4536d4"/><ellipse cx="362.3" cy="1098.5" rx="61.2" ry="21.5" fill="#4537d7"/><ellipse cx="362.3" cy="1097.5" rx="61" ry="21.5" fill="#4539d9"/><ellipse cx="362.2" cy="1096.5" rx="60.9" ry="21.4" fill="#463adb"/><ellipse cx="362.2" cy="1095.6" rx="60.7" ry="21.4" fill="#463bdd"/><ellipse cx="362.2" cy="1094.6" rx="60.5" ry="21.3" fill="#463cdf"/><ellipse cx="362.2" cy="1093.6" rx="60.4" ry="21.2" fill="#463de0"/><ellipse cx="362.2" cy="1092.6" rx="60.2" ry="21.2" fill="#473fe2"/><ellipse cx="362.2" cy="1091.6" rx="60" ry="21.1" fill="#4740e3"/><ellipse cx="362.2" cy="1090.6" rx="59.9" ry="21.1" fill="#4741e5"/><ellipse cx="362.2" cy="1089.6" rx="59.7" ry="21" fill="#4742e7"/><ellipse cx="362.2" cy="1088.6" rx="59.5" ry="20.9" fill="#4744e8"/><ellipse cx="362.2" cy="1087.6" rx="59.3" ry="20.9" fill="#4745e9"/><ellipse cx="362.2" cy="1086.6" rx="59.2" ry="20.8" fill="#4746eb"/><ellipse cx="362.2" cy="1085.6" rx="59" ry="20.8" fill="#4848ec"/><ellipse cx="362.2" cy="1084.6" rx="58.8" ry="20.7" fill="#4849ed"/><ellipse cx="362.1" cy="1083.6" rx="58.7" ry="20.6" fill="#484aee"/><ellipse cx="362.1" cy="1082.6" rx="58.5" ry="20.6" fill="#484cef"/><ellipse cx="362.1" cy="1081.6" rx="58.3" ry="20.5" fill="#484df0"/><ellipse cx="362.1" cy="1080.6" rx="58.1" ry="20.4" fill="#484ef1"/><ellipse cx="362.1" cy="1079.6" rx="58" ry="20.4" fill="#4850f2"/><ellipse cx="362.1" cy="1078.6" rx="57.8" ry="20.3" fill="#4851f3"/><ellipse cx="362.1" cy="1077.6" rx="57.6" ry="20.3" fill="#4852f4"/><ellipse cx="362.1" cy="1076.6" rx="57.4" ry="20.2" fill="#4853f5"/><ellipse cx="362.1" cy="1075.6" rx="57.3" ry="20.1" fill="#4755f6"/><ellipse cx="362.1" cy="1074.6" rx="57.1" ry="20.1" fill="#4756f7"/><ellipse cx="362.1" cy="1073.6" rx="56.9" ry="20" fill="#4757f7"/><ellipse cx="362.1" cy="1072.6" rx="56.7" ry="20" fill="#4759f8"/><ellipse cx="362" cy="1071.6" rx="56.6" ry="19.9" fill="#475af9"/><ellipse cx="362" cy="1070.6" rx="56.4" ry="19.8" fill="#475bf9"/><ellipse cx="362" cy="1069.6" rx="56.2" ry="19.8" fill="#475cfa"/><ellipse cx="362" cy="1068.6" rx="56" ry="19.7" fill="#465efb"/><ellipse cx="362" cy="1067.6" rx="55.8" ry="19.6" fill="#465ffb"/><ellipse cx="362" cy="1066.6" rx="55.7" ry="19.6" fill="#4660fc"/><ellipse cx="362" cy="1065.6" rx="55.5" ry="19.5" fill="#4562fc"/><ellipse cx="362" cy="1064.6" rx="55.3" ry="19.5" fill="#4563fd"/><ellipse cx="362" cy="1063.6" rx="55.1" ry="19.4" fill="#4464fd"/><ellipse cx="362" cy="1062.6" rx="54.9" ry="19.3" fill="#4466fd"/><ellipse cx="362" cy="1061.6" rx="54.8" ry="19.3" fill="#4367fd"/><ellipse cx="362" cy="1060.6" rx="54.6" ry="19.2" fill="#4368fe"/><ellipse cx="362" cy="1059.6" rx="54.4" ry="19.1" fill="#426afe"/><ellipse cx="361.9" cy="1058.6" rx="54.2" ry="19.1" fill="#416bfe"/><ellipse cx="361.9" cy="1057.6" rx="54" ry="19" fill="#406dfe"/><ellipse cx="361.9" cy="1056.6" rx="53.8" ry="18.9" fill="#3f6eff"/><ellipse cx="361.9" cy="1055.6" rx="53.6" ry="18.9" fill="#3e6fff"/><ellipse cx="361.9" cy="1054.7" rx="53.5" ry="18.8" fill="#3d71ff"/><ellipse cx="361.9" cy="1053.7" rx="53.3" ry="18.7" fill="#3b72ff"/><ellipse cx="361.9" cy="1052.7" rx="53.1" ry="18.7" fill="#3a74fe"/><ellipse cx="361.9" cy="1051.7" rx="52.9" ry="18.6" fill="#3975fe"/><ellipse cx="361.9" cy="1050.7" rx="52.7" ry="18.5" fill="#3777fe"/><ellipse cx="361.9" cy="1049.7" rx="52.5" ry="18.5" fill="#3678fd"/><ellipse cx="361.9" cy="1048.7" rx="52.3" ry="18.4" fill="#3479fd"/><ellipse cx="361.9" cy="1047.7" rx="52.1" ry="18.3" fill="#337bfd"/><ellipse cx="361.9" cy="1046.7" rx="51.9" ry="18.3" fill="#327cfc"/><ellipse cx="361.8" cy="1045.7" rx="51.7" ry="18.2" fill="#317efb"/><ellipse cx="361.8" cy="1044.7" rx="51.6" ry="18.1" fill="#307ffb"/><ellipse cx="361.8" cy="1043.7" rx="51.4" ry="18.1" fill="#2f80fa"/><ellipse cx="361.8" cy="1042.7" rx="51.2" ry="18" fill="#2f82fa"/><ellipse cx="361.8" cy="1041.7" rx="51" ry="17.9" fill="#2e83f9"/><ellipse cx="361.8" cy="1040.7" rx="50.8" ry="17.9" fill="#2e84f8"/><ellipse cx="361.8" cy="1039.7" rx="50.6" ry="17.8" fill="#2e85f8"/><ellipse cx="361.8" cy="1038.7" rx="50.4" ry="17.7" fill="#2e87f7"/><ellipse cx="361.8" cy="1037.7" rx="50.2" ry="17.6" fill="#2d88f6"/><ellipse cx="361.8" cy="1036.7" rx="50" ry="17.6" fill="#2d89f5"/><ellipse cx="361.8" cy="1035.7" rx="49.8" ry="17.5" fill="#2d8af4"/><ellipse cx="361.8" cy="1034.7" rx="49.6" ry="17.4" fill="#2d8bf3"/><ellipse cx="361.8" cy="1033.7" rx="49.4" ry="17.4" fill="#2d8df2"/><ellipse cx="361.7" cy="1032.7" rx="49.2" ry="17.3" fill="#2c8ef1"/><ellipse cx="361.7" cy="1031.7" rx="49" ry="17.2" fill="#2c8ff0"/><ellipse cx="361.7" cy="1030.7" rx="48.8" ry="17.2" fill="#2b90f0"/><ellipse cx="361.7" cy="1029.7" rx="48.6" ry="17.1" fill="#2b91ef"/><ellipse cx="361.7" cy="1028.7" rx="48.4" ry="17" fill="#2a93ee"/><ellipse cx="361.7" cy="1027.7" rx="48.1" ry="16.9" fill="#2994ed"/><ellipse cx="361.7" cy="1026.7" rx="47.9" ry="16.9" fill="#2895ec"/><ellipse cx="361.7" cy="1025.7" rx="47.7" ry="16.8" fill="#2896eb"/><ellipse cx="361.7" cy="1024.7" rx="47.5" ry="16.7" fill="#2797ea"/><ellipse cx="361.7" cy="1023.7" rx="47.3" ry="16.6" fill="#2698ea"/><ellipse cx="361.7" cy="1022.7" rx="47.1" ry="16.6" fill="#269ae9"/><ellipse cx="361.7" cy="1021.7" rx="46.9" ry="16.5" fill="#269be8"/><ellipse cx="361.7" cy="1020.7" rx="46.7" ry="16.4" fill="#259ce7"/><ellipse cx="361.6" cy="1019.7" rx="46.5" ry="16.3" fill="#259de7"/><ellipse cx="361.6" cy="1018.7" rx="46.2" ry="16.3" fill="#249ee6"/><ellipse cx="361.6" cy="1017.7" rx="46" ry="16.2" fill="#249fe5"/><ellipse cx="361.6" cy="1016.7" rx="45.8" ry="16.1" fill="#23a0e5"/><ellipse cx="361.6" cy="1015.7" rx="45.6" ry="16" fill="#22a1e4"/><ellipse cx="361.6" cy="1014.7" rx="45.4" ry="16" fill="#22a2e4"/><ellipse cx="361.6" cy="1013.8" rx="45.1" ry="15.9" fill="#21a3e3"/><ellipse cx="361.6" cy="1012.8" rx="44.9" ry="15.8" fill="#20a4e3"/><ellipse cx="361.6" cy="1011.8" rx="44.7" ry="15.7" fill="#1fa5e2"/><ellipse cx="361.6" cy="1010.8" rx="44.5" ry="15.6" fill="#1fa6e1"/><ellipse cx="361.6" cy="1009.8" rx="44.3" ry="15.6" fill="#1ea7e1"/><ellipse cx="361.6" cy="1008.8" rx="44" ry="15.5" fill="#1da8e0"/><ellipse cx="361.5" cy="1007.8" rx="43.8" ry="15.4" fill="#1caadf"/><ellipse cx="361.5" cy="1006.8" rx="43.6" ry="15.3" fill="#1baade"/><ellipse cx="361.5" cy="1005.8" rx="43.3" ry="15.2" fill="#1aabdd"/><ellipse cx="361.5" cy="1004.8" rx="43.1" ry="15.2" fill="#19acdc"/><ellipse cx="361.5" cy="1003.8" rx="42.9" ry="15.1" fill="#18addb"/><ellipse cx="361.5" cy="1002.8" rx="42.6" ry="15" fill="#17aeda"/><ellipse cx="361.5" cy="1001.8" rx="42.4" ry="14.9" fill="#15afd9"/><ellipse cx="361.5" cy="1000.8" rx="42.2" ry="14.8" fill="#14b0d8"/><ellipse cx="361.5" cy="999.8" rx="41.9" ry="14.7" fill="#12b1d6"/><ellipse cx="361.5" cy="998.8" rx="41.7" ry="14.7" fill="#10b2d5"/><ellipse cx="361.5" cy="997.8" rx="41.5" ry="14.6" fill="#0eb2d4"/><ellipse cx="361.5" cy="996.8" rx="41.2" ry="14.5" fill="#0cb3d2"/><ellipse cx="361.5" cy="995.8" rx="41" ry="14.4" fill="#09b4d1"/><ellipse cx="361.4" cy="994.8" rx="40.7" ry="14.3" fill="#07b5d0"/><ellipse cx="361.4" cy="993.8" rx="40.5" ry="14.2" fill="#06b6ce"/><ellipse cx="361.4" cy="992.8" rx="40.2" ry="14.2" fill="#04b6cd"/><ellipse cx="361.4" cy="991.8" rx="40" ry="14.1" fill="#03b7cb"/><ellipse cx="361.4" cy="990.8" rx="39.7" ry="14" fill="#01b8ca"/><ellipse cx="361.4" cy="989.8" rx="39.5" ry="13.9" fill="#01b8c8"/><ellipse cx="361.4" cy="988.8" rx="39.2" ry="13.8" fill="#01b9c7"/><ellipse cx="361.4" cy="987.8" rx="39" ry="13.7" fill="#01bac5"/><ellipse cx="361.4" cy="986.8" rx="38.7" ry="13.6" fill="#02bac4"/><ellipse cx="361.4" cy="985.8" rx="38.5" ry="13.5" fill="#03bbc2"/><ellipse cx="361.4" cy="984.8" rx="38.2" ry="13.4" fill="#05bbc1"/><ellipse cx="361.4" cy="983.8" rx="37.9" ry="13.3" fill="#07bcbf"/><ellipse cx="361.4" cy="982.8" rx="37.7" ry="13.2" fill="#09bdbe"/><ellipse cx="361.3" cy="981.8" rx="37.4" ry="13.2" fill="#0cbdbc"/><ellipse cx="361.3" cy="980.8" rx="37.1" ry="13.1" fill="#0fbebb"/><ellipse cx="361.3" cy="979.8" rx="36.9" ry="13" fill="#12beb9"/><ellipse cx="361.3" cy="978.8" rx="36.6" ry="12.9" fill="#15bfb7"/><ellipse cx="361.3" cy="977.8" rx="36.3" ry="12.8" fill="#18bfb6"/><ellipse cx="361.3" cy="976.8" rx="36" ry="12.7" fill="#1bc0b4"/><ellipse cx="361.3" cy="975.8" rx="35.8" ry="12.6" fill="#1ec0b2"/><ellipse cx="361.3" cy="974.8" rx="35.5" ry="12.5" fill="#20c1b1"/><ellipse cx="361.3" cy="973.8" rx="35.2" ry="12.4" fill="#23c1af"/><ellipse cx="361.3" cy="972.9" rx="34.9" ry="12.3" fill="#25c2ae"/><ellipse cx="361.3" cy="971.9" rx="34.6" ry="12.2" fill="#27c2ac"/><ellipse cx="361.3" cy="970.9" rx="34.3" ry="12.1" fill="#29c3aa"/><ellipse cx="361.3" cy="969.9" rx="34" ry="12" fill="#2ac3a8"/><ellipse cx="361.2" cy="968.9" rx="33.7" ry="11.9" fill="#2cc4a7"/><ellipse cx="361.2" cy="967.9" rx="33.5" ry="11.8" fill="#2dc4a5"/><ellipse cx="361.2" cy="966.9" rx="33.2" ry="11.7" fill="#2fc5a3"/><ellipse cx="361.2" cy="965.9" rx="32.8" ry="11.6" fill="#30c5a1"/><ellipse cx="361.2" cy="964.9" rx="32.5" ry="11.4" fill="#31c6a0"/><ellipse cx="361.2" cy="963.9" rx="32.2" ry="11.3" fill="#33c69e"/><ellipse cx="361.2" cy="962.9" rx="31.9" ry="11.2" fill="#34c79c"/><ellipse cx="361.2" cy="961.9" rx="31.6" ry="11.1" fill="#35c79a"/><ellipse cx="361.2" cy="960.9" rx="31.3" ry="11" fill="#36c898"/><ellipse cx="361.2" cy="959.9" rx="31" ry="10.9" fill="#38c896"/><ellipse cx="361.2" cy="958.9" rx="30.6" ry="10.8" fill="#3ac994"/><ellipse cx="361.2" cy="957.9" rx="30.3" ry="10.7" fill="#3cc992"/><ellipse cx="361.2" cy="956.9" rx="30" ry="10.5" fill="#3dca90"/><ellipse cx="361.1" cy="955.9" rx="29.7" ry="10.4" fill="#3fca8e"/><ellipse cx="361.1" cy="954.9" rx="29.3" ry="10.3" fill="#42ca8b"/><ellipse cx="361.1" cy="953.9" rx="29" ry="10.2" fill="#45cb89"/><ellipse cx="361.1" cy="952.9" rx="28.6" ry="10.1" fill="#47cb87"/><ellipse cx="361.1" cy="951.9" rx="28.3" ry="9.9" fill="#4acb85"/><ellipse cx="361.1" cy="950.9" rx="27.9" ry="9.8" fill="#4ccb82"/><ellipse cx="361.1" cy="949.9" rx="27.6" ry="9.7" fill="#4fcc80"/><ellipse cx="361.1" cy="948.9" rx="27.2" ry="9.6" fill="#52cc7e"/><ellipse cx="361.1" cy="947.9" rx="26.8" ry="9.4" fill="#55cc7b"/><ellipse cx="361.1" cy="946.9" rx="26.4" ry="9.3" fill="#58cc79"/><ellipse cx="361.1" cy="945.9" rx="26.1" ry="9.2" fill="#5bcc76"/><ellipse cx="361.1" cy="944.9" rx="25.7" ry="9" fill="#5ecd74"/><ellipse cx="361" cy="943.9" rx="25.3" ry="8.9" fill="#61cd71"/><ellipse cx="361" cy="942.9" rx="24.9" ry="8.8" fill="#64cd6f"/><ellipse cx="361" cy="941.9" rx="24.5" ry="8.6" fill="#67cd6c"/><ellipse cx="361" cy="940.9" rx="24.1" ry="8.5" fill="#6acd6a"/><ellipse cx="361" cy="939.9" rx="23.7" ry="8.3" fill="#6ecd67"/><ellipse cx="361" cy="938.9" rx="23.2" ry="8.2" fill="#71cd64"/><ellipse cx="361" cy="937.9" rx="22.8" ry="8" fill="#74cc62"/><ellipse cx="361" cy="936.9" rx="22.3" ry="7.9" fill="#78cc5f"/><ellipse cx="361" cy="935.9" rx="21.9" ry="7.7" fill="#7bcc5d"/><ellipse cx="361" cy="934.9" rx="21.4" ry="7.5" fill="#7fcc5a"/><ellipse cx="361" cy="933.9" rx="21" ry="7.4" fill="#82cc58"/><ellipse cx="361" cy="932.9" rx="20.5" ry="7.2" fill="#85cb55"/><ellipse cx="361" cy="932" rx="20" ry="7" fill="#89cb53"/><ellipse cx="360.9" cy="931" rx="19.5" ry="6.9" fill="#8ccb50"/><ellipse cx="360.9" cy="930" rx="19" ry="6.7" fill="#8fca4d"/><ellipse cx="360.9" cy="929" rx="18.4" ry="6.5" fill="#93ca4b"/><ellipse cx="360.9" cy="928" rx="17.9" ry="6.3" fill="#96ca48"/><ellipse cx="360.9" cy="927" rx="17.3" ry="6.1" fill="#99c946"/><ellipse cx="360.9" cy="926" rx="16.7" ry="5.9" fill="#9dc943"/><ellipse cx="360.9" cy="925" rx="16.1" ry="5.7" fill="#a0c841"/><ellipse cx="360.9" cy="924" rx="15.5" ry="5.4" fill="#a3c83f"/><ellipse cx="360.9" cy="923" rx="14.8" ry="5.2" fill="#a6c83c"/><ellipse cx="360.9" cy="922" rx="14.1" ry="5" fill="#a9c73a"/><ellipse cx="360.9" cy="921" rx="13.4" ry="4.7" fill="#adc738"/><ellipse cx="360.9" cy="920" rx="12.6" ry="4.4" fill="#b0c636"/><ellipse cx="360.9" cy="919" rx="11.8" ry="4.2" fill="#b3c534"/><ellipse cx="360.8" cy="918" rx="10.9" ry="3.9" fill="#b6c533"/><ellipse cx="360.8" cy="917" rx="10" ry="3.5" fill="#b9c431"/><ellipse cx="360.8" cy="916" rx="8.9" ry="3.1" fill="#bcc42f"/><ellipse cx="360.8" cy="915" rx="7.7" ry="2.7" fill="#bfc32e"/><ellipse cx="360.8" cy="914" rx="6.3" ry="2.2" fill="#c1c32c"/><ellipse cx="360.8" cy="913" rx="4.5" ry="1.6" fill="#c4c22a"/></g>
<rect x="290.2" y="903.4" width="144.5" height="243.7" fill="url(#mesh)" mask="url(#m6)"/>
<path d="M300 1121.9A64.3 22.6 0 0 0 424.8 1121.9" fill="none" stroke="#c4b8ff" stroke-opacity="0.55" stroke-width="1.5"/>
<text class="k" x="24.6" y="1073.3" text-anchor="end">0</text>
<text class="k" x="24.6" y="1001.1" text-anchor="end">10</text>
<text class="k" x="24.6" y="928.9" text-anchor="end">20</text>
<text class="k" x="24.6" y="856.7" text-anchor="end">30</text>
<text class="k" x="24.6" y="784.5" text-anchor="end">40</text>
<text class="k" x="311.3" y="1229" text-anchor="end">0</text>
<text class="k" x="168.1" y="1163.2" text-anchor="end">0.5</text>
<text class="k" x="24.9" y="1097.5" text-anchor="end">1</text>
<text class="k" x="346.4" y="1232.3" text-anchor="start">0</text>
<text class="k" x="421.1" y="1212.2" text-anchor="start">0.2</text>
<text class="k" x="495.7" y="1192.1" text-anchor="start">0.4</text>
<text class="k" x="570.4" y="1172" text-anchor="start">0.6</text>
<text class="k" x="645" y="1151.9" text-anchor="start">0.8</text>
<text class="k" x="719.7" y="1131.8" text-anchor="start">1</text>
<text class="t" transform="translate(0 667.2) scale(1.1 1)"><tspan x="183.55" letter-spacing="0.42">reconstruction, </tspan><tspan x="386.45" textLength="15.18" lengthAdjust="spacingAndGlyphs">n</tspan> <tspan x="413.64" textLength="19.53" lengthAdjust="spacingAndGlyphs">=</tspan><tspan x="436.36" letter-spacing="-1.64">1000</tspan></text>
</g>
<g>
<path class="g" d="M937.8 1052.3L937.8 763.5M1012.4 1032.2L1012.4 743.4M1087.1 1012.1L1087.1 723.3M1161.7 992L1161.7 703.2M1236.4 971.9L1236.4 683.1M1522.8 1103.4L1522.8 814.6M1379.6 1037.7L1379.6 748.9M863.1 1000.2L1236.4 899.7L1522.8 1031.2M863.1 928L1236.4 827.5L1522.8 959M863.1 855.8L1236.4 755.3L1522.8 886.8M863.1 783.6L1236.4 683.1L1522.8 814.6"/>
<path class="g" style="stroke:#d4d4d4" d="M1236.4 971.9L1236.4 683.1"/>
<path class="a" d="M863.1 783.6L863.1 1072.4M863.1 1072.4L1149.5 1203.9L1522.8 1103.4M863.1 1072.4L853.1 1068.2M863.1 1000.2L853.1 996M863.1 928L853.1 923.8M863.1 855.8L853.1 851.6M863.1 783.6L853.1 779.4M1149.5 1203.9L1139.5 1206.6M1006.3 1138.2L996.3 1140.9M863.1 1072.4L853.1 1075.1M1149.5 1203.9L1159.1 1208.3M1224.2 1183.8L1233.8 1188.2M1298.8 1163.7L1308.4 1168.1M1373.5 1143.6L1383.1 1148M1448.1 1123.5L1457.7 1127.9M1522.8 1103.4L1532.4 1107.8"/>
<path d="M863.1 1072.4L1149.5 1203.9L1522.8 1103.4L1236.4 971.9Z" fill="#3e26a8"/>
<g><ellipse cx="1220.1" cy="1011.5" rx="30.8" ry="10.8" fill="#3e26a8"/><ellipse cx="1220.1" cy="1010.5" rx="30.6" ry="10.8" fill="#3e27ab"/><ellipse cx="1220.1" cy="1009.5" rx="30.4" ry="10.7" fill="#3f28ae"/><ellipse cx="1220.1" cy="1008.5" rx="30.2" ry="10.6" fill="#3f29b0"/><ellipse cx="1220.1" cy="1007.5" rx="30" ry="10.5" fill="#402ab3"/><ellipse cx="1220.1" cy="1006.5" rx="29.8" ry="10.5" fill="#402bb6"/><ellipse cx="1220.1" cy="1005.5" rx="29.6" ry="10.4" fill="#402cb8"/><ellipse cx="1220.1" cy="1004.5" rx="29.5" ry="10.4" fill="#412cbb"/><ellipse cx="1220.1" cy="1003.5" rx="29.3" ry="10.3" fill="#412dbd"/><ellipse cx="1220.1" cy="1002.5" rx="29.2" ry="10.3" fill="#422ec0"/><ellipse cx="1220.1" cy="1001.5" rx="29" ry="10.2" fill="#422fc2"/><ellipse cx="1220.1" cy="1000.5" rx="28.9" ry="10.2" fill="#4330c5"/><ellipse cx="1220.1" cy="999.5" rx="28.8" ry="10.1" fill="#4331c7"/><ellipse cx="1220.1" cy="998.5" rx="28.6" ry="10.1" fill="#4332ca"/><ellipse cx="1220.1" cy="997.5" rx="28.5" ry="10" fill="#4433cc"/><ellipse cx="1220.1" cy="996.5" rx="28.4" ry="10" fill="#4434ce"/><ellipse cx="1220.1" cy="995.5" rx="28.3" ry="10" fill="#4435d1"/><ellipse cx="1220.1" cy="994.5" rx="28.2" ry="9.9" fill="#4536d3"/><ellipse cx="1220.1" cy="993.5" rx="28.1" ry="9.9" fill="#4537d5"/><ellipse cx="1220.1" cy="992.5" rx="28" ry="9.8" fill="#4538d7"/><ellipse cx="1220.1" cy="991.5" rx="27.9" ry="9.8" fill="#4639d9"/><ellipse cx="1220.1" cy="990.5" rx="27.8" ry="9.8" fill="#463adb"/><ellipse cx="1220.1" cy="989.5" rx="27.7" ry="9.7" fill="#463bdd"/><ellipse cx="1220.1" cy="988.5" rx="27.6" ry="9.7" fill="#463cdf"/><ellipse cx="1220.1" cy="987.6" rx="27.5" ry="9.7" fill="#463ee1"/><ellipse cx="1220.1" cy="986.6" rx="27.4" ry="9.6" fill="#473fe2"/><ellipse cx="1220.1" cy="985.6" rx="27.3" ry="9.6" fill="#4740e4"/><ellipse cx="1220.1" cy="984.6" rx="27.3" ry="9.6" fill="#4741e5"/><ellipse cx="1220.1" cy="983.6" rx="27.2" ry="9.6" fill="#4743e7"/><ellipse cx="1220.1" cy="982.6" rx="27.1" ry="9.5" fill="#4744e8"/><ellipse cx="1220.1" cy="981.6" rx="27" ry="9.5" fill="#4745e9"/><ellipse cx="1220.1" cy="980.6" rx="26.9" ry="9.5" fill="#4746eb"/><ellipse cx="1220.1" cy="979.6" rx="26.9" ry="9.5" fill="#4848ec"/><ellipse cx="1220.1" cy="978.6" rx="26.8" ry="9.4" fill="#4849ed"/><ellipse cx="1220.1" cy="977.6" rx="26.7" ry="9.4" fill="#484aee"/><ellipse cx="1220.1" cy="976.6" rx="26.7" ry="9.4" fill="#484bef"/><ellipse cx="1220.1" cy="975.6" rx="26.6" ry="9.4" fill="#484df0"/><ellipse cx="1220.1" cy="974.6" rx="26.5" ry="9.3" fill="#484ef1"/><ellipse cx="1220.1" cy="973.6" rx="26.4" ry="9.3" fill="#484ff2"/><ellipse cx="1220.1" cy="972.6" rx="26.4" ry="9.3" fill="#4851f3"/><ellipse cx="1220.1" cy="971.6" rx="26.3" ry="9.3" fill="#4852f4"/><ellipse cx="1220.1" cy="970.6" rx="26.2" ry="9.2" fill="#4853f5"/><ellipse cx="1220.1" cy="969.6" rx="26.2" ry="9.2" fill="#4854f5"/><ellipse cx="1220.1" cy="968.6" rx="26.1" ry="9.2" fill="#4756f6"/><ellipse cx="1220.1" cy="967.6" rx="26.1" ry="9.2" fill="#4757f7"/><ellipse cx="1220.1" cy="966.6" rx="26" ry="9.1" fill="#4758f8"/><ellipse cx="1220.1" cy="965.6" rx="25.9" ry="9.1" fill="#4759f8"/><ellipse cx="1220.1" cy="964.6" rx="25.9" ry="9.1" fill="#475af9"/><ellipse cx="1220.1" cy="963.6" rx="25.8" ry="9.1" fill="#475cfa"/><ellipse cx="1220.1" cy="962.6" rx="25.7" ry="9.1" fill="#465dfa"/><ellipse cx="1220.1" cy="961.6" rx="25.7" ry="9" fill="#465efb"/><ellipse cx="1220.1" cy="960.6" rx="25.6" ry="9" fill="#4660fb"/><ellipse cx="1220.1" cy="959.6" rx="25.6" ry="9" fill="#4561fc"/><ellipse cx="1220.1" cy="958.6" rx="25.5" ry="9" fill="#4562fc"/><ellipse cx="1220.1" cy="957.6" rx="25.4" ry="8.9" fill="#4563fd"/><ellipse cx="1220.1" cy="956.6" rx="25.4" ry="8.9" fill="#4465fd"/><ellipse cx="1220.1" cy="955.6" rx="25.3" ry="8.9" fill="#4466fd"/><ellipse cx="1220.1" cy="954.6" rx="25.3" ry="8.9" fill="#4367fd"/><ellipse cx="1220.1" cy="953.6" rx="25.2" ry="8.9" fill="#4369fe"/><ellipse cx="1220.1" cy="952.6" rx="25.1" ry="8.8" fill="#426afe"/><ellipse cx="1220.1" cy="951.6" rx="25.1" ry="8.8" fill="#416bfe"/><ellipse cx="1220.1" cy="950.6" rx="25" ry="8.8" fill="#406dfe"/><ellipse cx="1220.1" cy="949.6" rx="25" ry="8.8" fill="#3f6eff"/><ellipse cx="1220.1" cy="948.6" rx="24.9" ry="8.8" fill="#3e6fff"/><ellipse cx="1220.1" cy="947.6" rx="24.8" ry="8.7" fill="#3d71ff"/><ellipse cx="1220.1" cy="946.6" rx="24.8" ry="8.7" fill="#3b72ff"/><ellipse cx="1220.1" cy="945.6" rx="24.7" ry="8.7" fill="#3a73fe"/><ellipse cx="1220.1" cy="944.6" rx="24.7" ry="8.7" fill="#3975fe"/><ellipse cx="1220.1" cy="943.6" rx="24.6" ry="8.7" fill="#3776fe"/><ellipse cx="1220.1" cy="942.6" rx="24.5" ry="8.6" fill="#3678fe"/><ellipse cx="1220.1" cy="941.6" rx="24.5" ry="8.6" fill="#3579fd"/><ellipse cx="1220.1" cy="940.7" rx="24.4" ry="8.6" fill="#337afd"/><ellipse cx="1220.1" cy="939.7" rx="24.4" ry="8.6" fill="#327cfc"/><ellipse cx="1220.1" cy="938.7" rx="24.3" ry="8.6" fill="#317dfc"/><ellipse cx="1220.1" cy="937.7" rx="24.3" ry="8.5" fill="#307efb"/><ellipse cx="1220.1" cy="936.7" rx="24.2" ry="8.5" fill="#3080fb"/><ellipse cx="1220.1" cy="935.7" rx="24.1" ry="8.5" fill="#2f81fa"/><ellipse cx="1220.1" cy="934.7" rx="24.1" ry="8.5" fill="#2f82f9"/><ellipse cx="1220.1" cy="933.7" rx="24" ry="8.4" fill="#2e83f9"/><ellipse cx="1220.1" cy="932.7" rx="24" ry="8.4" fill="#2e85f8"/><ellipse cx="1220.1" cy="931.7" rx="23.9" ry="8.4" fill="#2e86f7"/><ellipse cx="1220.1" cy="930.7" rx="23.8" ry="8.4" fill="#2e87f7"/><ellipse cx="1220.1" cy="929.7" rx="23.8" ry="8.4" fill="#2d88f6"/><ellipse cx="1220.1" cy="928.7" rx="23.7" ry="8.3" fill="#2d89f5"/><ellipse cx="1220.1" cy="927.7" rx="23.7" ry="8.3" fill="#2d8bf4"/><ellipse cx="1220.1" cy="926.7" rx="23.6" ry="8.3" fill="#2d8cf3"/><ellipse cx="1220.1" cy="925.7" rx="23.5" ry="8.3" fill="#2d8df2"/><ellipse cx="1220.1" cy="924.7" rx="23.5" ry="8.3" fill="#2c8ef1"/><ellipse cx="1220.1" cy="923.7" rx="23.4" ry="8.2" fill="#2c8ff0"/><ellipse cx="1220.1" cy="922.7" rx="23.4" ry="8.2" fill="#2b90ef"/><ellipse cx="1220.1" cy="921.7" rx="23.3" ry="8.2" fill="#2b92ef"/><ellipse cx="1220.1" cy="920.7" rx="23.2" ry="8.2" fill="#2a93ee"/><ellipse cx="1220.1" cy="919.7" rx="23.2" ry="8.2" fill="#2994ed"/><ellipse cx="1220.1" cy="918.7" rx="23.1" ry="8.1" fill="#2895ec"/><ellipse cx="1220.1" cy="917.7" rx="23.1" ry="8.1" fill="#2896eb"/><ellipse cx="1220.1" cy="916.7" rx="23" ry="8.1" fill="#2797eb"/><ellipse cx="1220.1" cy="915.7" rx="22.9" ry="8.1" fill="#2798ea"/><ellipse cx="1220.1" cy="914.7" rx="22.9" ry="8" fill="#2699e9"/><ellipse cx="1220.1" cy="913.7" rx="22.8" ry="8" fill="#269ae8"/><ellipse cx="1220.1" cy="912.7" rx="22.7" ry="8" fill="#259ce7"/><ellipse cx="1220.1" cy="911.7" rx="22.7" ry="8" fill="#259de7"/><ellipse cx="1220.1" cy="910.7" rx="22.6" ry="8" fill="#249ee6"/><ellipse cx="1220.1" cy="909.7" rx="22.6" ry="7.9" fill="#249fe6"/><ellipse cx="1220.1" cy="908.7" rx="22.5" ry="7.9" fill="#23a0e5"/><ellipse cx="1220.1" cy="907.7" rx="22.4" ry="7.9" fill="#23a1e4"/><ellipse cx="1220.1" cy="906.7" rx="22.4" ry="7.9" fill="#22a2e4"/><ellipse cx="1220.1" cy="905.7" rx="22.3" ry="7.8" fill="#21a3e3"/><ellipse cx="1220.1" cy="904.7" rx="22.2" ry="7.8" fill="#20a4e3"/><ellipse cx="1220.1" cy="903.7" rx="22.2" ry="7.8" fill="#20a5e2"/><ellipse cx="1220.1" cy="902.7" rx="22.1" ry="7.8" fill="#1fa6e2"/><ellipse cx="1220.1" cy="901.7" rx="22.1" ry="7.8" fill="#1ea7e1"/><ellipse cx="1220.1" cy="900.7" rx="22" ry="7.7" fill="#1da8e0"/><ellipse cx="1220.1" cy="899.7" rx="21.9" ry="7.7" fill="#1da9e0"/><ellipse cx="1220.1" cy="898.7" rx="21.9" ry="7.7" fill="#1caadf"/><ellipse cx="1220.1" cy="897.7" rx="21.8" ry="7.7" fill="#1babde"/><ellipse cx="1220.1" cy="896.7" rx="21.7" ry="7.6" fill="#1aacdd"/><ellipse cx="1220.1" cy="895.7" rx="21.7" ry="7.6" fill="#19addc"/><ellipse cx="1220.1" cy="894.7" rx="21.6" ry="7.6" fill="#18aedb"/><ellipse cx="1220.1" cy="893.8" rx="21.5" ry="7.6" fill="#16aeda"/><ellipse cx="1220.1" cy="892.8" rx="21.5" ry="7.6" fill="#15afd9"/><ellipse cx="1220.1" cy="891.8" rx="21.4" ry="7.5" fill="#13b0d8"/><ellipse cx="1220.1" cy="890.8" rx="21.3" ry="7.5" fill="#12b1d6"/><ellipse cx="1220.1" cy="889.8" rx="21.3" ry="7.5" fill="#10b2d5"/><ellipse cx="1220.1" cy="888.8" rx="21.2" ry="7.5" fill="#0eb2d4"/><ellipse cx="1220.1" cy="887.8" rx="21.1" ry="7.4" fill="#0cb3d2"/><ellipse cx="1220.1" cy="886.8" rx="21.1" ry="7.4" fill="#09b4d1"/><ellipse cx="1220.1" cy="885.8" rx="21" ry="7.4" fill="#07b5d0"/><ellipse cx="1220.1" cy="884.8" rx="20.9" ry="7.4" fill="#06b5ce"/><ellipse cx="1220.1" cy="883.8" rx="20.9" ry="7.3" fill="#04b6cd"/><ellipse cx="1220.1" cy="882.8" rx="20.8" ry="7.3" fill="#03b7cc"/><ellipse cx="1220.1" cy="881.8" rx="20.7" ry="7.3" fill="#01b7ca"/><ellipse cx="1220.1" cy="880.8" rx="20.7" ry="7.3" fill="#01b8c9"/><ellipse cx="1220.1" cy="879.8" rx="20.6" ry="7.2" fill="#01b9c7"/><ellipse cx="1220.1" cy="878.8" rx="20.5" ry="7.2" fill="#01b9c6"/><ellipse cx="1220.1" cy="877.8" rx="20.5" ry="7.2" fill="#02bac4"/><ellipse cx="1220.1" cy="876.8" rx="20.4" ry="7.2" fill="#02bbc3"/><ellipse cx="1220.1" cy="875.8" rx="20.3" ry="7.1" fill="#04bbc1"/><ellipse cx="1220.1" cy="874.8" rx="20.3" ry="7.1" fill="#06bcc0"/><ellipse cx="1220.1" cy="873.8" rx="20.2" ry="7.1" fill="#08bcbe"/><ellipse cx="1220.1" cy="872.8" rx="20.1" ry="7.1" fill="#0bbdbd"/><ellipse cx="1220.1" cy="871.8" rx="20" ry="7.1" fill="#0dbdbb"/><ellipse cx="1220.1" cy="870.8" rx="20" ry="7" fill="#10beba"/><ellipse cx="1220.1" cy="869.8" rx="19.9" ry="7" fill="#13beb8"/><ellipse cx="1220.1" cy="868.8" rx="19.8" ry="7" fill="#16bfb7"/><ellipse cx="1220.1" cy="867.8" rx="19.8" ry="7" fill="#19bfb5"/><ellipse cx="1220.1" cy="866.8" rx="19.7" ry="6.9" fill="#1cc0b4"/><ellipse cx="1220.1" cy="865.8" rx="19.6" ry="6.9" fill="#1ec0b2"/><ellipse cx="1220.1" cy="864.8" rx="19.5" ry="6.9" fill="#21c1b0"/><ellipse cx="1220.1" cy="863.8" rx="19.5" ry="6.9" fill="#23c1af"/><ellipse cx="1220.1" cy="862.8" rx="19.4" ry="6.8" fill="#25c2ad"/><ellipse cx="1220.1" cy="861.8" rx="19.3" ry="6.8" fill="#27c2ac"/><ellipse cx="1220.1" cy="860.8" rx="19.3" ry="6.8" fill="#29c3aa"/><ellipse cx="1220.1" cy="859.8" rx="19.2" ry="6.7" fill="#2bc3a8"/><ellipse cx="1220.1" cy="858.8" rx="19.1" ry="6.7" fill="#2cc4a7"/><ellipse cx="1220.1" cy="857.8" rx="19" ry="6.7" fill="#2dc4a5"/><ellipse cx="1220.1" cy="856.8" rx="19" ry="6.7" fill="#2fc5a3"/><ellipse cx="1220.1" cy="855.8" rx="18.9" ry="6.6" fill="#30c5a2"/><ellipse cx="1220.1" cy="854.8" rx="18.8" ry="6.6" fill="#31c6a0"/><ellipse cx="1220.1" cy="853.8" rx="18.7" ry="6.6" fill="#32c69e"/><ellipse cx="1220.1" cy="852.8" rx="18.7" ry="6.6" fill="#34c79c"/><ellipse cx="1220.1" cy="851.8" rx="18.6" ry="6.5" fill="#35c79a"/><ellipse cx="1220.1" cy="850.8" rx="18.5" ry="6.5" fill="#36c898"/><ellipse cx="1220.1" cy="849.8" rx="18.4" ry="6.5" fill="#38c896"/><ellipse cx="1220.1" cy="848.8" rx="18.4" ry="6.5" fill="#39c994"/><ellipse cx="1220.1" cy="847.8" rx="18.3" ry="6.4" fill="#3bc992"/><ellipse cx="1220.1" cy="846.8" rx="18.2" ry="6.4" fill="#3dc990"/><ellipse cx="1220.1" cy="845.9" rx="18.1" ry="6.4" fill="#3fca8e"/><ellipse cx="1220.1" cy="844.9" rx="18.1" ry="6.4" fill="#41ca8c"/><ellipse cx="1220.1" cy="843.9" rx="18" ry="6.3" fill="#43ca8a"/><ellipse cx="1220.1" cy="842.9" rx="17.9" ry="6.3" fill="#46cb88"/><ellipse cx="1220.1" cy="841.9" rx="17.8" ry="6.3" fill="#48cb86"/><ellipse cx="1220.1" cy="840.9" rx="17.7" ry="6.2" fill="#4bcb84"/><ellipse cx="1220.1" cy="839.9" rx="17.7" ry="6.2" fill="#4ecc81"/><ellipse cx="1220.1" cy="838.9" rx="17.6" ry="6.2" fill="#51cc7f"/><ellipse cx="1220.1" cy="837.9" rx="17.5" ry="6.2" fill="#53cc7d"/><ellipse cx="1220.1" cy="836.9" rx="17.4" ry="6.1" fill="#56cc7b"/><ellipse cx="1220.1" cy="835.9" rx="17.3" ry="6.1" fill="#59cc78"/><ellipse cx="1220.1" cy="834.9" rx="17.3" ry="6.1" fill="#5ccc76"/><ellipse cx="1220.1" cy="833.9" rx="17.2" ry="6" fill="#5fcd73"/><ellipse cx="1220.1" cy="832.9" rx="17.1" ry="6" fill="#62cd71"/><ellipse cx="1220.1" cy="831.9" rx="17" ry="6" fill="#65cd6e"/><ellipse cx="1220.1" cy="830.9" rx="16.9" ry="6" fill="#68cd6c"/><ellipse cx="1220.1" cy="829.9" rx="16.8" ry="5.9" fill="#6bcd69"/><ellipse cx="1220.1" cy="828.9" rx="16.8" ry="5.9" fill="#6ecd67"/><ellipse cx="1220.1" cy="827.9" rx="16.7" ry="5.9" fill="#71cd64"/><ellipse cx="1220.1" cy="826.9" rx="16.6" ry="5.8" fill="#74cc62"/><ellipse cx="1220.1" cy="825.9" rx="16.5" ry="5.8" fill="#78cc5f"/><ellipse cx="1220.1" cy="824.9" rx="16.4" ry="5.8" fill="#7bcc5d"/><ellipse cx="1220.1" cy="823.9" rx="16.3" ry="5.7" fill="#7ecc5a"/><ellipse cx="1220.1" cy="822.9" rx="16.3" ry="5.7" fill="#82cc58"/><ellipse cx="1220.1" cy="821.9" rx="16.2" ry="5.7" fill="#85cb55"/><ellipse cx="1220.1" cy="820.9" rx="16.1" ry="5.7" fill="#88cb53"/><ellipse cx="1220.1" cy="819.9" rx="16" ry="5.6" fill="#8bcb51"/><ellipse cx="1220.1" cy="818.9" rx="15.9" ry="5.6" fill="#8fcb4e"/><ellipse cx="1220.1" cy="817.9" rx="15.8" ry="5.6" fill="#92ca4c"/><ellipse cx="1220.1" cy="816.9" rx="15.7" ry="5.5" fill="#95ca49"/><ellipse cx="1220.1" cy="815.9" rx="15.6" ry="5.5" fill="#98c947"/><ellipse cx="1220.1" cy="814.9" rx="15.5" ry="5.5" fill="#9bc944"/><ellipse cx="1220.1" cy="813.9" rx="15.5" ry="5.4" fill="#9fc942"/><ellipse cx="1220.1" cy="812.9" rx="15.4" ry="5.4" fill="#a2c840"/><ellipse cx="1220.1" cy="811.9" rx="15.3" ry="5.4" fill="#a5c83d"/><ellipse cx="1220.1" cy="810.9" rx="15.2" ry="5.3" fill="#a8c73b"/><ellipse cx="1220.1" cy="809.9" rx="15.1" ry="5.3" fill="#abc739"/><ellipse cx="1220.1" cy="808.9" rx="15" ry="5.3" fill="#aec637"/><ellipse cx="1220.1" cy="807.9" rx="14.9" ry="5.2" fill="#b1c635"/><ellipse cx="1220.1" cy="806.9" rx="14.8" ry="5.2" fill="#b4c534"/><ellipse cx="1220.1" cy="805.9" rx="14.7" ry="5.2" fill="#b7c532"/><ellipse cx="1220.1" cy="804.9" rx="14.6" ry="5.1" fill="#bac430"/><ellipse cx="1220.1" cy="803.9" rx="14.5" ry="5.1" fill="#bdc42f"/><ellipse cx="1220.1" cy="802.9" rx="14.4" ry="5.1" fill="#bfc32d"/><ellipse cx="1220.1" cy="801.9" rx="14.3" ry="5" fill="#c2c22c"/><ellipse cx="1220.1" cy="800.9" rx="14.2" ry="5" fill="#c5c22a"/><ellipse cx="1220.1" cy="799.9" rx="14.1" ry="5" fill="#c8c129"/><ellipse cx="1220.1" cy="799" rx="14" ry="4.9" fill="#cac129"/><ellipse cx="1220.1" cy="798" rx="13.9" ry="4.9" fill="#cdc028"/><ellipse cx="1220.1" cy="797" rx="13.8" ry="4.9" fill="#d0c028"/><ellipse cx="1220.1" cy="796" rx="13.7" ry="4.8" fill="#d2bf27"/><ellipse cx="1220.1" cy="795" rx="13.6" ry="4.8" fill="#d5be28"/><ellipse cx="1220.1" cy="794" rx="13.5" ry="4.8" fill="#d7be28"/><ellipse cx="1220.1" cy="793" rx="13.4" ry="4.7" fill="#d9bd28"/><ellipse cx="1220.1" cy="792" rx="13.3" ry="4.7" fill="#dcbd29"/><ellipse cx="1220.1" cy="791" rx="13.2" ry="4.6" fill="#debc2a"/><ellipse cx="1220.1" cy="790" rx="13.1" ry="4.6" fill="#e0bc2b"/><ellipse cx="1220.1" cy="789" rx="13" ry="4.6" fill="#e3bc2c"/><ellipse cx="1220.1" cy="788" rx="12.9" ry="4.5" fill="#e5bb2d"/><ellipse cx="1220.1" cy="787" rx="12.8" ry="4.5" fill="#e7bb2e"/><ellipse cx="1220.1" cy="786" rx="12.7" ry="4.5" fill="#e9bb30"/><ellipse cx="1220.1" cy="785" rx="12.5" ry="4.4" fill="#ebba32"/><ellipse cx="1220.1" cy="784" rx="12.4" ry="4.4" fill="#edba34"/><ellipse cx="1220.1" cy="783" rx="12.3" ry="4.3" fill="#efba35"/><ellipse cx="1220.1" cy="782" rx="12.2" ry="4.3" fill="#f1ba37"/><ellipse cx="1220.1" cy="781" rx="12.1" ry="4.3" fill="#f3ba39"/><ellipse cx="1220.1" cy="780" rx="12" ry="4.2" fill="#f5ba3a"/><ellipse cx="1220.1" cy="779" rx="11.9" ry="4.2" fill="#f7ba3c"/><ellipse cx="1220.1" cy="778" rx="11.7" ry="4.1" fill="#f9ba3d"/><ellipse cx="1220.1" cy="777" rx="11.6" ry="4.1" fill="#fabb3d"/><ellipse cx="1220.1" cy="776" rx="11.5" ry="4" fill="#fbbc3d"/><ellipse cx="1220.1" cy="775" rx="11.4" ry="4" fill="#fcbd3d"/><ellipse cx="1220.1" cy="774" rx="11.2" ry="4" fill="#febe3c"/><ellipse cx="1220.1" cy="773" rx="11.1" ry="3.9" fill="#febf3c"/><ellipse cx="1220.1" cy="772" rx="11" ry="3.9" fill="#fec03b"/><ellipse cx="1220.1" cy="771" rx="10.9" ry="3.8" fill="#fec13a"/><ellipse cx="1220.1" cy="770" rx="10.7" ry="3.8" fill="#fec339"/><ellipse cx="1220.1" cy="769" rx="10.6" ry="3.7" fill="#fec438"/><ellipse cx="1220.1" cy="768" rx="10.5" ry="3.7" fill="#fec537"/><ellipse cx="1220.1" cy="767" rx="10.3" ry="3.6" fill="#fec736"/><ellipse cx="1220.1" cy="766" rx="10.2" ry="3.6" fill="#fec835"/><ellipse cx="1220.1" cy="765" rx="10.1" ry="3.5" fill="#fec934"/><ellipse cx="1220.1" cy="764" rx="9.9" ry="3.5" fill="#fdcb33"/><ellipse cx="1220.1" cy="763" rx="9.8" ry="3.4" fill="#fdcc32"/><ellipse cx="1220.1" cy="762" rx="9.6" ry="3.4" fill="#fdcd31"/><ellipse cx="1220.1" cy="761" rx="9.5" ry="3.3" fill="#fccf31"/><ellipse cx="1220.1" cy="760" rx="9.3" ry="3.3" fill="#fcd030"/><ellipse cx="1220.1" cy="759" rx="9.2" ry="3.2" fill="#fbd22f"/><ellipse cx="1220.1" cy="758" rx="9" ry="3.2" fill="#fbd32e"/><ellipse cx="1220.1" cy="757" rx="8.9" ry="3.1" fill="#fad42e"/><ellipse cx="1220.1" cy="756" rx="8.7" ry="3.1" fill="#fad62d"/><ellipse cx="1220.1" cy="755" rx="8.5" ry="3" fill="#f9d72c"/><ellipse cx="1220.1" cy="754" rx="8.4" ry="2.9" fill="#f8d92c"/><ellipse cx="1220.1" cy="753" rx="8.2" ry="2.9" fill="#f8da2b"/><ellipse cx="1220.1" cy="752.1" rx="8" ry="2.8" fill="#f7dc2a"/><ellipse cx="1220.1" cy="751.1" rx="7.9" ry="2.8" fill="#f7dd2a"/><ellipse cx="1220.1" cy="750.1" rx="7.7" ry="2.7" fill="#f6de29"/><ellipse cx="1220.1" cy="749.1" rx="7.5" ry="2.6" fill="#f6e028"/><ellipse cx="1220.1" cy="748.1" rx="7.3" ry="2.6" fill="#f5e128"/><ellipse cx="1220.1" cy="747.1" rx="7.1" ry="2.5" fill="#f5e327"/><ellipse cx="1220.1" cy="746.1" rx="6.9" ry="2.4" fill="#f5e427"/><ellipse cx="1220.1" cy="745.1" rx="6.7" ry="2.4" fill="#f5e526"/><ellipse cx="1220.1" cy="744.1" rx="6.5" ry="2.3" fill="#f5e725"/><ellipse cx="1220.1" cy="743.1" rx="6.3" ry="2.2" fill="#f5e825"/><ellipse cx="1220.1" cy="742.1" rx="6" ry="2.1" fill="#f5ea24"/><ellipse cx="1220.1" cy="741.1" rx="5.8" ry="2" fill="#f5eb23"/><ellipse cx="1220.1" cy="740.1" rx="5.6" ry="2" fill="#f5ec22"/><ellipse cx="1220.1" cy="739.1" rx="5.3" ry="1.9" fill="#f5ee21"/><ellipse cx="1220.1" cy="738.1" rx="5" ry="1.8" fill="#f6ef20"/><ellipse cx="1220.1" cy="737.1" rx="4.7" ry="1.7" fill="#f6f01f"/><ellipse cx="1220.1" cy="736.1" rx="4.4" ry="1.6" fill="#f6f21e"/><ellipse cx="1220.1" cy="735.1" rx="4.1" ry="1.4" fill="#f7f31d"/><ellipse cx="1220.1" cy="734.1" rx="3.7" ry="1.3" fill="#f7f41c"/><ellipse cx="1220.1" cy="733.1" rx="3.4" ry="1.2" fill="#f7f61a"/><ellipse cx="1220.1" cy="732.1" rx="2.9" ry="1" fill="#f8f719"/><ellipse cx="1220.1" cy="731.1" rx="2.4" ry="0.8" fill="#f8f817"/><ellipse cx="1220.1" cy="730.1" rx="1.7" ry="0.6" fill="#f9fa16"/></g>
<rect x="1181.3" y="721.1" width="77.6" height="309.2" fill="url(#mesh)" mask="url(#m7)"/>
<path d="M1190.2 1014.1A30.8 10.8 0 0 0 1250 1014.1" fill="none" stroke="#c4b8ff" stroke-opacity="0.55" stroke-width="1.5"/>
<g><ellipse cx="1181.7" cy="1115.6" rx="65.6" ry="23.1" fill="#3e26a8"/><ellipse cx="1181.7" cy="1114.6" rx="65.4" ry="23" fill="#3e27ab"/><ellipse cx="1181.7" cy="1113.6" rx="65.2" ry="22.9" fill="#3f28ae"/><ellipse cx="1181.7" cy="1112.6" rx="65" ry="22.9" fill="#3f29b0"/><ellipse cx="1181.7" cy="1111.6" rx="64.8" ry="22.8" fill="#402ab3"/><ellipse cx="1181.7" cy="1110.6" rx="64.7" ry="22.7" fill="#402bb6"/><ellipse cx="1181.7" cy="1109.6" rx="64.5" ry="22.7" fill="#402cb8"/><ellipse cx="1181.7" cy="1108.6" rx="64.3" ry="22.6" fill="#412cbb"/><ellipse cx="1181.8" cy="1107.6" rx="64.1" ry="22.5" fill="#412dbd"/><ellipse cx="1181.8" cy="1106.6" rx="63.9" ry="22.5" fill="#422ec0"/><ellipse cx="1181.8" cy="1105.6" rx="63.7" ry="22.4" fill="#422fc2"/><ellipse cx="1181.8" cy="1104.6" rx="63.5" ry="22.3" fill="#4330c5"/><ellipse cx="1181.8" cy="1103.6" rx="63.3" ry="22.3" fill="#4331c7"/><ellipse cx="1181.8" cy="1102.7" rx="63.1" ry="22.2" fill="#4332ca"/><ellipse cx="1181.8" cy="1101.7" rx="63" ry="22.1" fill="#4433cc"/><ellipse cx="1181.8" cy="1100.7" rx="62.8" ry="22.1" fill="#4434ce"/><ellipse cx="1181.8" cy="1099.7" rx="62.6" ry="22" fill="#4435d1"/><ellipse cx="1181.8" cy="1098.7" rx="62.4" ry="21.9" fill="#4536d3"/><ellipse cx="1181.8" cy="1097.7" rx="62.2" ry="21.9" fill="#4537d5"/><ellipse cx="1181.8" cy="1096.7" rx="62" ry="21.8" fill="#4538d7"/><ellipse cx="1181.8" cy="1095.7" rx="61.8" ry="21.7" fill="#4639d9"/><ellipse cx="1181.8" cy="1094.7" rx="61.6" ry="21.7" fill="#463adb"/><ellipse cx="1181.9" cy="1093.7" rx="61.5" ry="21.6" fill="#463bdd"/><ellipse cx="1181.9" cy="1092.7" rx="61.3" ry="21.5" fill="#463cdf"/><ellipse cx="1181.9" cy="1091.7" rx="61.1" ry="21.5" fill="#463ee0"/><ellipse cx="1181.9" cy="1090.7" rx="60.9" ry="21.4" fill="#473fe2"/><ellipse cx="1181.9" cy="1089.7" rx="60.7" ry="21.3" fill="#4740e4"/><ellipse cx="1181.9" cy="1088.7" rx="60.5" ry="21.3" fill="#4741e5"/><ellipse cx="1181.9" cy="1087.7" rx="60.3" ry="21.2" fill="#4743e7"/><ellipse cx="1181.9" cy="1086.7" rx="60.1" ry="21.1" fill="#4744e8"/><ellipse cx="1181.9" cy="1085.7" rx="59.9" ry="21.1" fill="#4745e9"/><ellipse cx="1181.9" cy="1084.7" rx="59.7" ry="21" fill="#4746ea"/><ellipse cx="1181.9" cy="1083.7" rx="59.5" ry="20.9" fill="#4848ec"/><ellipse cx="1181.9" cy="1082.7" rx="59.4" ry="20.9" fill="#4849ed"/><ellipse cx="1181.9" cy="1081.7" rx="59.2" ry="20.8" fill="#484aee"/><ellipse cx="1181.9" cy="1080.7" rx="59" ry="20.7" fill="#484bef"/><ellipse cx="1181.9" cy="1079.7" rx="58.8" ry="20.7" fill="#484df0"/><ellipse cx="1182" cy="1078.7" rx="58.6" ry="20.6" fill="#484ef1"/><ellipse cx="1182" cy="1077.7" rx="58.4" ry="20.5" fill="#484ff2"/><ellipse cx="1182" cy="1076.8" rx="58.2" ry="20.5" fill="#4850f3"/><ellipse cx="1182" cy="1075.8" rx="58" ry="20.4" fill="#4852f4"/><ellipse cx="1182" cy="1074.8" rx="57.8" ry="20.3" fill="#4853f5"/><ellipse cx="1182" cy="1073.8" rx="57.6" ry="20.3" fill="#4854f5"/><ellipse cx="1182" cy="1072.8" rx="57.4" ry="20.2" fill="#4755f6"/><ellipse cx="1182" cy="1071.8" rx="57.2" ry="20.1" fill="#4757f7"/><ellipse cx="1182" cy="1070.8" rx="57" ry="20.1" fill="#4758f8"/><ellipse cx="1182" cy="1069.8" rx="56.8" ry="20" fill="#4759f8"/><ellipse cx="1182" cy="1068.8" rx="56.6" ry="19.9" fill="#475af9"/><ellipse cx="1182" cy="1067.8" rx="56.4" ry="19.8" fill="#475cfa"/><ellipse cx="1182" cy="1066.8" rx="56.2" ry="19.8" fill="#465dfa"/><ellipse cx="1182" cy="1065.8" rx="56" ry="19.7" fill="#465efb"/><ellipse cx="1182" cy="1064.8" rx="55.8" ry="19.6" fill="#465ffb"/><ellipse cx="1182.1" cy="1063.8" rx="55.6" ry="19.6" fill="#4661fc"/><ellipse cx="1182.1" cy="1062.8" rx="55.4" ry="19.5" fill="#4562fc"/><ellipse cx="1182.1" cy="1061.8" rx="55.2" ry="19.4" fill="#4563fd"/><ellipse cx="1182.1" cy="1060.8" rx="55" ry="19.3" fill="#4465fd"/><ellipse cx="1182.1" cy="1059.8" rx="54.8" ry="19.3" fill="#4466fd"/><ellipse cx="1182.1" cy="1058.8" rx="54.6" ry="19.2" fill="#4367fd"/><ellipse cx="1182.1" cy="1057.8" rx="54.4" ry="19.1" fill="#4368fe"/><ellipse cx="1182.1" cy="1056.8" rx="54.2" ry="19.1" fill="#426afe"/><ellipse cx="1182.1" cy="1055.8" rx="54" ry="19" fill="#416bfe"/><ellipse cx="1182.1" cy="1054.8" rx="53.8" ry="18.9" fill="#406cfe"/><ellipse cx="1182.1" cy="1053.8" rx="53.6" ry="18.8" fill="#3f6efe"/><ellipse cx="1182.1" cy="1052.8" rx="53.3" ry="18.8" fill="#3e6fff"/><ellipse cx="1182.1" cy="1051.8" rx="53.1" ry="18.7" fill="#3d71ff"/><ellipse cx="1182.1" cy="1050.9" rx="52.9" ry="18.6" fill="#3c72ff"/><ellipse cx="1182.2" cy="1049.9" rx="52.7" ry="18.5" fill="#3a73fe"/><ellipse cx="1182.2" cy="1048.9" rx="52.5" ry="18.5" fill="#3975fe"/><ellipse cx="1182.2" cy="1047.9" rx="52.3" ry="18.4" fill="#3876fe"/><ellipse cx="1182.2" cy="1046.9" rx="52.1" ry="18.3" fill="#3677fe"/><ellipse cx="1182.2" cy="1045.9" rx="51.9" ry="18.2" fill="#3579fd"/><ellipse cx="1182.2" cy="1044.9" rx="51.7" ry="18.2" fill="#337afd"/><ellipse cx="1182.2" cy="1043.9" rx="51.4" ry="18.1" fill="#327cfc"/><ellipse cx="1182.2" cy="1042.9" rx="51.2" ry="18" fill="#317dfc"/><ellipse cx="1182.2" cy="1041.9" rx="51" ry="17.9" fill="#317efb"/><ellipse cx="1182.2" cy="1040.9" rx="50.8" ry="17.9" fill="#307ffb"/><ellipse cx="1182.2" cy="1039.9" rx="50.6" ry="17.8" fill="#2f81fa"/><ellipse cx="1182.2" cy="1038.9" rx="50.4" ry="17.7" fill="#2f82fa"/><ellipse cx="1182.2" cy="1037.9" rx="50.1" ry="17.6" fill="#2e83f9"/><ellipse cx="1182.2" cy="1036.9" rx="49.9" ry="17.6" fill="#2e84f8"/><ellipse cx="1182.2" cy="1035.9" rx="49.7" ry="17.5" fill="#2e86f8"/><ellipse cx="1182.3" cy="1034.9" rx="49.5" ry="17.4" fill="#2e87f7"/><ellipse cx="1182.3" cy="1033.9" rx="49.3" ry="17.3" fill="#2d88f6"/><ellipse cx="1182.3" cy="1032.9" rx="49" ry="17.2" fill="#2d89f5"/><ellipse cx="1182.3" cy="1031.9" rx="48.8" ry="17.2" fill="#2d8af4"/><ellipse cx="1182.3" cy="1030.9" rx="48.6" ry="17.1" fill="#2d8cf3"/><ellipse cx="1182.3" cy="1029.9" rx="48.4" ry="17" fill="#2d8df2"/><ellipse cx="1182.3" cy="1028.9" rx="48.1" ry="16.9" fill="#2c8ef1"/><ellipse cx="1182.3" cy="1027.9" rx="47.9" ry="16.9" fill="#2c8ff0"/><ellipse cx="1182.3" cy="1026.9" rx="47.7" ry="16.8" fill="#2b90f0"/><ellipse cx="1182.3" cy="1026" rx="47.5" ry="16.7" fill="#2b91ef"/><ellipse cx="1182.3" cy="1025" rx="47.2" ry="16.6" fill="#2a93ee"/><ellipse cx="1182.3" cy="1024" rx="47" ry="16.5" fill="#2994ed"/><ellipse cx="1182.3" cy="1023" rx="46.8" ry="16.4" fill="#2995ec"/><ellipse cx="1182.3" cy="1022" rx="46.5" ry="16.4" fill="#2896eb"/><ellipse cx="1182.3" cy="1021" rx="46.3" ry="16.3" fill="#2797eb"/><ellipse cx="1182.4" cy="1020" rx="46.1" ry="16.2" fill="#2798ea"/><ellipse cx="1182.4" cy="1019" rx="45.8" ry="16.1" fill="#2699e9"/><ellipse cx="1182.4" cy="1018" rx="45.6" ry="16" fill="#269ae8"/><ellipse cx="1182.4" cy="1017" rx="45.4" ry="16" fill="#259be8"/><ellipse cx="1182.4" cy="1016" rx="45.1" ry="15.9" fill="#259ce7"/><ellipse cx="1182.4" cy="1015" rx="44.9" ry="15.8" fill="#249de6"/><ellipse cx="1182.4" cy="1014" rx="44.6" ry="15.7" fill="#249ee6"/><ellipse cx="1182.4" cy="1013" rx="44.4" ry="15.6" fill="#23a0e5"/><ellipse cx="1182.4" cy="1012" rx="44.2" ry="15.5" fill="#23a1e5"/><ellipse cx="1182.4" cy="1011" rx="43.9" ry="15.4" fill="#22a2e4"/><ellipse cx="1182.4" cy="1010" rx="43.7" ry="15.4" fill="#21a3e4"/><ellipse cx="1182.4" cy="1009" rx="43.4" ry="15.3" fill="#21a4e3"/><ellipse cx="1182.4" cy="1008" rx="43.2" ry="15.2" fill="#20a5e3"/><ellipse cx="1182.4" cy="1007" rx="42.9" ry="15.1" fill="#1fa6e2"/><ellipse cx="1182.5" cy="1006" rx="42.7" ry="15" fill="#1ea7e1"/><ellipse cx="1182.5" cy="1005" rx="42.4" ry="14.9" fill="#1ea8e0"/><ellipse cx="1182.5" cy="1004" rx="42.2" ry="14.8" fill="#1da9e0"/><ellipse cx="1182.5" cy="1003" rx="41.9" ry="14.7" fill="#1caadf"/><ellipse cx="1182.5" cy="1002" rx="41.7" ry="14.7" fill="#1babde"/><ellipse cx="1182.5" cy="1001" rx="41.4" ry="14.6" fill="#1aabdd"/><ellipse cx="1182.5" cy="1000.1" rx="41.2" ry="14.5" fill="#19acdc"/><ellipse cx="1182.5" cy="999.1" rx="40.9" ry="14.4" fill="#18addb"/><ellipse cx="1182.5" cy="998.1" rx="40.6" ry="14.3" fill="#17aeda"/><ellipse cx="1182.5" cy="997.1" rx="40.4" ry="14.2" fill="#15afd9"/><ellipse cx="1182.5" cy="996.1" rx="40.1" ry="14.1" fill="#14b0d8"/><ellipse cx="1182.5" cy="995.1" rx="39.9" ry="14" fill="#12b1d7"/><ellipse cx="1182.5" cy="994.1" rx="39.6" ry="13.9" fill="#10b2d5"/><ellipse cx="1182.5" cy="993.1" rx="39.3" ry="13.8" fill="#0eb2d4"/><ellipse cx="1182.5" cy="992.1" rx="39.1" ry="13.7" fill="#0cb3d3"/><ellipse cx="1182.6" cy="991.1" rx="38.8" ry="13.6" fill="#0ab4d1"/><ellipse cx="1182.6" cy="990.1" rx="38.5" ry="13.6" fill="#08b5d0"/><ellipse cx="1182.6" cy="989.1" rx="38.3" ry="13.5" fill="#06b5cf"/><ellipse cx="1182.6" cy="988.1" rx="38" ry="13.4" fill="#05b6cd"/><ellipse cx="1182.6" cy="987.1" rx="37.7" ry="13.3" fill="#03b7cc"/><ellipse cx="1182.6" cy="986.1" rx="37.4" ry="13.2" fill="#02b7cb"/><ellipse cx="1182.6" cy="985.1" rx="37.2" ry="13.1" fill="#01b8c9"/><ellipse cx="1182.6" cy="984.1" rx="36.9" ry="13" fill="#01b9c8"/><ellipse cx="1182.6" cy="983.1" rx="36.6" ry="12.9" fill="#01b9c6"/><ellipse cx="1182.6" cy="982.1" rx="36.3" ry="12.8" fill="#02bac5"/><ellipse cx="1182.6" cy="981.1" rx="36" ry="12.7" fill="#02bac3"/><ellipse cx="1182.6" cy="980.1" rx="35.7" ry="12.6" fill="#04bbc2"/><ellipse cx="1182.6" cy="979.1" rx="35.4" ry="12.5" fill="#06bcc0"/><ellipse cx="1182.6" cy="978.1" rx="35.2" ry="12.4" fill="#08bcbf"/><ellipse cx="1182.6" cy="977.1" rx="34.9" ry="12.3" fill="#0abdbd"/><ellipse cx="1182.7" cy="976.1" rx="34.6" ry="12.2" fill="#0dbdbc"/><ellipse cx="1182.7" cy="975.2" rx="34.3" ry="12.1" fill="#10beba"/><ellipse cx="1182.7" cy="974.2" rx="34" ry="12" fill="#13beb9"/><ellipse cx="1182.7" cy="973.2" rx="33.7" ry="11.8" fill="#16bfb7"/><ellipse cx="1182.7" cy="972.2" rx="33.4" ry="11.7" fill="#19bfb6"/><ellipse cx="1182.7" cy="971.2" rx="33.1" ry="11.6" fill="#1bc0b4"/><ellipse cx="1182.7" cy="970.2" rx="32.8" ry="11.5" fill="#1ec0b2"/><ellipse cx="1182.7" cy="969.2" rx="32.5" ry="11.4" fill="#20c1b1"/><ellipse cx="1182.7" cy="968.2" rx="32.1" ry="11.3" fill="#23c1af"/><ellipse cx="1182.7" cy="967.2" rx="31.8" ry="11.2" fill="#25c2ae"/><ellipse cx="1182.7" cy="966.2" rx="31.5" ry="11.1" fill="#27c2ac"/><ellipse cx="1182.7" cy="965.2" rx="31.2" ry="11" fill="#28c3aa"/><ellipse cx="1182.7" cy="964.2" rx="30.9" ry="10.9" fill="#2ac3a9"/><ellipse cx="1182.7" cy="963.2" rx="30.5" ry="10.7" fill="#2cc4a7"/><ellipse cx="1182.8" cy="962.2" rx="30.2" ry="10.6" fill="#2dc4a5"/><ellipse cx="1182.8" cy="961.2" rx="29.9" ry="10.5" fill="#2ec5a4"/><ellipse cx="1182.8" cy="960.2" rx="29.6" ry="10.4" fill="#30c5a2"/><ellipse cx="1182.8" cy="959.2" rx="29.2" ry="10.3" fill="#31c6a0"/><ellipse cx="1182.8" cy="958.2" rx="28.9" ry="10.2" fill="#32c69e"/><ellipse cx="1182.8" cy="957.2" rx="28.5" ry="10" fill="#33c79d"/><ellipse cx="1182.8" cy="956.2" rx="28.2" ry="9.9" fill="#35c79b"/><ellipse cx="1182.8" cy="955.2" rx="27.8" ry="9.8" fill="#36c899"/><ellipse cx="1182.8" cy="954.2" rx="27.5" ry="9.7" fill="#37c897"/><ellipse cx="1182.8" cy="953.2" rx="27.1" ry="9.5" fill="#39c895"/><ellipse cx="1182.8" cy="952.2" rx="26.8" ry="9.4" fill="#3bc993"/><ellipse cx="1182.8" cy="951.2" rx="26.4" ry="9.3" fill="#3cc991"/><ellipse cx="1182.8" cy="950.2" rx="26" ry="9.2" fill="#3eca8f"/><ellipse cx="1182.8" cy="949.3" rx="25.7" ry="9" fill="#40ca8d"/><ellipse cx="1182.8" cy="948.3" rx="25.3" ry="8.9" fill="#43ca8b"/><ellipse cx="1182.9" cy="947.3" rx="24.9" ry="8.8" fill="#45cb89"/><ellipse cx="1182.9" cy="946.3" rx="24.5" ry="8.6" fill="#48cb86"/><ellipse cx="1182.9" cy="945.3" rx="24.1" ry="8.5" fill="#4acb84"/><ellipse cx="1182.9" cy="944.3" rx="23.7" ry="8.3" fill="#4dcc82"/><ellipse cx="1182.9" cy="943.3" rx="23.3" ry="8.2" fill="#50cc80"/><ellipse cx="1182.9" cy="942.3" rx="22.9" ry="8.1" fill="#53cc7e"/><ellipse cx="1182.9" cy="941.3" rx="22.5" ry="7.9" fill="#55cc7b"/><ellipse cx="1182.9" cy="940.3" rx="22.1" ry="7.8" fill="#58cc79"/><ellipse cx="1182.9" cy="939.3" rx="21.7" ry="7.6" fill="#5bcc76"/><ellipse cx="1182.9" cy="938.3" rx="21.2" ry="7.5" fill="#5ecd74"/><ellipse cx="1182.9" cy="937.3" rx="20.8" ry="7.3" fill="#61cd72"/><ellipse cx="1182.9" cy="936.3" rx="20.3" ry="7.2" fill="#64cd6f"/><ellipse cx="1182.9" cy="935.3" rx="19.9" ry="7" fill="#67cd6d"/><ellipse cx="1182.9" cy="934.3" rx="19.4" ry="6.8" fill="#6acd6a"/><ellipse cx="1182.9" cy="933.3" rx="18.9" ry="6.7" fill="#6dcd67"/><ellipse cx="1183" cy="932.3" rx="18.5" ry="6.5" fill="#70cd65"/><ellipse cx="1183" cy="931.3" rx="18" ry="6.3" fill="#73cd62"/><ellipse cx="1183" cy="930.3" rx="17.5" ry="6.1" fill="#77cc60"/><ellipse cx="1183" cy="929.3" rx="17" ry="6" fill="#7acc5e"/><ellipse cx="1183" cy="928.3" rx="16.4" ry="5.8" fill="#7dcc5b"/><ellipse cx="1183" cy="927.3" rx="15.9" ry="5.6" fill="#81cc59"/><ellipse cx="1183" cy="926.3" rx="15.3" ry="5.4" fill="#84cc56"/><ellipse cx="1183" cy="925.3" rx="14.7" ry="5.2" fill="#87cb54"/><ellipse cx="1183" cy="924.3" rx="14.2" ry="5" fill="#8acb51"/><ellipse cx="1183" cy="923.4" rx="13.5" ry="4.8" fill="#8ecb4f"/><ellipse cx="1183" cy="922.4" rx="12.9" ry="4.5" fill="#91ca4c"/><ellipse cx="1183" cy="921.4" rx="12.2" ry="4.3" fill="#94ca4a"/><ellipse cx="1183" cy="920.4" rx="11.5" ry="4.1" fill="#97ca48"/><ellipse cx="1183" cy="919.4" rx="10.8" ry="3.8" fill="#9ac945"/><ellipse cx="1183.1" cy="918.4" rx="10" ry="3.5" fill="#9dc943"/><ellipse cx="1183.1" cy="917.4" rx="9.2" ry="3.2" fill="#a1c840"/><ellipse cx="1183.1" cy="916.4" rx="8.3" ry="2.9" fill="#a4c83e"/><ellipse cx="1183.1" cy="915.4" rx="7.4" ry="2.6" fill="#a7c73c"/><ellipse cx="1183.1" cy="914.4" rx="6.3" ry="2.2" fill="#aac73a"/><ellipse cx="1183.1" cy="913.4" rx="5" ry="1.8" fill="#adc638"/><ellipse cx="1183.1" cy="912.4" rx="3.4" ry="1.2" fill="#b0c636"/></g>
<rect x="1108.1" y="903.1" width="147.2" height="243.6" fill="url(#mesh)" mask="url(#m8)"/>
<path d="M1118.1 1121.1A65.6 23.1 0 0 0 1245.3 1121.1" fill="none" stroke="#c4b8ff" stroke-opacity="0.55" stroke-width="1.5"/>
<text class="k" x="845.3" y="1073.2" text-anchor="end">0</text>
<text class="k" x="845.3" y="1001" text-anchor="end">10</text>
<text class="k" x="845.3" y="928.8" text-anchor="end">20</text>
<text class="k" x="845.3" y="856.6" text-anchor="end">30</text>
<text class="k" x="845.3" y="784.4" text-anchor="end">40</text>
<text class="k" x="1132" y="1228.9" text-anchor="end">0</text>
<text class="k" x="988.8" y="1163.2" text-anchor="end">0.5</text>
<text class="k" x="845.6" y="1097.4" text-anchor="end">1</text>
<text class="k" x="1167.1" y="1232.2" text-anchor="start">0</text>
<text class="k" x="1241.8" y="1212.1" text-anchor="start">0.2</text>
<text class="k" x="1316.4" y="1192" text-anchor="start">0.4</text>
<text class="k" x="1391.1" y="1171.9" text-anchor="start">0.6</text>
<text class="k" x="1465.7" y="1151.8" text-anchor="start">0.8</text>
<text class="k" x="1540.4" y="1131.7" text-anchor="start">1</text>
<text class="t" transform="translate(0 667.2) scale(1.1 1)"><tspan x="921.64" letter-spacing="0.4">reconstruction, </tspan><tspan x="1124.55" textLength="15.64" lengthAdjust="spacingAndGlyphs">n</tspan> <tspan x="1152" textLength="19.71" lengthAdjust="spacingAndGlyphs">=</tspan><tspan x="1174.45" letter-spacing="-1.35">10000</tspan></text>
</g>
</svg></body></html>
